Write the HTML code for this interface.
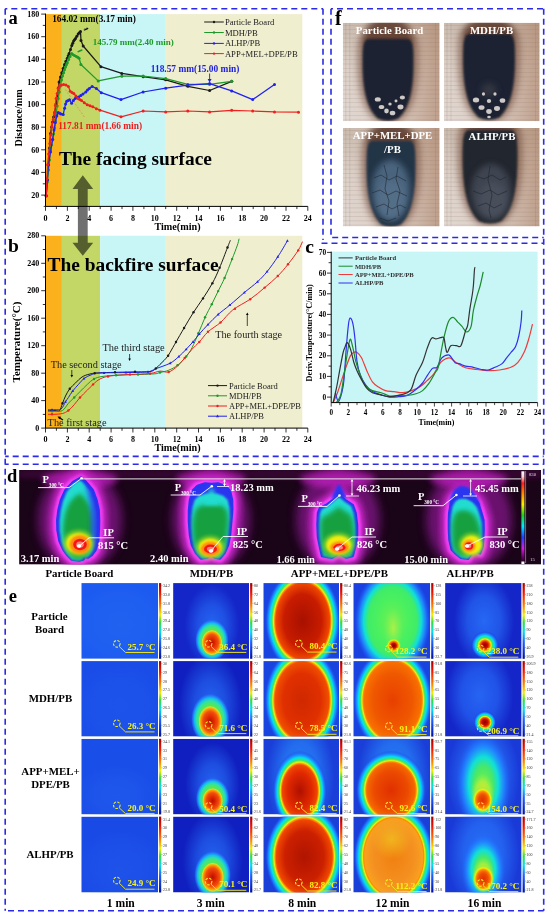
<!DOCTYPE html>
<html><head><meta charset="utf-8"><title>Figure</title>
<style>html,body{margin:0;padding:0;background:#fff;} svg{display:block;} text{font-family:'Liberation Serif', 'Times New Roman', serif;}</style>
</head><body>
<svg width="550" height="920" viewBox="0 0 550 920">
<rect width="550" height="920" fill="#fff"/>
<defs><filter id="bl1" x="-50%" y="-50%" width="200%" height="200%"><feGaussianBlur stdDeviation="1"/></filter><filter id="bl2" x="-50%" y="-50%" width="200%" height="200%"><feGaussianBlur stdDeviation="2"/></filter><filter id="bl3" x="-50%" y="-50%" width="200%" height="200%"><feGaussianBlur stdDeviation="3"/></filter><filter id="bl5" x="-50%" y="-50%" width="200%" height="200%"><feGaussianBlur stdDeviation="5"/></filter><filter id="bl8" x="-50%" y="-50%" width="200%" height="200%"><feGaussianBlur stdDeviation="8"/></filter><filter id="bl05" x="-50%" y="-50%" width="200%" height="200%"><feGaussianBlur stdDeviation="0.6"/></filter><clipPath id="cp1"><rect x="342.8" y="22.8" width="96.8" height="98.4"/></clipPath><linearGradient id="lg2" x1="0" y1="0" x2="0" y2="1"><stop offset="0" stop-color="#cbbcb0" stop-opacity="1"/><stop offset="0.5" stop-color="#ddd2ca" stop-opacity="1"/><stop offset="1" stop-color="#e2d9d3" stop-opacity="1"/></linearGradient><linearGradient id="lg3" x1="0" y1="0" x2="1" y2="0"><stop offset="0" stop-color="#b89078" stop-opacity="0"/><stop offset="0.5" stop-color="#b89078" stop-opacity="0.18"/><stop offset="1" stop-color="#a87c60" stop-opacity="0.62"/></linearGradient><clipPath id="cp4"><rect x="444.0" y="22.8" width="95.6" height="98.4"/></clipPath><linearGradient id="lg5" x1="0" y1="0" x2="0" y2="1"><stop offset="0" stop-color="#cbbcb0" stop-opacity="1"/><stop offset="0.5" stop-color="#ddd2ca" stop-opacity="1"/><stop offset="1" stop-color="#e2d9d3" stop-opacity="1"/></linearGradient><linearGradient id="lg6" x1="0" y1="0" x2="1" y2="0"><stop offset="0" stop-color="#b89078" stop-opacity="0"/><stop offset="0.5" stop-color="#b89078" stop-opacity="0.18"/><stop offset="1" stop-color="#a87c60" stop-opacity="0.62"/></linearGradient><clipPath id="cp7"><rect x="342.8" y="128.0" width="96.8" height="98.4"/></clipPath><linearGradient id="lg8" x1="0" y1="0" x2="0" y2="1"><stop offset="0" stop-color="#cbbcb0" stop-opacity="1"/><stop offset="0.5" stop-color="#ddd2ca" stop-opacity="1"/><stop offset="1" stop-color="#e2d9d3" stop-opacity="1"/></linearGradient><linearGradient id="lg9" x1="0" y1="0" x2="1" y2="0"><stop offset="0" stop-color="#b89078" stop-opacity="0"/><stop offset="0.5" stop-color="#b89078" stop-opacity="0.18"/><stop offset="1" stop-color="#a87c60" stop-opacity="0.62"/></linearGradient><clipPath id="cp10"><rect x="444.0" y="128.0" width="95.6" height="98.4"/></clipPath><linearGradient id="lg11" x1="0" y1="0" x2="0" y2="1"><stop offset="0" stop-color="#cbbcb0" stop-opacity="1"/><stop offset="0.5" stop-color="#ddd2ca" stop-opacity="1"/><stop offset="1" stop-color="#e2d9d3" stop-opacity="1"/></linearGradient><linearGradient id="lg12" x1="0" y1="0" x2="1" y2="0"><stop offset="0" stop-color="#b89078" stop-opacity="0"/><stop offset="0.5" stop-color="#b89078" stop-opacity="0.18"/><stop offset="1" stop-color="#a87c60" stop-opacity="0.62"/></linearGradient><clipPath id="cp13"><rect x="19.1" y="470.0" width="521.9" height="94.6"/></clipPath><linearGradient id="lg14" x1="0" y1="0" x2="0" y2="1"><stop offset="0" stop-color="#ffffff" stop-opacity="1"/><stop offset="0.06" stop-color="#ffd0d0" stop-opacity="1"/><stop offset="0.13" stop-color="#ff2020" stop-opacity="1"/><stop offset="0.25" stop-color="#ff9000" stop-opacity="1"/><stop offset="0.36" stop-color="#f8f000" stop-opacity="1"/><stop offset="0.48" stop-color="#20d020" stop-opacity="1"/><stop offset="0.6" stop-color="#00e8ff" stop-opacity="1"/><stop offset="0.72" stop-color="#2040ff" stop-opacity="1"/><stop offset="0.84" stop-color="#d020e0" stop-opacity="1"/><stop offset="0.94" stop-color="#600060" stop-opacity="1"/><stop offset="1" stop-color="#200020" stop-opacity="1"/></linearGradient><linearGradient id="lg15" x1="0" y1="0" x2="0" y2="1"><stop offset="0" stop-color="#a00000" stop-opacity="1"/><stop offset="0.12" stop-color="#f01000" stop-opacity="1"/><stop offset="0.3" stop-color="#ff8000" stop-opacity="1"/><stop offset="0.42" stop-color="#f0f000" stop-opacity="1"/><stop offset="0.52" stop-color="#30e040" stop-opacity="1"/><stop offset="0.64" stop-color="#00e0f0" stop-opacity="1"/><stop offset="0.78" stop-color="#2060ff" stop-opacity="1"/><stop offset="1" stop-color="#0010a0" stop-opacity="1"/></linearGradient><clipPath id="cp16"><rect x="81.3" y="583.1" width="76.7" height="75.7"/></clipPath><radialGradient id="rg17" cx="0.5" cy="0.5" r="0.5"><stop offset="0" stop-color="#2a70f0" stop-opacity="0.35"/><stop offset="0.55" stop-color="#2a70f0" stop-opacity="0.24499999999999997"/><stop offset="1" stop-color="#2a70f0" stop-opacity="0"/></radialGradient><clipPath id="cp18"><rect x="173.1" y="583.1" width="76.0" height="75.7"/></clipPath><radialGradient id="rg19" cx="0.5" cy="0.5" r="0.5"><stop offset="0" stop-color="#2a7aff" stop-opacity="0.75"/><stop offset="0.5" stop-color="#2a7aff" stop-opacity="0.5"/><stop offset="1" stop-color="#2a7aff" stop-opacity="0"/></radialGradient><radialGradient id="rg20" cx="0.5" cy="0.5" r="0.5"><stop offset="0" stop-color="#60e850" stop-opacity="1"/><stop offset="0.58" stop-color="#50e860" stop-opacity="1"/><stop offset="0.72" stop-color="#30e0a8" stop-opacity="1"/><stop offset="0.83" stop-color="#10c8f0" stop-opacity="0.9"/><stop offset="0.92" stop-color="#2a8cff" stop-opacity="0.6"/><stop offset="1" stop-color="#2a6cff" stop-opacity="0"/></radialGradient><radialGradient id="rg21" cx="0.5" cy="0.5" r="0.5"><stop offset="0" stop-color="#b81000" stop-opacity="1"/><stop offset="0.3" stop-color="#e02800" stop-opacity="1"/><stop offset="0.62" stop-color="#f05010" stop-opacity="1"/><stop offset="0.8" stop-color="#ff9a00" stop-opacity="1"/><stop offset="0.92" stop-color="#f0e020" stop-opacity="0.8"/><stop offset="1" stop-color="#90e040" stop-opacity="0"/></radialGradient><clipPath id="cp22"><rect x="263.3" y="583.1" width="75.8" height="75.7"/></clipPath><radialGradient id="rg23" cx="0.5" cy="0.5" r="0.5"><stop offset="0" stop-color="#a81000" stop-opacity="1"/><stop offset="0.5" stop-color="#c81c00" stop-opacity="1"/><stop offset="0.714" stop-color="#f04800" stop-opacity="1"/><stop offset="0.743" stop-color="#ff8c00" stop-opacity="1"/><stop offset="0.771" stop-color="#e8f010" stop-opacity="1"/><stop offset="0.811" stop-color="#40e860" stop-opacity="1"/><stop offset="0.863" stop-color="#00e0f0" stop-opacity="1"/><stop offset="0.926" stop-color="#2080ff" stop-opacity="0.9"/><stop offset="1" stop-color="#1a44e0" stop-opacity="0"/></radialGradient><clipPath id="cp24"><rect x="353.3" y="583.1" width="76.9" height="75.7"/></clipPath><radialGradient id="rg25" cx="0.5" cy="0.5" r="0.5"><stop offset="0" stop-color="#70f050" stop-opacity="1"/><stop offset="0.45" stop-color="#48f060" stop-opacity="1"/><stop offset="0.64" stop-color="#40ec68" stop-opacity="1"/><stop offset="0.76" stop-color="#10e0d8" stop-opacity="1"/><stop offset="0.87" stop-color="#2090ff" stop-opacity="0.85"/><stop offset="1" stop-color="#2060ff" stop-opacity="0"/></radialGradient><radialGradient id="rg26" cx="0.5" cy="0.5" r="0.5"><stop offset="0" stop-color="#c0f040" stop-opacity="0.8"/><stop offset="1" stop-color="#80f060" stop-opacity="0"/></radialGradient><radialGradient id="rg27" cx="0.5" cy="0.5" r="0.5"><stop offset="0" stop-color="#800000" stop-opacity="1"/><stop offset="0.327" stop-color="#c01000" stop-opacity="1"/><stop offset="0.467" stop-color="#f05000" stop-opacity="1"/><stop offset="0.6" stop-color="#ff9000" stop-opacity="1"/><stop offset="0.733" stop-color="#f0f000" stop-opacity="0.9"/><stop offset="0.867" stop-color="#a0f040" stop-opacity="0.5"/><stop offset="1" stop-color="#60e860" stop-opacity="0"/></radialGradient><clipPath id="cp28"><rect x="445.1" y="583.1" width="76.5" height="75.7"/></clipPath><radialGradient id="rg29" cx="0.5" cy="0.5" r="0.5"><stop offset="0" stop-color="#2a78ff" stop-opacity="0.8"/><stop offset="0.55" stop-color="#2a78ff" stop-opacity="0.5599999999999999"/><stop offset="1" stop-color="#2a78ff" stop-opacity="0"/></radialGradient><radialGradient id="rg30" cx="0.5" cy="0.5" r="0.5"><stop offset="0" stop-color="#900000" stop-opacity="1"/><stop offset="0.207" stop-color="#c81000" stop-opacity="1"/><stop offset="0.296" stop-color="#f04800" stop-opacity="1"/><stop offset="0.366" stop-color="#ff8c00" stop-opacity="1"/><stop offset="0.437" stop-color="#e8f010" stop-opacity="1"/><stop offset="0.535" stop-color="#40e860" stop-opacity="1"/><stop offset="0.662" stop-color="#00e0f0" stop-opacity="1"/><stop offset="0.817" stop-color="#2080ff" stop-opacity="0.9"/><stop offset="1" stop-color="#1426c8" stop-opacity="0"/></radialGradient><clipPath id="cp31"><rect x="81.3" y="661.1" width="76.7" height="75.5"/></clipPath><radialGradient id="rg32" cx="0.5" cy="0.5" r="0.5"><stop offset="0" stop-color="#2464f0" stop-opacity="0.3"/><stop offset="0.55" stop-color="#2464f0" stop-opacity="0.21"/><stop offset="1" stop-color="#2464f0" stop-opacity="0"/></radialGradient><clipPath id="cp33"><rect x="173.1" y="661.1" width="76.0" height="75.5"/></clipPath><radialGradient id="rg34" cx="0.5" cy="0.5" r="0.5"><stop offset="0" stop-color="#2a7aff" stop-opacity="0.75"/><stop offset="0.5" stop-color="#2a7aff" stop-opacity="0.5"/><stop offset="1" stop-color="#2a7aff" stop-opacity="0"/></radialGradient><radialGradient id="rg35" cx="0.5" cy="0.5" r="0.5"><stop offset="0" stop-color="#60e850" stop-opacity="1"/><stop offset="0.58" stop-color="#50e860" stop-opacity="1"/><stop offset="0.72" stop-color="#30e0a8" stop-opacity="1"/><stop offset="0.83" stop-color="#10c8f0" stop-opacity="0.9"/><stop offset="0.92" stop-color="#2a8cff" stop-opacity="0.6"/><stop offset="1" stop-color="#2a6cff" stop-opacity="0"/></radialGradient><radialGradient id="rg36" cx="0.5" cy="0.5" r="0.5"><stop offset="0" stop-color="#b81000" stop-opacity="1"/><stop offset="0.3" stop-color="#e02800" stop-opacity="1"/><stop offset="0.62" stop-color="#f05010" stop-opacity="1"/><stop offset="0.8" stop-color="#ff9a00" stop-opacity="1"/><stop offset="0.92" stop-color="#f0e020" stop-opacity="0.8"/><stop offset="1" stop-color="#90e040" stop-opacity="0"/></radialGradient><clipPath id="cp37"><rect x="263.3" y="661.1" width="75.8" height="75.5"/></clipPath><radialGradient id="rg38" cx="0.5" cy="0.5" r="0.5"><stop offset="0" stop-color="#d02800" stop-opacity="1"/><stop offset="0.501" stop-color="#e03000" stop-opacity="1"/><stop offset="0.716" stop-color="#f05000" stop-opacity="1"/><stop offset="0.744" stop-color="#ff8c00" stop-opacity="1"/><stop offset="0.773" stop-color="#e8f010" stop-opacity="1"/><stop offset="0.812" stop-color="#40e860" stop-opacity="1"/><stop offset="0.864" stop-color="#00e0f0" stop-opacity="1"/><stop offset="0.926" stop-color="#2080ff" stop-opacity="0.9"/><stop offset="1" stop-color="#1a44e0" stop-opacity="0"/></radialGradient><clipPath id="cp39"><rect x="353.3" y="661.1" width="76.9" height="75.5"/></clipPath><radialGradient id="rg40" cx="0.5" cy="0.5" r="0.5"><stop offset="0" stop-color="#e84000" stop-opacity="1"/><stop offset="0.504" stop-color="#f05800" stop-opacity="1"/><stop offset="0.72" stop-color="#f87000" stop-opacity="1"/><stop offset="0.748" stop-color="#ff8c00" stop-opacity="1"/><stop offset="0.776" stop-color="#e8f010" stop-opacity="1"/><stop offset="0.815" stop-color="#40e860" stop-opacity="1"/><stop offset="0.866" stop-color="#00e0f0" stop-opacity="1"/><stop offset="0.927" stop-color="#2080ff" stop-opacity="0.9"/><stop offset="1" stop-color="#1a44e0" stop-opacity="0"/></radialGradient><clipPath id="cp41"><rect x="445.1" y="661.1" width="76.5" height="75.5"/></clipPath><radialGradient id="rg42" cx="0.5" cy="0.5" r="0.5"><stop offset="0" stop-color="#2a74ff" stop-opacity="0.8"/><stop offset="0.55" stop-color="#2a74ff" stop-opacity="0.5599999999999999"/><stop offset="1" stop-color="#2a74ff" stop-opacity="0"/></radialGradient><radialGradient id="rg43" cx="0.5" cy="0.5" r="0.5"><stop offset="0" stop-color="#900000" stop-opacity="1"/><stop offset="0.274" stop-color="#c81000" stop-opacity="1"/><stop offset="0.391" stop-color="#f04800" stop-opacity="1"/><stop offset="0.452" stop-color="#ff8c00" stop-opacity="1"/><stop offset="0.513" stop-color="#e8f010" stop-opacity="1"/><stop offset="0.598" stop-color="#40e860" stop-opacity="1"/><stop offset="0.708" stop-color="#00e0f0" stop-opacity="1"/><stop offset="0.842" stop-color="#2080ff" stop-opacity="0.9"/><stop offset="1" stop-color="#1426c8" stop-opacity="0"/></radialGradient><clipPath id="cp44"><rect x="81.3" y="738.8" width="76.7" height="75.6"/></clipPath><radialGradient id="rg45" cx="0.5" cy="0.5" r="0.5"><stop offset="0" stop-color="#2460ee" stop-opacity="0.45"/><stop offset="0.55" stop-color="#2460ee" stop-opacity="0.315"/><stop offset="1" stop-color="#2460ee" stop-opacity="0"/></radialGradient><clipPath id="cp46"><rect x="173.1" y="738.8" width="76.0" height="75.6"/></clipPath><radialGradient id="rg47" cx="0.5" cy="0.5" r="0.5"><stop offset="0" stop-color="#2a7aff" stop-opacity="0.75"/><stop offset="0.5" stop-color="#2a7aff" stop-opacity="0.5"/><stop offset="1" stop-color="#2a7aff" stop-opacity="0"/></radialGradient><radialGradient id="rg48" cx="0.5" cy="0.5" r="0.5"><stop offset="0" stop-color="#60e850" stop-opacity="1"/><stop offset="0.58" stop-color="#50e860" stop-opacity="1"/><stop offset="0.72" stop-color="#30e0a8" stop-opacity="1"/><stop offset="0.83" stop-color="#10c8f0" stop-opacity="0.9"/><stop offset="0.92" stop-color="#2a8cff" stop-opacity="0.6"/><stop offset="1" stop-color="#2a6cff" stop-opacity="0"/></radialGradient><radialGradient id="rg49" cx="0.5" cy="0.5" r="0.5"><stop offset="0" stop-color="#b81000" stop-opacity="1"/><stop offset="0.3" stop-color="#e02800" stop-opacity="1"/><stop offset="0.62" stop-color="#f05010" stop-opacity="1"/><stop offset="0.8" stop-color="#ff9a00" stop-opacity="1"/><stop offset="0.92" stop-color="#f0e020" stop-opacity="0.8"/><stop offset="1" stop-color="#90e040" stop-opacity="0"/></radialGradient><clipPath id="cp50"><rect x="263.3" y="738.8" width="75.8" height="75.6"/></clipPath><radialGradient id="rg51" cx="0.5" cy="0.5" r="0.5"><stop offset="0" stop-color="#2a90ff" stop-opacity="0.8"/><stop offset="0.55" stop-color="#2a90ff" stop-opacity="0.5599999999999999"/><stop offset="1" stop-color="#2a90ff" stop-opacity="0"/></radialGradient><radialGradient id="rg52" cx="0.5" cy="0.5" r="0.5"><stop offset="0" stop-color="#b01000" stop-opacity="1"/><stop offset="0.451" stop-color="#e02800" stop-opacity="1"/><stop offset="0.644" stop-color="#f04800" stop-opacity="1"/><stop offset="0.68" stop-color="#ff8c00" stop-opacity="1"/><stop offset="0.716" stop-color="#e8f010" stop-opacity="1"/><stop offset="0.765" stop-color="#40e860" stop-opacity="1"/><stop offset="0.829" stop-color="#00e0f0" stop-opacity="1"/><stop offset="0.908" stop-color="#2080ff" stop-opacity="0.9"/><stop offset="1" stop-color="#1a3ed8" stop-opacity="0"/></radialGradient><clipPath id="cp53"><rect x="353.3" y="738.8" width="76.9" height="75.6"/></clipPath><radialGradient id="rg54" cx="0.5" cy="0.5" r="0.5"><stop offset="0" stop-color="#2a90ff" stop-opacity="0.8"/><stop offset="0.55" stop-color="#2a90ff" stop-opacity="0.5599999999999999"/><stop offset="1" stop-color="#2a90ff" stop-opacity="0"/></radialGradient><radialGradient id="rg55" cx="0.5" cy="0.5" r="0.5"><stop offset="0" stop-color="#e03000" stop-opacity="1"/><stop offset="0.476" stop-color="#ec4a00" stop-opacity="1"/><stop offset="0.68" stop-color="#f46800" stop-opacity="1"/><stop offset="0.712" stop-color="#ff8c00" stop-opacity="1"/><stop offset="0.744" stop-color="#e8f010" stop-opacity="1"/><stop offset="0.789" stop-color="#40e860" stop-opacity="1"/><stop offset="0.846" stop-color="#00e0f0" stop-opacity="1"/><stop offset="0.917" stop-color="#2080ff" stop-opacity="0.9"/><stop offset="1" stop-color="#1a3ed8" stop-opacity="0"/></radialGradient><clipPath id="cp56"><rect x="445.1" y="738.8" width="76.5" height="75.6"/></clipPath><radialGradient id="rg57" cx="0.5" cy="0.5" r="0.5"><stop offset="0" stop-color="#2a80ff" stop-opacity="0.8"/><stop offset="0.55" stop-color="#2a80ff" stop-opacity="0.5599999999999999"/><stop offset="1" stop-color="#2a80ff" stop-opacity="0"/></radialGradient><radialGradient id="rg58" cx="0.5" cy="0.5" r="0.5"><stop offset="0" stop-color="#70f050" stop-opacity="1"/><stop offset="0.35" stop-color="#48e868" stop-opacity="1"/><stop offset="0.55" stop-color="#10e0d8" stop-opacity="1"/><stop offset="0.75" stop-color="#2090ff" stop-opacity="0.85"/><stop offset="1" stop-color="#2060ff" stop-opacity="0"/></radialGradient><radialGradient id="rg59" cx="0.5" cy="0.5" r="0.5"><stop offset="0" stop-color="#f0e020" stop-opacity="0.9"/><stop offset="0.6" stop-color="#d0f030" stop-opacity="0.6"/><stop offset="1" stop-color="#a0f040" stop-opacity="0"/></radialGradient><radialGradient id="rg60" cx="0.5" cy="0.5" r="0.5"><stop offset="0" stop-color="#e03000" stop-opacity="1"/><stop offset="0.357" stop-color="#ec4a00" stop-opacity="1"/><stop offset="0.51" stop-color="#f46800" stop-opacity="1"/><stop offset="0.633" stop-color="#ff9000" stop-opacity="1"/><stop offset="0.755" stop-color="#f0f000" stop-opacity="0.9"/><stop offset="0.878" stop-color="#a0f040" stop-opacity="0.5"/><stop offset="1" stop-color="#60e860" stop-opacity="0"/></radialGradient><clipPath id="cp61"><rect x="81.3" y="816.6" width="76.7" height="75.9"/></clipPath><radialGradient id="rg62" cx="0.5" cy="0.5" r="0.5"><stop offset="0" stop-color="#2460ee" stop-opacity="0.35"/><stop offset="0.55" stop-color="#2460ee" stop-opacity="0.24499999999999997"/><stop offset="1" stop-color="#2460ee" stop-opacity="0"/></radialGradient><clipPath id="cp63"><rect x="173.1" y="816.6" width="76.0" height="75.9"/></clipPath><radialGradient id="rg64" cx="0.5" cy="0.5" r="0.5"><stop offset="0" stop-color="#2a7aff" stop-opacity="0.75"/><stop offset="0.5" stop-color="#2a7aff" stop-opacity="0.5"/><stop offset="1" stop-color="#2a7aff" stop-opacity="0"/></radialGradient><radialGradient id="rg65" cx="0.5" cy="0.5" r="0.5"><stop offset="0" stop-color="#60e850" stop-opacity="1"/><stop offset="0.58" stop-color="#50e860" stop-opacity="1"/><stop offset="0.72" stop-color="#30e0a8" stop-opacity="1"/><stop offset="0.83" stop-color="#10c8f0" stop-opacity="0.9"/><stop offset="0.92" stop-color="#2a8cff" stop-opacity="0.6"/><stop offset="1" stop-color="#2a6cff" stop-opacity="0"/></radialGradient><radialGradient id="rg66" cx="0.5" cy="0.5" r="0.5"><stop offset="0" stop-color="#b81000" stop-opacity="1"/><stop offset="0.3" stop-color="#e02800" stop-opacity="1"/><stop offset="0.62" stop-color="#f05010" stop-opacity="1"/><stop offset="0.8" stop-color="#ff9a00" stop-opacity="1"/><stop offset="0.92" stop-color="#f0e020" stop-opacity="0.8"/><stop offset="1" stop-color="#90e040" stop-opacity="0"/></radialGradient><clipPath id="cp67"><rect x="263.3" y="816.6" width="75.8" height="75.9"/></clipPath><radialGradient id="rg68" cx="0.5" cy="0.5" r="0.5"><stop offset="0" stop-color="#b01400" stop-opacity="1"/><stop offset="0.5" stop-color="#cc2000" stop-opacity="1"/><stop offset="0.714" stop-color="#f04800" stop-opacity="1"/><stop offset="0.743" stop-color="#ff8c00" stop-opacity="1"/><stop offset="0.771" stop-color="#e8f010" stop-opacity="1"/><stop offset="0.811" stop-color="#40e860" stop-opacity="1"/><stop offset="0.863" stop-color="#00e0f0" stop-opacity="1"/><stop offset="0.926" stop-color="#2080ff" stop-opacity="0.9"/><stop offset="1" stop-color="#1a3ed8" stop-opacity="0"/></radialGradient><clipPath id="cp69"><rect x="353.3" y="816.6" width="76.9" height="75.9"/></clipPath><radialGradient id="rg70" cx="0.5" cy="0.5" r="0.5"><stop offset="0" stop-color="#f08010" stop-opacity="1"/><stop offset="0.504" stop-color="#f49020" stop-opacity="1"/><stop offset="0.72" stop-color="#f8a020" stop-opacity="1"/><stop offset="0.748" stop-color="#ff8c00" stop-opacity="1"/><stop offset="0.776" stop-color="#e8f010" stop-opacity="1"/><stop offset="0.815" stop-color="#40e860" stop-opacity="1"/><stop offset="0.866" stop-color="#00e0f0" stop-opacity="1"/><stop offset="0.927" stop-color="#2080ff" stop-opacity="0.9"/><stop offset="1" stop-color="#1a3ed8" stop-opacity="0"/></radialGradient><radialGradient id="rg71" cx="0.5" cy="0.5" r="0.5"><stop offset="0" stop-color="#f0d020" stop-opacity="0.6"/><stop offset="1" stop-color="#f0d020" stop-opacity="0"/></radialGradient><clipPath id="cp72"><rect x="445.1" y="816.6" width="76.5" height="75.9"/></clipPath><radialGradient id="rg73" cx="0.5" cy="0.5" r="0.5"><stop offset="0" stop-color="#2a80ff" stop-opacity="0.8"/><stop offset="0.55" stop-color="#2a80ff" stop-opacity="0.5599999999999999"/><stop offset="1" stop-color="#2a80ff" stop-opacity="0"/></radialGradient><radialGradient id="rg74" cx="0.5" cy="0.5" r="0.5"><stop offset="0" stop-color="#70f050" stop-opacity="1"/><stop offset="0.35" stop-color="#48e868" stop-opacity="1"/><stop offset="0.55" stop-color="#10e0d8" stop-opacity="1"/><stop offset="0.75" stop-color="#2090ff" stop-opacity="0.85"/><stop offset="1" stop-color="#2060ff" stop-opacity="0"/></radialGradient><radialGradient id="rg75" cx="0.5" cy="0.5" r="0.5"><stop offset="0" stop-color="#f0e020" stop-opacity="0.9"/><stop offset="0.6" stop-color="#d0f030" stop-opacity="0.6"/><stop offset="1" stop-color="#a0f040" stop-opacity="0"/></radialGradient><radialGradient id="rg76" cx="0.5" cy="0.5" r="0.5"><stop offset="0" stop-color="#e03000" stop-opacity="1"/><stop offset="0.371" stop-color="#ec4a00" stop-opacity="1"/><stop offset="0.529" stop-color="#f46800" stop-opacity="1"/><stop offset="0.647" stop-color="#ff9000" stop-opacity="1"/><stop offset="0.765" stop-color="#f0f000" stop-opacity="0.9"/><stop offset="0.882" stop-color="#a0f040" stop-opacity="0.5"/><stop offset="1" stop-color="#60e860" stop-opacity="0"/></radialGradient></defs>
<rect x="45.5" y="14.1" width="16.4" height="192.3" fill="#fbb11c" />
<rect x="61.9" y="14.1" width="38.3" height="192.3" fill="#c2d766" />
<rect x="100.2" y="14.1" width="65.6" height="192.3" fill="#c8f5f6" />
<rect x="165.7" y="14.1" width="136.6" height="192.3" fill="#efeecf" />
<line x1="84.5" y1="29.6" x2="87.4" y2="28.4" stroke="#111" stroke-width="1.8" stroke-linecap="round"/>
<line x1="78.3" y1="51.5" x2="81.6" y2="50.2" stroke="#1f9a2a" stroke-width="1.8" stroke-linecap="round"/>
<line x1="80.5" y1="31.4" x2="96.0" y2="22.5" stroke="#c8d890" stroke-width="0.6" />
<line x1="72.0" y1="53.0" x2="92.0" y2="44.0" stroke="#c8d890" stroke-width="0.6" />
<line x1="65.3" y1="89.5" x2="84.4" y2="117.0" stroke="#f08060" stroke-width="0.8" stroke-dasharray="2 1.5"/>
<polyline points="46.2,195.8 47.3,180.0 48.4,164.7 49.5,148.0 50.5,133.6 51.6,127.0 52.6,122.0 53.6,117.0 54.7,112.5 56.0,104.0 57.5,95.5 58.3,88.0 59.1,82.0 60.5,77.0 61.8,72.7 63.1,68.5 64.5,64.5 65.9,61.3 67.3,58.2 68.2,55.8 69.1,53.5 70.5,49.5 71.8,45.5 72.7,43.2 73.6,41.0 74.5,39.7 75.5,38.5 76.8,36.3 78.2,34.1 79.3,32.7 80.5,31.4 81.0,40.5 83.2,46.0 100.9,66.7 121.8,73.4 143.1,76.7 165.7,79.8 187.8,86.3 209.6,90.5 231.7,81.3" fill="none" stroke="#1a1a1a" stroke-width="1.25" stroke-linejoin="round" />
<circle cx="46.2" cy="195.8" r="1.5" fill="#1a1a1a"/>
<circle cx="47.3" cy="180.0" r="1.5" fill="#1a1a1a"/>
<circle cx="48.4" cy="164.7" r="1.5" fill="#1a1a1a"/>
<circle cx="49.5" cy="148.0" r="1.5" fill="#1a1a1a"/>
<circle cx="50.5" cy="133.6" r="1.5" fill="#1a1a1a"/>
<circle cx="51.6" cy="127.0" r="1.5" fill="#1a1a1a"/>
<circle cx="52.6" cy="122.0" r="1.5" fill="#1a1a1a"/>
<circle cx="53.6" cy="117.0" r="1.5" fill="#1a1a1a"/>
<circle cx="54.7" cy="112.5" r="1.5" fill="#1a1a1a"/>
<circle cx="56.0" cy="104.0" r="1.5" fill="#1a1a1a"/>
<circle cx="57.5" cy="95.5" r="1.5" fill="#1a1a1a"/>
<circle cx="58.3" cy="88.0" r="1.5" fill="#1a1a1a"/>
<circle cx="59.1" cy="82.0" r="1.5" fill="#1a1a1a"/>
<circle cx="60.5" cy="77.0" r="1.5" fill="#1a1a1a"/>
<circle cx="61.8" cy="72.7" r="1.5" fill="#1a1a1a"/>
<circle cx="63.1" cy="68.5" r="1.5" fill="#1a1a1a"/>
<circle cx="64.5" cy="64.5" r="1.5" fill="#1a1a1a"/>
<circle cx="65.9" cy="61.3" r="1.5" fill="#1a1a1a"/>
<circle cx="67.3" cy="58.2" r="1.5" fill="#1a1a1a"/>
<circle cx="68.2" cy="55.8" r="1.5" fill="#1a1a1a"/>
<circle cx="69.1" cy="53.5" r="1.5" fill="#1a1a1a"/>
<circle cx="70.5" cy="49.5" r="1.5" fill="#1a1a1a"/>
<circle cx="71.8" cy="45.5" r="1.5" fill="#1a1a1a"/>
<circle cx="72.7" cy="43.2" r="1.5" fill="#1a1a1a"/>
<circle cx="73.6" cy="41.0" r="1.5" fill="#1a1a1a"/>
<circle cx="74.5" cy="39.7" r="1.5" fill="#1a1a1a"/>
<circle cx="75.5" cy="38.5" r="1.5" fill="#1a1a1a"/>
<circle cx="76.8" cy="36.3" r="1.5" fill="#1a1a1a"/>
<circle cx="78.2" cy="34.1" r="1.5" fill="#1a1a1a"/>
<circle cx="79.3" cy="32.7" r="1.5" fill="#1a1a1a"/>
<circle cx="80.5" cy="31.4" r="1.5" fill="#1a1a1a"/>
<circle cx="81.0" cy="40.5" r="1.5" fill="#1a1a1a"/>
<circle cx="83.2" cy="46.0" r="1.5" fill="#1a1a1a"/>
<circle cx="100.9" cy="66.7" r="1.5" fill="#1a1a1a"/>
<circle cx="121.8" cy="73.4" r="1.5" fill="#1a1a1a"/>
<circle cx="143.1" cy="76.7" r="1.5" fill="#1a1a1a"/>
<circle cx="165.7" cy="79.8" r="1.5" fill="#1a1a1a"/>
<circle cx="187.8" cy="86.3" r="1.5" fill="#1a1a1a"/>
<circle cx="209.6" cy="90.5" r="1.5" fill="#1a1a1a"/>
<circle cx="231.7" cy="81.3" r="1.5" fill="#1a1a1a"/>
<polyline points="46.2,195.8 47.3,182.0 48.5,170.0 49.5,160.0 50.5,150.0 51.5,145.0 52.6,140.0 53.6,134.0 54.7,128.0 55.4,121.0 56.1,114.0 57.2,106.0 58.2,98.4 59.3,92.0 60.4,86.0 61.5,80.0 62.5,76.0 63.6,72.7 64.5,69.8 65.5,67.0 66.4,64.8 67.3,62.7 68.6,59.5 70.0,56.4 71.7,53.5 72.7,54.5 74.5,55.5 76.4,56.4 77.8,57.3 79.1,58.2 80.9,64.5 98.2,80.9 121.8,76.2 143.1,76.0 165.7,78.6 187.8,84.4 209.6,84.4 231.7,81.3" fill="none" stroke="#1e9a2a" stroke-width="1.25" stroke-linejoin="round" />
<circle cx="46.2" cy="195.8" r="1.5" fill="#1e9a2a"/>
<circle cx="47.3" cy="182.0" r="1.5" fill="#1e9a2a"/>
<circle cx="48.5" cy="170.0" r="1.5" fill="#1e9a2a"/>
<circle cx="49.5" cy="160.0" r="1.5" fill="#1e9a2a"/>
<circle cx="50.5" cy="150.0" r="1.5" fill="#1e9a2a"/>
<circle cx="51.5" cy="145.0" r="1.5" fill="#1e9a2a"/>
<circle cx="52.6" cy="140.0" r="1.5" fill="#1e9a2a"/>
<circle cx="53.6" cy="134.0" r="1.5" fill="#1e9a2a"/>
<circle cx="54.7" cy="128.0" r="1.5" fill="#1e9a2a"/>
<circle cx="55.4" cy="121.0" r="1.5" fill="#1e9a2a"/>
<circle cx="56.1" cy="114.0" r="1.5" fill="#1e9a2a"/>
<circle cx="57.2" cy="106.0" r="1.5" fill="#1e9a2a"/>
<circle cx="58.2" cy="98.4" r="1.5" fill="#1e9a2a"/>
<circle cx="59.3" cy="92.0" r="1.5" fill="#1e9a2a"/>
<circle cx="60.4" cy="86.0" r="1.5" fill="#1e9a2a"/>
<circle cx="61.5" cy="80.0" r="1.5" fill="#1e9a2a"/>
<circle cx="62.5" cy="76.0" r="1.5" fill="#1e9a2a"/>
<circle cx="63.6" cy="72.7" r="1.5" fill="#1e9a2a"/>
<circle cx="64.5" cy="69.8" r="1.5" fill="#1e9a2a"/>
<circle cx="65.5" cy="67.0" r="1.5" fill="#1e9a2a"/>
<circle cx="66.4" cy="64.8" r="1.5" fill="#1e9a2a"/>
<circle cx="67.3" cy="62.7" r="1.5" fill="#1e9a2a"/>
<circle cx="68.6" cy="59.5" r="1.5" fill="#1e9a2a"/>
<circle cx="70.0" cy="56.4" r="1.5" fill="#1e9a2a"/>
<circle cx="71.7" cy="53.5" r="1.5" fill="#1e9a2a"/>
<circle cx="72.7" cy="54.5" r="1.5" fill="#1e9a2a"/>
<circle cx="74.5" cy="55.5" r="1.5" fill="#1e9a2a"/>
<circle cx="76.4" cy="56.4" r="1.5" fill="#1e9a2a"/>
<circle cx="77.8" cy="57.3" r="1.5" fill="#1e9a2a"/>
<circle cx="79.1" cy="58.2" r="1.5" fill="#1e9a2a"/>
<circle cx="80.9" cy="64.5" r="1.5" fill="#1e9a2a"/>
<circle cx="98.2" cy="80.9" r="1.5" fill="#1e9a2a"/>
<circle cx="121.8" cy="76.2" r="1.5" fill="#1e9a2a"/>
<circle cx="143.1" cy="76.0" r="1.5" fill="#1e9a2a"/>
<circle cx="165.7" cy="78.6" r="1.5" fill="#1e9a2a"/>
<circle cx="187.8" cy="84.4" r="1.5" fill="#1e9a2a"/>
<circle cx="209.6" cy="84.4" r="1.5" fill="#1e9a2a"/>
<circle cx="231.7" cy="81.3" r="1.5" fill="#1e9a2a"/>
<polyline points="46.2,195.8 47.3,180.0 48.4,165.0 50.5,152.0 52.6,139.3 54.0,130.0 55.4,122.4 56.8,116.0 58.2,112.5 59.6,113.2 61.0,113.9 63.2,114.6 64.6,108.2 65.6,104.0 66.7,101.2 68.1,100.5 69.5,99.8 71.6,103.3 73.4,100.5 75.2,98.4 77.0,97.6 78.7,96.9 80.8,95.5 83.0,94.1 85.8,92.0 87.5,90.0 89.3,88.5 92.1,86.4 96.4,88.5 101.3,92.7 121.0,99.6 143.1,92.0 165.7,88.2 187.8,85.1 209.6,83.6 231.7,90.9 252.7,99.6 274.5,84.4" fill="none" stroke="#2020f0" stroke-width="1.25" stroke-linejoin="round" />
<circle cx="46.2" cy="195.8" r="1.5" fill="#2020f0"/>
<circle cx="47.3" cy="180.0" r="1.5" fill="#2020f0"/>
<circle cx="48.4" cy="165.0" r="1.5" fill="#2020f0"/>
<circle cx="50.5" cy="152.0" r="1.5" fill="#2020f0"/>
<circle cx="52.6" cy="139.3" r="1.5" fill="#2020f0"/>
<circle cx="54.0" cy="130.0" r="1.5" fill="#2020f0"/>
<circle cx="55.4" cy="122.4" r="1.5" fill="#2020f0"/>
<circle cx="56.8" cy="116.0" r="1.5" fill="#2020f0"/>
<circle cx="58.2" cy="112.5" r="1.5" fill="#2020f0"/>
<circle cx="59.6" cy="113.2" r="1.5" fill="#2020f0"/>
<circle cx="61.0" cy="113.9" r="1.5" fill="#2020f0"/>
<circle cx="63.2" cy="114.6" r="1.5" fill="#2020f0"/>
<circle cx="64.6" cy="108.2" r="1.5" fill="#2020f0"/>
<circle cx="65.6" cy="104.0" r="1.5" fill="#2020f0"/>
<circle cx="66.7" cy="101.2" r="1.5" fill="#2020f0"/>
<circle cx="68.1" cy="100.5" r="1.5" fill="#2020f0"/>
<circle cx="69.5" cy="99.8" r="1.5" fill="#2020f0"/>
<circle cx="71.6" cy="103.3" r="1.5" fill="#2020f0"/>
<circle cx="73.4" cy="100.5" r="1.5" fill="#2020f0"/>
<circle cx="75.2" cy="98.4" r="1.5" fill="#2020f0"/>
<circle cx="77.0" cy="97.6" r="1.5" fill="#2020f0"/>
<circle cx="78.7" cy="96.9" r="1.5" fill="#2020f0"/>
<circle cx="80.8" cy="95.5" r="1.5" fill="#2020f0"/>
<circle cx="83.0" cy="94.1" r="1.5" fill="#2020f0"/>
<circle cx="85.8" cy="92.0" r="1.5" fill="#2020f0"/>
<circle cx="87.5" cy="90.0" r="1.5" fill="#2020f0"/>
<circle cx="89.3" cy="88.5" r="1.5" fill="#2020f0"/>
<circle cx="92.1" cy="86.4" r="1.5" fill="#2020f0"/>
<circle cx="96.4" cy="88.5" r="1.5" fill="#2020f0"/>
<circle cx="101.3" cy="92.7" r="1.5" fill="#2020f0"/>
<circle cx="121.0" cy="99.6" r="1.5" fill="#2020f0"/>
<circle cx="143.1" cy="92.0" r="1.5" fill="#2020f0"/>
<circle cx="165.7" cy="88.2" r="1.5" fill="#2020f0"/>
<circle cx="187.8" cy="85.1" r="1.5" fill="#2020f0"/>
<circle cx="209.6" cy="83.6" r="1.5" fill="#2020f0"/>
<circle cx="231.7" cy="90.9" r="1.5" fill="#2020f0"/>
<circle cx="252.7" cy="99.6" r="1.5" fill="#2020f0"/>
<circle cx="274.5" cy="84.4" r="1.5" fill="#2020f0"/>
<polyline points="46.2,195.8 46.9,178.8 47.6,164.7 48.7,154.0 49.8,143.5 50.8,135.0 51.9,126.6 53.3,119.5 54.7,112.5 55.4,105.5 56.1,98.4 57.2,93.4 58.2,88.5 59.6,85.6 61.5,85.0 63.6,84.5 66.0,85.0 68.4,86.5 70.2,91.3 72.0,92.5 73.8,93.4 75.9,96.0 78.0,98.4 79.7,99.5 81.5,100.5 84.3,102.7 87.2,104.7 90.0,105.8 92.8,106.8 96.4,108.7 100.0,110.2 121.0,116.8 143.1,111.0 165.7,111.9 187.8,111.0 209.6,111.9 231.7,110.3 252.7,111.0 274.5,111.9 298.5,112.2" fill="none" stroke="#f02020" stroke-width="1.25" stroke-linejoin="round" />
<circle cx="46.2" cy="195.8" r="1.5" fill="#f02020"/>
<circle cx="46.9" cy="178.8" r="1.5" fill="#f02020"/>
<circle cx="47.6" cy="164.7" r="1.5" fill="#f02020"/>
<circle cx="48.7" cy="154.0" r="1.5" fill="#f02020"/>
<circle cx="49.8" cy="143.5" r="1.5" fill="#f02020"/>
<circle cx="50.8" cy="135.0" r="1.5" fill="#f02020"/>
<circle cx="51.9" cy="126.6" r="1.5" fill="#f02020"/>
<circle cx="53.3" cy="119.5" r="1.5" fill="#f02020"/>
<circle cx="54.7" cy="112.5" r="1.5" fill="#f02020"/>
<circle cx="55.4" cy="105.5" r="1.5" fill="#f02020"/>
<circle cx="56.1" cy="98.4" r="1.5" fill="#f02020"/>
<circle cx="57.2" cy="93.4" r="1.5" fill="#f02020"/>
<circle cx="58.2" cy="88.5" r="1.5" fill="#f02020"/>
<circle cx="59.6" cy="85.6" r="1.5" fill="#f02020"/>
<circle cx="61.5" cy="85.0" r="1.5" fill="#f02020"/>
<circle cx="63.6" cy="84.5" r="1.5" fill="#f02020"/>
<circle cx="66.0" cy="85.0" r="1.5" fill="#f02020"/>
<circle cx="68.4" cy="86.5" r="1.5" fill="#f02020"/>
<circle cx="70.2" cy="91.3" r="1.5" fill="#f02020"/>
<circle cx="72.0" cy="92.5" r="1.5" fill="#f02020"/>
<circle cx="73.8" cy="93.4" r="1.5" fill="#f02020"/>
<circle cx="75.9" cy="96.0" r="1.5" fill="#f02020"/>
<circle cx="78.0" cy="98.4" r="1.5" fill="#f02020"/>
<circle cx="79.7" cy="99.5" r="1.5" fill="#f02020"/>
<circle cx="81.5" cy="100.5" r="1.5" fill="#f02020"/>
<circle cx="84.3" cy="102.7" r="1.5" fill="#f02020"/>
<circle cx="87.2" cy="104.7" r="1.5" fill="#f02020"/>
<circle cx="90.0" cy="105.8" r="1.5" fill="#f02020"/>
<circle cx="92.8" cy="106.8" r="1.5" fill="#f02020"/>
<circle cx="96.4" cy="108.7" r="1.5" fill="#f02020"/>
<circle cx="100.0" cy="110.2" r="1.5" fill="#f02020"/>
<circle cx="121.0" cy="116.8" r="1.5" fill="#f02020"/>
<circle cx="143.1" cy="111.0" r="1.5" fill="#f02020"/>
<circle cx="165.7" cy="111.9" r="1.5" fill="#f02020"/>
<circle cx="187.8" cy="111.0" r="1.5" fill="#f02020"/>
<circle cx="209.6" cy="111.9" r="1.5" fill="#f02020"/>
<circle cx="231.7" cy="110.3" r="1.5" fill="#f02020"/>
<circle cx="252.7" cy="111.0" r="1.5" fill="#f02020"/>
<circle cx="274.5" cy="111.9" r="1.5" fill="#f02020"/>
<circle cx="298.5" cy="112.2" r="1.5" fill="#f02020"/>
<line x1="45.5" y1="13.6" x2="45.5" y2="206.4" stroke="#000" stroke-width="1.0" />
<line x1="41.2" y1="195.1" x2="45.5" y2="195.1" stroke="#000" stroke-width="0.8" />
<text x="39.2" y="197.7" font-size="8.0" font-weight="bold" fill="#000" text-anchor="end" >20</text>
<line x1="42.8" y1="183.8" x2="45.5" y2="183.8" stroke="#000" stroke-width="0.8" />
<line x1="41.2" y1="172.4" x2="45.5" y2="172.4" stroke="#000" stroke-width="0.8" />
<text x="39.2" y="175.1" font-size="8.0" font-weight="bold" fill="#000" text-anchor="end" >40</text>
<line x1="42.8" y1="161.1" x2="45.5" y2="161.1" stroke="#000" stroke-width="0.8" />
<line x1="41.2" y1="149.8" x2="45.5" y2="149.8" stroke="#000" stroke-width="0.8" />
<text x="39.2" y="152.5" font-size="8.0" font-weight="bold" fill="#000" text-anchor="end" >60</text>
<line x1="42.8" y1="138.5" x2="45.5" y2="138.5" stroke="#000" stroke-width="0.8" />
<line x1="41.2" y1="127.2" x2="45.5" y2="127.2" stroke="#000" stroke-width="0.8" />
<text x="39.2" y="129.8" font-size="8.0" font-weight="bold" fill="#000" text-anchor="end" >80</text>
<line x1="42.8" y1="115.9" x2="45.5" y2="115.9" stroke="#000" stroke-width="0.8" />
<line x1="41.2" y1="104.6" x2="45.5" y2="104.6" stroke="#000" stroke-width="0.8" />
<text x="39.2" y="107.2" font-size="8.0" font-weight="bold" fill="#000" text-anchor="end" >100</text>
<line x1="42.8" y1="93.3" x2="45.5" y2="93.3" stroke="#000" stroke-width="0.8" />
<line x1="41.2" y1="82.0" x2="45.5" y2="82.0" stroke="#000" stroke-width="0.8" />
<text x="39.2" y="84.6" font-size="8.0" font-weight="bold" fill="#000" text-anchor="end" >120</text>
<line x1="42.8" y1="70.6" x2="45.5" y2="70.6" stroke="#000" stroke-width="0.8" />
<line x1="41.2" y1="59.3" x2="45.5" y2="59.3" stroke="#000" stroke-width="0.8" />
<text x="39.2" y="62.0" font-size="8.0" font-weight="bold" fill="#000" text-anchor="end" >140</text>
<line x1="42.8" y1="48.0" x2="45.5" y2="48.0" stroke="#000" stroke-width="0.8" />
<line x1="41.2" y1="36.7" x2="45.5" y2="36.7" stroke="#000" stroke-width="0.8" />
<text x="39.2" y="39.4" font-size="8.0" font-weight="bold" fill="#000" text-anchor="end" >160</text>
<line x1="42.8" y1="25.4" x2="45.5" y2="25.4" stroke="#000" stroke-width="0.8" />
<line x1="41.2" y1="14.1" x2="45.5" y2="14.1" stroke="#000" stroke-width="0.8" />
<text x="39.2" y="16.7" font-size="8.0" font-weight="bold" fill="#000" text-anchor="end" >180</text>
<line x1="43.7" y1="206.4" x2="45.5" y2="206.4" stroke="#000" stroke-width="0.8" />
<line x1="45.5" y1="206.4" x2="307.8" y2="206.4" stroke="#000" stroke-width="1.0" />
<line x1="45.5" y1="206.4" x2="45.5" y2="210.8" stroke="#000" stroke-width="0.8" />
<text x="45.5" y="220.6" font-size="8.0" font-weight="bold" fill="#000" text-anchor="middle" >0</text>
<line x1="56.4" y1="206.4" x2="56.4" y2="209.1" stroke="#000" stroke-width="0.8" />
<line x1="67.4" y1="206.4" x2="67.4" y2="210.8" stroke="#000" stroke-width="0.8" />
<text x="67.4" y="220.6" font-size="8.0" font-weight="bold" fill="#000" text-anchor="middle" >2</text>
<line x1="78.3" y1="206.4" x2="78.3" y2="209.1" stroke="#000" stroke-width="0.8" />
<line x1="89.2" y1="206.4" x2="89.2" y2="210.8" stroke="#000" stroke-width="0.8" />
<text x="89.2" y="220.6" font-size="8.0" font-weight="bold" fill="#000" text-anchor="middle" >4</text>
<line x1="100.2" y1="206.4" x2="100.2" y2="209.1" stroke="#000" stroke-width="0.8" />
<line x1="111.1" y1="206.4" x2="111.1" y2="210.8" stroke="#000" stroke-width="0.8" />
<text x="111.1" y="220.6" font-size="8.0" font-weight="bold" fill="#000" text-anchor="middle" >6</text>
<line x1="122.0" y1="206.4" x2="122.0" y2="209.1" stroke="#000" stroke-width="0.8" />
<line x1="132.9" y1="206.4" x2="132.9" y2="210.8" stroke="#000" stroke-width="0.8" />
<text x="132.9" y="220.6" font-size="8.0" font-weight="bold" fill="#000" text-anchor="middle" >8</text>
<line x1="143.9" y1="206.4" x2="143.9" y2="209.1" stroke="#000" stroke-width="0.8" />
<line x1="154.8" y1="206.4" x2="154.8" y2="210.8" stroke="#000" stroke-width="0.8" />
<text x="154.8" y="220.6" font-size="8.0" font-weight="bold" fill="#000" text-anchor="middle" >10</text>
<line x1="165.7" y1="206.4" x2="165.7" y2="209.1" stroke="#000" stroke-width="0.8" />
<line x1="176.7" y1="206.4" x2="176.7" y2="210.8" stroke="#000" stroke-width="0.8" />
<text x="176.7" y="220.6" font-size="8.0" font-weight="bold" fill="#000" text-anchor="middle" >12</text>
<line x1="187.6" y1="206.4" x2="187.6" y2="209.1" stroke="#000" stroke-width="0.8" />
<line x1="198.5" y1="206.4" x2="198.5" y2="210.8" stroke="#000" stroke-width="0.8" />
<text x="198.5" y="220.6" font-size="8.0" font-weight="bold" fill="#000" text-anchor="middle" >14</text>
<line x1="209.4" y1="206.4" x2="209.4" y2="209.1" stroke="#000" stroke-width="0.8" />
<line x1="220.4" y1="206.4" x2="220.4" y2="210.8" stroke="#000" stroke-width="0.8" />
<text x="220.4" y="220.6" font-size="8.0" font-weight="bold" fill="#000" text-anchor="middle" >16</text>
<line x1="231.3" y1="206.4" x2="231.3" y2="209.1" stroke="#000" stroke-width="0.8" />
<line x1="242.2" y1="206.4" x2="242.2" y2="210.8" stroke="#000" stroke-width="0.8" />
<text x="242.2" y="220.6" font-size="8.0" font-weight="bold" fill="#000" text-anchor="middle" >18</text>
<line x1="253.2" y1="206.4" x2="253.2" y2="209.1" stroke="#000" stroke-width="0.8" />
<line x1="264.1" y1="206.4" x2="264.1" y2="210.8" stroke="#000" stroke-width="0.8" />
<text x="264.1" y="220.6" font-size="8.0" font-weight="bold" fill="#000" text-anchor="middle" >20</text>
<line x1="275.0" y1="206.4" x2="275.0" y2="209.1" stroke="#000" stroke-width="0.8" />
<line x1="286.0" y1="206.4" x2="286.0" y2="210.8" stroke="#000" stroke-width="0.8" />
<text x="286.0" y="220.6" font-size="8.0" font-weight="bold" fill="#000" text-anchor="middle" >22</text>
<line x1="296.9" y1="206.4" x2="296.9" y2="209.1" stroke="#000" stroke-width="0.8" />
<line x1="307.8" y1="206.4" x2="307.8" y2="210.8" stroke="#000" stroke-width="0.8" />
<text x="307.8" y="220.6" font-size="8.0" font-weight="bold" fill="#000" text-anchor="middle" >24</text>
<text x="52.2" y="22.0" font-size="9.3" font-weight="bold" fill="#000" text-anchor="start" >164.02 mm(3.17 min)</text>
<text x="92.7" y="45.0" font-size="9.0" font-weight="bold" fill="#1f9a2a" text-anchor="start" >145.79 mm(2.40 min)</text>
<text x="150.8" y="71.5" font-size="9.4" font-weight="bold" fill="#2020e0" text-anchor="start" >118.57 mm(15.00 min)</text>
<text x="58.2" y="129.2" font-size="9.4" font-weight="bold" fill="#ee1c1c" text-anchor="start" >117.81 mm(1.66 min)</text>
<line x1="209.6" y1="73.5" x2="209.6" y2="80.5" stroke="#2020e0" stroke-width="0.9" />
<path d="M207.6,79 L211.6,79 L209.6,82.5Z" fill="#2020e0"/>
<text x="8.4" y="23.6" font-size="18.5" font-weight="bold" fill="#000" text-anchor="start" >a</text>
<text x="154.4" y="229.5" font-size="10.2" font-weight="bold" fill="#000" text-anchor="start" >Time(min)</text>
<text x="21.6" y="117.9" font-size="10.2" font-weight="bold" text-anchor="middle" transform="rotate(-90 21.6 117.9)">Distance/mm</text>
<text x="58.9" y="164.7" font-size="19.4" font-weight="bold" fill="#000" text-anchor="start" >The facing surface</text>
<line x1="204.2" y1="22.0" x2="223.8" y2="22.0" stroke="#1a1a1a" stroke-width="1.0" />
<circle cx="214" cy="22" r="1.2" fill="#1a1a1a"/>
<text x="224.9" y="25.0" font-size="8.6" font-weight="normal" fill="#222" text-anchor="start" >Particle Board</text>
<line x1="204.2" y1="32.5" x2="223.8" y2="32.5" stroke="#1e9a2a" stroke-width="1.0" />
<circle cx="214" cy="32.5" r="1.2" fill="#1e9a2a"/>
<text x="224.9" y="35.5" font-size="8.6" font-weight="normal" fill="#222" text-anchor="start" >MDH/PB</text>
<line x1="204.2" y1="43.4" x2="223.8" y2="43.4" stroke="#2020f0" stroke-width="1.0" />
<circle cx="214" cy="43.4" r="1.2" fill="#2020f0"/>
<text x="224.9" y="46.4" font-size="8.6" font-weight="normal" fill="#222" text-anchor="start" >ALHP/PB</text>
<line x1="204.2" y1="53.6" x2="223.8" y2="53.6" stroke="#f02020" stroke-width="1.0" />
<circle cx="214" cy="53.6" r="1.2" fill="#f02020"/>
<text x="224.9" y="56.6" font-size="8.6" font-weight="normal" fill="#222" text-anchor="start" >APP+MEL+DPE/PB</text>
<rect x="45.5" y="235.8" width="16.4" height="192.3" fill="#fbb11c" />
<rect x="61.9" y="235.8" width="38.3" height="192.3" fill="#c2d766" />
<rect x="100.2" y="235.8" width="65.6" height="192.3" fill="#c8f5f6" />
<rect x="165.7" y="235.8" width="136.6" height="192.3" fill="#efeecf" />
<path d="M48.0,410.8 C49.2,410.8 53.1,410.6 55.0,410.5 C56.9,410.4 58.4,411.7 59.6,410.5 C60.9,409.3 61.5,405.7 62.5,403.3 C63.5,400.9 64.3,398.4 65.5,396.0 C66.7,393.6 68.1,390.9 69.8,388.7 C71.5,386.5 73.6,384.8 75.6,382.9 C77.6,380.9 79.6,378.5 82.0,377.0 C84.4,375.5 87.0,374.7 90.0,374.0 C93.0,373.3 93.3,373.1 100.0,372.8 C106.7,372.5 121.7,372.2 130.0,372.0 C138.3,371.8 145.7,372.1 150.0,371.5 C154.3,370.9 154.1,369.7 155.8,368.5 C157.5,367.3 158.6,365.7 160.0,364.4 C161.4,363.1 162.7,361.9 164.0,360.5 C165.3,359.1 166.8,357.6 168.1,355.7 C169.4,353.8 170.7,351.3 172.0,349.0 C173.3,346.7 174.0,345.5 176.0,342.0 C178.0,338.5 181.2,332.9 184.1,328.0 C187.0,323.1 190.3,317.2 193.5,312.3 C196.7,307.4 199.8,303.2 203.0,298.4 C206.2,293.5 209.6,288.3 212.4,283.2 C215.2,278.1 217.1,273.8 219.6,267.8 C222.1,261.9 225.7,252.1 227.5,247.5 C229.3,242.9 229.9,241.4 230.4,240.2" fill="none" stroke="#1a1a1a" stroke-width="1.0" stroke-linejoin="round" />
<path d="M48.0,411.3 C49.2,411.3 52.6,411.4 55.0,411.3 C57.4,411.2 60.3,411.8 62.5,410.5 C64.7,409.2 66.5,405.5 68.4,403.3 C70.4,401.1 72.3,399.4 74.2,397.5 C76.1,395.6 77.8,393.8 80.0,391.6 C82.2,389.4 85.0,386.5 87.3,384.4 C89.6,382.3 91.5,380.3 94.0,379.0 C96.5,377.7 97.7,377.2 102.0,376.5 C106.3,375.8 113.7,375.3 120.0,375.0 C126.3,374.7 134.2,374.7 140.0,374.5 C145.8,374.3 151.7,374.1 155.0,373.8 C158.3,373.5 157.7,373.1 160.0,372.5 C162.3,371.9 165.8,371.4 168.7,370.2 C171.6,369.0 174.6,367.6 177.5,365.3 C180.4,363.0 183.8,359.4 186.2,356.5 C188.6,353.6 190.0,351.7 192.0,347.8 C194.0,343.9 196.2,338.4 198.4,333.3 C200.6,328.2 202.9,322.2 205.1,317.3 C207.3,312.4 209.6,308.6 211.8,304.2 C214.0,299.8 216.1,295.5 218.2,291.1 C220.3,286.7 222.3,283.3 224.6,278.0 C226.9,272.7 230.0,264.4 232.1,259.1 C234.2,253.8 235.9,249.4 237.1,246.0 C238.3,242.6 238.8,239.9 239.1,238.7" fill="none" stroke="#1e9a2a" stroke-width="1.0" stroke-linejoin="round" />
<path d="M48.0,414.3 C49.2,414.3 52.6,414.4 55.0,414.3 C57.4,414.2 60.3,414.1 62.5,413.5 C64.7,412.9 66.5,412.0 68.4,410.5 C70.4,409.0 72.3,406.9 74.2,404.7 C76.1,402.5 77.8,399.9 80.0,397.5 C82.2,395.1 85.1,392.4 87.3,390.2 C89.5,388.0 91.0,386.3 93.1,384.4 C95.2,382.5 97.2,380.4 100.0,379.0 C102.8,377.6 105.0,376.8 110.0,376.0 C115.0,375.2 123.3,374.9 130.0,374.5 C136.7,374.1 145.0,374.1 150.0,373.5 C155.0,372.9 156.9,371.4 160.0,371.1 C163.1,370.9 165.8,372.8 168.7,372.0 C171.6,371.2 174.8,368.4 177.5,366.1 C180.2,363.8 182.3,360.8 184.7,358.0 C187.1,355.2 189.6,352.0 192.0,349.3 C194.4,346.6 196.6,344.9 199.3,342.0 C202.0,339.1 204.5,335.1 208.0,331.8 C211.5,328.6 216.4,326.1 220.5,322.5 C224.6,318.9 227.8,313.9 232.7,310.0 C237.6,306.1 244.9,302.9 250.2,299.2 C255.5,295.5 260.1,291.5 264.7,287.6 C269.3,283.7 273.9,279.9 277.8,276.0 C281.7,272.1 284.6,268.6 288.0,264.3 C291.4,260.0 295.8,254.2 298.2,250.4 C300.6,246.6 301.8,243.1 302.5,241.6" fill="none" stroke="#f02020" stroke-width="1.0" stroke-linejoin="round" />
<path d="M48.0,409.8 C49.2,409.8 52.8,409.9 55.0,409.8 C57.2,409.7 59.4,410.3 61.1,409.0 C62.9,407.7 64.3,403.7 65.5,401.8 C66.7,399.9 67.2,399.3 68.4,397.5 C69.6,395.7 71.0,393.2 72.7,391.0 C74.4,388.8 76.6,386.5 78.5,384.4 C80.4,382.3 81.8,380.1 84.0,378.5 C86.2,376.9 89.3,375.4 92.0,374.5 C94.7,373.6 93.7,373.3 100.0,373.0 C106.3,372.7 122.0,372.7 130.0,372.5 C138.0,372.3 143.7,372.4 148.0,371.8 C152.3,371.2 152.1,370.1 155.8,368.7 C159.5,367.3 166.3,365.2 170.2,363.2 C174.0,361.2 176.2,358.8 178.9,356.5 C181.6,354.2 183.9,351.7 186.2,349.3 C188.5,346.9 190.7,344.5 192.9,342.0 C195.1,339.5 196.8,337.0 199.3,334.1 C201.8,331.2 204.8,327.8 208.0,324.5 C211.2,321.2 214.6,317.6 218.2,314.4 C221.8,311.2 225.4,308.8 229.8,305.1 C234.2,301.5 239.8,296.4 244.4,292.5 C249.0,288.6 253.7,285.3 257.5,281.8 C261.3,278.3 263.7,275.8 267.1,271.6 C270.5,267.4 274.4,261.9 277.8,256.8 C281.2,251.7 285.8,243.5 287.4,240.8" fill="none" stroke="#2020f0" stroke-width="1.0" stroke-linejoin="round" />
<circle cx="52.0" cy="410.6" r="1.2" fill="#1a1a1a"/>
<circle cx="62.5" cy="403.3" r="1.2" fill="#1a1a1a"/>
<circle cx="69.8" cy="388.7" r="1.2" fill="#1a1a1a"/>
<circle cx="94.7" cy="373.2" r="1.2" fill="#1a1a1a"/>
<circle cx="115.0" cy="372.2" r="1.2" fill="#1a1a1a"/>
<circle cx="135.0" cy="371.8" r="1.2" fill="#1a1a1a"/>
<circle cx="155.8" cy="368.5" r="1.2" fill="#1a1a1a"/>
<circle cx="168.1" cy="355.7" r="1.2" fill="#1a1a1a"/>
<circle cx="176.0" cy="342.0" r="1.2" fill="#1a1a1a"/>
<circle cx="184.1" cy="328.0" r="1.2" fill="#1a1a1a"/>
<circle cx="193.5" cy="312.3" r="1.2" fill="#1a1a1a"/>
<circle cx="203.0" cy="298.4" r="1.2" fill="#1a1a1a"/>
<circle cx="212.4" cy="283.2" r="1.2" fill="#1a1a1a"/>
<circle cx="219.6" cy="267.8" r="1.2" fill="#1a1a1a"/>
<circle cx="227.5" cy="247.5" r="1.2" fill="#1a1a1a"/>
<circle cx="52.0" cy="411.3" r="1.2" fill="#1e9a2a"/>
<circle cx="74.2" cy="397.5" r="1.2" fill="#1e9a2a"/>
<circle cx="94.0" cy="379.0" r="1.2" fill="#1e9a2a"/>
<circle cx="116.0" cy="375.2" r="1.2" fill="#1e9a2a"/>
<circle cx="138.0" cy="374.5" r="1.2" fill="#1e9a2a"/>
<circle cx="160.0" cy="372.5" r="1.2" fill="#1e9a2a"/>
<circle cx="177.5" cy="365.3" r="1.2" fill="#1e9a2a"/>
<circle cx="186.2" cy="356.5" r="1.2" fill="#1e9a2a"/>
<circle cx="198.4" cy="333.3" r="1.2" fill="#1e9a2a"/>
<circle cx="205.1" cy="317.3" r="1.2" fill="#1e9a2a"/>
<circle cx="211.8" cy="304.2" r="1.2" fill="#1e9a2a"/>
<circle cx="218.2" cy="291.1" r="1.2" fill="#1e9a2a"/>
<circle cx="224.6" cy="278.0" r="1.2" fill="#1e9a2a"/>
<circle cx="232.1" cy="259.1" r="1.2" fill="#1e9a2a"/>
<circle cx="52.0" cy="414.3" r="1.2" fill="#f02020"/>
<circle cx="68.4" cy="410.5" r="1.2" fill="#f02020"/>
<circle cx="80.0" cy="397.5" r="1.2" fill="#f02020"/>
<circle cx="93.1" cy="384.4" r="1.2" fill="#f02020"/>
<circle cx="108.0" cy="376.5" r="1.2" fill="#f02020"/>
<circle cx="130.0" cy="374.5" r="1.2" fill="#f02020"/>
<circle cx="150.0" cy="373.5" r="1.2" fill="#f02020"/>
<circle cx="168.7" cy="372.0" r="1.2" fill="#f02020"/>
<circle cx="184.7" cy="358.0" r="1.2" fill="#f02020"/>
<circle cx="199.3" cy="342.0" r="1.2" fill="#f02020"/>
<circle cx="208.0" cy="331.8" r="1.2" fill="#f02020"/>
<circle cx="220.5" cy="322.5" r="1.2" fill="#f02020"/>
<circle cx="235.0" cy="308.8" r="1.2" fill="#f02020"/>
<circle cx="250.2" cy="299.2" r="1.2" fill="#f02020"/>
<circle cx="264.7" cy="287.6" r="1.2" fill="#f02020"/>
<circle cx="277.8" cy="276.0" r="1.2" fill="#f02020"/>
<circle cx="288.0" cy="264.3" r="1.2" fill="#f02020"/>
<circle cx="298.2" cy="250.4" r="1.2" fill="#f02020"/>
<path d="M52.0,408.2 L53.4,410.8 L50.6,410.8Z" fill="#2020f0"/>
<path d="M65.5,400.2 L66.9,402.8 L64.1,402.8Z" fill="#2020f0"/>
<path d="M72.7,389.4 L74.1,392.0 L71.3,392.0Z" fill="#2020f0"/>
<path d="M84.0,376.9 L85.4,379.5 L82.6,379.5Z" fill="#2020f0"/>
<path d="M104.0,371.4 L105.4,374.0 L102.6,374.0Z" fill="#2020f0"/>
<path d="M126.0,370.9 L127.4,373.5 L124.6,373.5Z" fill="#2020f0"/>
<path d="M148.0,370.2 L149.4,372.8 L146.6,372.8Z" fill="#2020f0"/>
<path d="M170.2,361.6 L171.6,364.2 L168.8,364.2Z" fill="#2020f0"/>
<path d="M178.9,354.9 L180.3,357.5 L177.5,357.5Z" fill="#2020f0"/>
<path d="M186.2,347.7 L187.6,350.3 L184.8,350.3Z" fill="#2020f0"/>
<path d="M192.9,340.4 L194.3,343.0 L191.5,343.0Z" fill="#2020f0"/>
<path d="M199.3,332.5 L200.7,335.1 L197.9,335.1Z" fill="#2020f0"/>
<path d="M208.0,322.9 L209.4,325.5 L206.6,325.5Z" fill="#2020f0"/>
<path d="M218.2,312.8 L219.6,315.4 L216.8,315.4Z" fill="#2020f0"/>
<path d="M229.8,303.5 L231.2,306.1 L228.4,306.1Z" fill="#2020f0"/>
<path d="M244.4,290.9 L245.8,293.5 L243.0,293.5Z" fill="#2020f0"/>
<path d="M257.5,280.2 L258.9,282.8 L256.1,282.8Z" fill="#2020f0"/>
<path d="M267.1,270.0 L268.5,272.6 L265.7,272.6Z" fill="#2020f0"/>
<path d="M277.8,255.2 L279.2,257.8 L276.4,257.8Z" fill="#2020f0"/>
<path d="M287.4,239.2 L288.8,241.8 L286.0,241.8Z" fill="#2020f0"/>
<line x1="45.5" y1="235.8" x2="45.5" y2="428.1" stroke="#000" stroke-width="1.0" />
<line x1="41.2" y1="428.1" x2="45.5" y2="428.1" stroke="#000" stroke-width="0.8" />
<text x="39.2" y="430.7" font-size="8.0" font-weight="bold" fill="#000" text-anchor="end" >0</text>
<line x1="42.8" y1="414.4" x2="45.5" y2="414.4" stroke="#000" stroke-width="0.8" />
<line x1="41.2" y1="400.6" x2="45.5" y2="400.6" stroke="#000" stroke-width="0.8" />
<text x="39.2" y="403.3" font-size="8.0" font-weight="bold" fill="#000" text-anchor="end" >40</text>
<line x1="42.8" y1="386.9" x2="45.5" y2="386.9" stroke="#000" stroke-width="0.8" />
<line x1="41.2" y1="373.2" x2="45.5" y2="373.2" stroke="#000" stroke-width="0.8" />
<text x="39.2" y="375.8" font-size="8.0" font-weight="bold" fill="#000" text-anchor="end" >80</text>
<line x1="42.8" y1="359.4" x2="45.5" y2="359.4" stroke="#000" stroke-width="0.8" />
<line x1="41.2" y1="345.7" x2="45.5" y2="345.7" stroke="#000" stroke-width="0.8" />
<text x="39.2" y="348.3" font-size="8.0" font-weight="bold" fill="#000" text-anchor="end" >120</text>
<line x1="42.8" y1="331.9" x2="45.5" y2="331.9" stroke="#000" stroke-width="0.8" />
<line x1="41.2" y1="318.2" x2="45.5" y2="318.2" stroke="#000" stroke-width="0.8" />
<text x="39.2" y="320.9" font-size="8.0" font-weight="bold" fill="#000" text-anchor="end" >160</text>
<line x1="42.8" y1="304.5" x2="45.5" y2="304.5" stroke="#000" stroke-width="0.8" />
<line x1="41.2" y1="290.7" x2="45.5" y2="290.7" stroke="#000" stroke-width="0.8" />
<text x="39.2" y="293.4" font-size="8.0" font-weight="bold" fill="#000" text-anchor="end" >200</text>
<line x1="42.8" y1="277.0" x2="45.5" y2="277.0" stroke="#000" stroke-width="0.8" />
<line x1="41.2" y1="263.3" x2="45.5" y2="263.3" stroke="#000" stroke-width="0.8" />
<text x="39.2" y="265.9" font-size="8.0" font-weight="bold" fill="#000" text-anchor="end" >240</text>
<line x1="42.8" y1="249.5" x2="45.5" y2="249.5" stroke="#000" stroke-width="0.8" />
<line x1="41.2" y1="235.8" x2="45.5" y2="235.8" stroke="#000" stroke-width="0.8" />
<text x="39.2" y="238.4" font-size="8.0" font-weight="bold" fill="#000" text-anchor="end" >280</text>
<line x1="45.5" y1="428.1" x2="307.8" y2="428.1" stroke="#000" stroke-width="1.0" />
<line x1="45.5" y1="428.1" x2="45.5" y2="432.5" stroke="#000" stroke-width="0.8" />
<text x="45.5" y="442.3" font-size="8.0" font-weight="bold" fill="#000" text-anchor="middle" >0</text>
<line x1="56.4" y1="428.1" x2="56.4" y2="430.8" stroke="#000" stroke-width="0.8" />
<line x1="67.4" y1="428.1" x2="67.4" y2="432.5" stroke="#000" stroke-width="0.8" />
<text x="67.4" y="442.3" font-size="8.0" font-weight="bold" fill="#000" text-anchor="middle" >2</text>
<line x1="78.3" y1="428.1" x2="78.3" y2="430.8" stroke="#000" stroke-width="0.8" />
<line x1="89.2" y1="428.1" x2="89.2" y2="432.5" stroke="#000" stroke-width="0.8" />
<text x="89.2" y="442.3" font-size="8.0" font-weight="bold" fill="#000" text-anchor="middle" >4</text>
<line x1="100.2" y1="428.1" x2="100.2" y2="430.8" stroke="#000" stroke-width="0.8" />
<line x1="111.1" y1="428.1" x2="111.1" y2="432.5" stroke="#000" stroke-width="0.8" />
<text x="111.1" y="442.3" font-size="8.0" font-weight="bold" fill="#000" text-anchor="middle" >6</text>
<line x1="122.0" y1="428.1" x2="122.0" y2="430.8" stroke="#000" stroke-width="0.8" />
<line x1="132.9" y1="428.1" x2="132.9" y2="432.5" stroke="#000" stroke-width="0.8" />
<text x="132.9" y="442.3" font-size="8.0" font-weight="bold" fill="#000" text-anchor="middle" >8</text>
<line x1="143.9" y1="428.1" x2="143.9" y2="430.8" stroke="#000" stroke-width="0.8" />
<line x1="154.8" y1="428.1" x2="154.8" y2="432.5" stroke="#000" stroke-width="0.8" />
<text x="154.8" y="442.3" font-size="8.0" font-weight="bold" fill="#000" text-anchor="middle" >10</text>
<line x1="165.7" y1="428.1" x2="165.7" y2="430.8" stroke="#000" stroke-width="0.8" />
<line x1="176.7" y1="428.1" x2="176.7" y2="432.5" stroke="#000" stroke-width="0.8" />
<text x="176.7" y="442.3" font-size="8.0" font-weight="bold" fill="#000" text-anchor="middle" >12</text>
<line x1="187.6" y1="428.1" x2="187.6" y2="430.8" stroke="#000" stroke-width="0.8" />
<line x1="198.5" y1="428.1" x2="198.5" y2="432.5" stroke="#000" stroke-width="0.8" />
<text x="198.5" y="442.3" font-size="8.0" font-weight="bold" fill="#000" text-anchor="middle" >14</text>
<line x1="209.4" y1="428.1" x2="209.4" y2="430.8" stroke="#000" stroke-width="0.8" />
<line x1="220.4" y1="428.1" x2="220.4" y2="432.5" stroke="#000" stroke-width="0.8" />
<text x="220.4" y="442.3" font-size="8.0" font-weight="bold" fill="#000" text-anchor="middle" >16</text>
<line x1="231.3" y1="428.1" x2="231.3" y2="430.8" stroke="#000" stroke-width="0.8" />
<line x1="242.2" y1="428.1" x2="242.2" y2="432.5" stroke="#000" stroke-width="0.8" />
<text x="242.2" y="442.3" font-size="8.0" font-weight="bold" fill="#000" text-anchor="middle" >18</text>
<line x1="253.2" y1="428.1" x2="253.2" y2="430.8" stroke="#000" stroke-width="0.8" />
<line x1="264.1" y1="428.1" x2="264.1" y2="432.5" stroke="#000" stroke-width="0.8" />
<text x="264.1" y="442.3" font-size="8.0" font-weight="bold" fill="#000" text-anchor="middle" >20</text>
<line x1="275.0" y1="428.1" x2="275.0" y2="430.8" stroke="#000" stroke-width="0.8" />
<line x1="286.0" y1="428.1" x2="286.0" y2="432.5" stroke="#000" stroke-width="0.8" />
<text x="286.0" y="442.3" font-size="8.0" font-weight="bold" fill="#000" text-anchor="middle" >22</text>
<line x1="296.9" y1="428.1" x2="296.9" y2="430.8" stroke="#000" stroke-width="0.8" />
<line x1="307.8" y1="428.1" x2="307.8" y2="432.5" stroke="#000" stroke-width="0.8" />
<text x="307.8" y="442.3" font-size="8.0" font-weight="bold" fill="#000" text-anchor="middle" >24</text>
<text x="8.0" y="251.6" font-size="19.5" font-weight="bold" fill="#000" text-anchor="start" >b</text>
<text x="154.4" y="451.0" font-size="10.2" font-weight="bold" fill="#000" text-anchor="start" >Time(min)</text>
<text x="19.6" y="342" font-size="11" font-weight="bold" text-anchor="middle" transform="rotate(-90 19.6 342)">Temperature(°C)</text>
<text x="47.6" y="271.0" font-size="19.4" font-weight="bold" fill="#000" text-anchor="start" >The backfire surface</text>
<text x="102.4" y="351.0" font-size="10.4" font-weight="normal" fill="#222" text-anchor="start" >The third stage</text>
<text x="50.7" y="368.4" font-size="10.3" font-weight="normal" fill="#222" text-anchor="start" >The second stage</text>
<text x="47.6" y="426.2" font-size="10.3" font-weight="normal" fill="#222" text-anchor="start" >The first stage</text>
<text x="215.3" y="338.2" font-size="10.2" font-weight="normal" fill="#222" text-anchor="start" >The fourth stage</text>
<line x1="129.6" y1="354.0" x2="129.6" y2="359.0" stroke="#000" stroke-width="0.7" />
<path d="M128.3,358.5 L130.9,358.5 L129.6,361.0Z" fill="#000"/>
<line x1="71.8" y1="370.0" x2="71.8" y2="375.5" stroke="#000" stroke-width="0.7" />
<path d="M70.5,375.0 L73.1,375.0 L71.8,377.5Z" fill="#000"/>
<line x1="247.3" y1="326.0" x2="247.3" y2="314.5" stroke="#000" stroke-width="0.7" />
<path d="M246.0,315.0 L248.6,315.0 L247.3,312.5Z" fill="#000"/>
<line x1="59.0" y1="417.5" x2="63.0" y2="420.0" stroke="#000" stroke-width="1.2" />
<path d="M57.5,416.5 L61,416.8 L59.5,419.2Z" fill="#000"/>
<line x1="208.0" y1="385.6" x2="227.0" y2="385.6" stroke="#1a1a1a" stroke-width="1.0" />
<circle cx="217.5" cy="385.6" r="1.2" fill="#1a1a1a"/>
<text x="229.0" y="388.5" font-size="8.5" font-weight="normal" fill="#222" text-anchor="start" >Particle Board</text>
<line x1="208.0" y1="395.8" x2="227.0" y2="395.8" stroke="#1e9a2a" stroke-width="1.0" />
<circle cx="217.5" cy="395.8" r="1.2" fill="#1e9a2a"/>
<text x="229.0" y="398.7" font-size="8.5" font-weight="normal" fill="#222" text-anchor="start" >MDH/PB</text>
<line x1="208.0" y1="406.0" x2="227.0" y2="406.0" stroke="#f02020" stroke-width="1.0" />
<circle cx="217.5" cy="406.0" r="1.2" fill="#f02020"/>
<text x="229.0" y="408.9" font-size="8.5" font-weight="normal" fill="#222" text-anchor="start" >APP+MEL+DPE/PB</text>
<line x1="208.0" y1="416.2" x2="227.0" y2="416.2" stroke="#2020f0" stroke-width="1.0" />
<path d="M217.5,414.59999999999997 L219,417.3 L216,417.3Z" fill="#2020f0"/>
<text x="229.0" y="419.1" font-size="8.5" font-weight="normal" fill="#222" text-anchor="start" >ALHP/PB</text>
<path d="M82.8,175.3 L93.2,188.9 L87.7,188.9 L87.7,242.7 L93.2,242.7 L82.8,255.8 L72.5,242.7 L77.9,242.7 L77.9,188.9 L72.5,188.9 Z" fill="#000" fill-opacity="0.56"/>
<rect x="331.2" y="251.6" width="206.4" height="151.0" fill="#c8f5f6" />
<path d="M333.1,402.6 C333.8,401.0 336.1,396.5 337.5,392.7 C338.9,388.9 340.4,384.0 341.8,379.6 C343.2,375.2 344.8,370.6 346.2,366.6 C347.6,362.6 349.2,358.0 350.5,355.6 C351.8,353.2 352.7,352.9 353.8,352.4 C354.9,351.9 355.8,351.5 357.1,352.4 C358.4,353.3 359.9,354.7 361.5,357.8 C363.1,360.9 365.1,366.9 366.9,370.9 C368.7,374.9 370.4,379.1 372.4,381.8 C374.4,384.5 376.7,385.8 378.9,387.3 C381.1,388.8 382.9,389.9 385.5,390.6 C388.1,391.3 391.3,391.2 394.2,391.6 C397.1,392.0 400.0,392.9 402.9,392.7 C405.8,392.5 408.7,391.6 411.6,390.6 C414.5,389.6 417.9,388.1 420.4,386.5 C422.9,384.9 424.6,383.0 426.8,380.9 C429.0,378.8 431.3,377.1 433.6,374.1 C435.9,371.1 438.4,365.3 440.5,362.7 C442.6,360.1 444.4,359.4 446.1,358.6 C447.8,357.9 449.0,357.5 450.7,358.2 C452.4,358.9 453.9,361.1 456.4,362.7 C458.9,364.3 462.1,366.6 465.5,367.7 C468.9,368.8 473.0,369.0 476.8,369.5 C480.6,370.0 484.4,370.6 488.2,370.7 C492.0,370.8 495.7,370.6 499.5,370.0 C503.3,369.4 507.9,368.5 510.9,367.3 C513.9,366.1 515.4,365.4 517.7,362.7 C520.0,360.0 522.6,355.6 524.5,351.4 C526.4,347.2 527.8,342.2 529.1,337.7 C530.4,333.1 531.9,326.4 532.5,324.1" fill="none" stroke="#f03a3a" stroke-width="1.2" stroke-linejoin="round" />
<path d="M335.3,392.7 C335.8,394.2 337.4,401.5 338.5,401.5 C339.6,401.5 340.9,396.3 341.8,392.7 C342.7,389.1 343.3,386.9 344.0,379.6 C344.7,372.3 345.5,358.2 346.2,349.1 C346.9,340.0 347.8,330.3 348.4,325.1 C349.0,319.9 349.4,318.5 350.1,318.1 C350.8,317.7 351.9,319.5 352.7,322.9 C353.5,326.2 354.2,331.6 354.9,338.2 C355.6,344.8 356.2,356.0 357.1,362.2 C358.0,368.4 358.9,371.5 360.4,375.3 C361.8,379.1 363.8,382.4 365.8,385.1 C367.8,387.8 369.8,390.0 372.4,391.6 C374.9,393.2 378.2,394.0 381.1,394.9 C384.0,395.8 386.9,396.8 389.8,397.1 C392.7,397.4 395.6,397.0 398.5,396.7 C401.4,396.4 404.4,396.6 407.3,395.4 C410.2,394.2 413.4,391.6 416.0,389.5 C418.6,387.4 420.8,385.2 422.6,383.0 C424.4,380.8 425.2,378.8 426.8,376.4 C428.4,374.0 430.8,369.9 432.5,368.4 C434.2,366.9 435.5,369.0 437.0,367.3 C438.5,365.6 439.7,360.3 441.6,358.2 C443.5,356.1 446.7,354.8 448.4,354.8 C450.1,354.8 450.7,356.9 451.8,358.2 C452.9,359.5 453.9,361.8 455.2,362.7 C456.5,363.6 458.1,363.3 459.8,363.9 C461.5,364.5 463.2,365.5 465.5,366.1 C467.8,366.7 470.8,366.7 473.4,367.3 C476.0,367.9 478.9,369.1 481.4,369.5 C483.9,369.9 485.9,370.4 488.2,370.0 C490.5,369.6 492.7,368.3 495.0,367.3 C497.3,366.3 499.9,365.4 501.8,363.9 C503.7,362.4 504.9,360.1 506.4,358.2 C507.9,356.3 509.4,354.4 510.9,352.5 C512.4,350.6 514.2,349.6 515.5,346.8 C516.8,344.0 518.0,339.7 518.9,335.5 C519.8,331.3 520.6,326.0 521.1,321.8 C521.6,317.6 521.7,312.4 521.8,310.5" fill="none" stroke="#3030f0" stroke-width="1.2" stroke-linejoin="round" />
<path d="M336.4,402.6 C337.1,401.3 339.4,399.6 340.7,395.0 C342.0,390.4 342.9,382.2 344.0,375.3 C345.1,368.4 346.3,359.5 347.3,353.5 C348.3,347.5 349.2,340.4 350.1,339.3 C351.0,338.2 351.7,343.1 352.7,346.9 C353.7,350.7 354.7,357.5 356.0,362.2 C357.3,366.9 358.8,371.3 360.4,375.3 C362.0,379.3 363.8,383.6 365.8,386.2 C367.8,388.8 369.8,389.5 372.4,390.6 C374.9,391.7 378.2,391.8 381.1,392.7 C384.0,393.6 386.9,395.6 389.8,396.0 C392.7,396.4 395.6,395.5 398.5,395.4 C401.4,395.3 404.4,395.7 407.3,395.4 C410.2,395.1 413.4,394.6 416.0,393.8 C418.6,393.0 420.4,392.4 422.6,390.6 C424.8,388.8 426.9,386.3 429.1,383.2 C431.3,380.1 434.1,374.6 435.6,372.0 C437.1,369.4 437.2,371.1 438.2,367.3 C439.2,363.5 440.7,354.0 441.6,349.1 C442.6,344.2 442.8,342.2 443.9,337.7 C445.0,333.1 446.9,325.2 448.4,321.8 C449.9,318.4 451.5,317.3 453.0,317.3 C454.5,317.3 456.0,320.3 457.5,321.8 C459.0,323.3 460.5,324.7 462.0,326.4 C463.5,328.1 465.1,332.0 466.6,332.0 C468.1,332.0 470.0,330.0 471.1,326.4 C472.2,322.8 472.4,315.4 473.4,310.5 C474.3,305.6 475.7,301.0 476.8,296.8 C477.9,292.6 479.1,289.7 480.2,285.5 C481.3,281.3 482.7,274.1 483.2,271.8" fill="none" stroke="#1a8a2a" stroke-width="1.2" stroke-linejoin="round" />
<path d="M333.1,402.6 C333.7,400.2 335.3,393.7 336.4,388.4 C337.5,383.1 338.5,376.7 339.6,370.9 C340.7,365.1 342.0,357.5 342.9,353.5 C343.8,349.5 344.4,348.7 345.1,346.9 C345.8,345.1 346.4,342.2 347.3,342.6 C348.2,343.0 349.4,345.8 350.5,349.1 C351.6,352.4 352.7,358.6 353.8,362.2 C354.9,365.8 355.8,368.0 357.1,370.9 C358.4,373.8 359.9,376.7 361.5,379.6 C363.1,382.5 365.1,386.2 366.9,388.4 C368.7,390.6 370.0,391.6 372.4,392.7 C374.8,393.8 378.2,394.2 381.1,394.9 C384.0,395.6 386.9,396.6 389.8,396.7 C392.7,396.8 395.6,396.1 398.5,395.4 C401.4,394.7 405.1,393.9 407.3,392.7 C409.5,391.5 410.2,391.3 411.6,388.4 C413.1,385.5 414.2,379.7 416.0,375.3 C417.8,370.9 420.8,366.6 422.6,362.2 C424.4,357.8 425.6,352.7 426.9,349.1 C428.2,345.5 429.3,342.3 430.2,340.4 C431.1,338.5 431.6,337.9 432.5,337.7 C433.4,337.4 434.6,338.9 435.9,338.9 C437.2,338.9 439.2,337.9 440.5,337.7 C441.8,337.5 443.1,336.2 443.9,337.7 C444.7,339.2 444.9,344.3 445.5,346.8 C446.1,349.3 446.4,352.7 447.3,352.5 C448.2,352.3 449.2,346.8 450.7,345.7 C452.2,344.6 454.7,345.7 456.4,345.7 C458.1,345.7 459.4,348.2 460.9,345.7 C462.4,343.2 464.4,334.3 465.5,330.9 C466.6,327.5 466.9,329.0 467.7,325.2 C468.4,321.4 469.2,313.3 470.0,308.2 C470.8,303.1 471.7,298.3 472.3,294.5 C472.9,290.7 473.0,289.7 473.4,285.5 C473.8,281.3 474.2,272.5 474.5,269.5 C474.8,266.5 475.1,267.7 475.2,267.3" fill="none" stroke="#333" stroke-width="1.2" stroke-linejoin="round" />
<line x1="331.2" y1="251.6" x2="331.2" y2="402.6" stroke="#000" stroke-width="1.0" />
<line x1="327.0" y1="397.1" x2="331.2" y2="397.1" stroke="#000" stroke-width="0.8" />
<text x="326.2" y="399.5" font-size="7.4" font-weight="bold" fill="#000" text-anchor="end" >0</text>
<line x1="328.6" y1="386.8" x2="331.2" y2="386.8" stroke="#000" stroke-width="0.8" />
<line x1="327.0" y1="376.4" x2="331.2" y2="376.4" stroke="#000" stroke-width="0.8" />
<text x="326.2" y="378.9" font-size="7.4" font-weight="bold" fill="#000" text-anchor="end" >10</text>
<line x1="328.6" y1="366.1" x2="331.2" y2="366.1" stroke="#000" stroke-width="0.8" />
<line x1="327.0" y1="355.8" x2="331.2" y2="355.8" stroke="#000" stroke-width="0.8" />
<text x="326.2" y="358.2" font-size="7.4" font-weight="bold" fill="#000" text-anchor="end" >20</text>
<line x1="328.6" y1="345.4" x2="331.2" y2="345.4" stroke="#000" stroke-width="0.8" />
<line x1="327.0" y1="335.1" x2="331.2" y2="335.1" stroke="#000" stroke-width="0.8" />
<text x="326.2" y="337.5" font-size="7.4" font-weight="bold" fill="#000" text-anchor="end" >30</text>
<line x1="328.6" y1="324.8" x2="331.2" y2="324.8" stroke="#000" stroke-width="0.8" />
<line x1="327.0" y1="314.4" x2="331.2" y2="314.4" stroke="#000" stroke-width="0.8" />
<text x="326.2" y="316.9" font-size="7.4" font-weight="bold" fill="#000" text-anchor="end" >40</text>
<line x1="328.6" y1="304.1" x2="331.2" y2="304.1" stroke="#000" stroke-width="0.8" />
<line x1="327.0" y1="293.8" x2="331.2" y2="293.8" stroke="#000" stroke-width="0.8" />
<text x="326.2" y="296.2" font-size="7.4" font-weight="bold" fill="#000" text-anchor="end" >50</text>
<line x1="328.6" y1="283.4" x2="331.2" y2="283.4" stroke="#000" stroke-width="0.8" />
<line x1="327.0" y1="273.1" x2="331.2" y2="273.1" stroke="#000" stroke-width="0.8" />
<text x="326.2" y="275.5" font-size="7.4" font-weight="bold" fill="#000" text-anchor="end" >60</text>
<line x1="328.6" y1="262.7" x2="331.2" y2="262.7" stroke="#000" stroke-width="0.8" />
<line x1="327.0" y1="252.4" x2="331.2" y2="252.4" stroke="#000" stroke-width="0.8" />
<text x="326.2" y="254.9" font-size="7.4" font-weight="bold" fill="#000" text-anchor="end" >70</text>
<line x1="331.2" y1="402.6" x2="537.6" y2="402.6" stroke="#000" stroke-width="1.0" />
<line x1="331.2" y1="402.6" x2="331.2" y2="406.6" stroke="#000" stroke-width="0.7" />
<text x="331.2" y="414.5" font-size="7.2" font-weight="bold" fill="#000" text-anchor="middle" >0</text>
<line x1="339.8" y1="402.6" x2="339.8" y2="405.1" stroke="#000" stroke-width="0.7" />
<line x1="348.4" y1="402.6" x2="348.4" y2="406.6" stroke="#000" stroke-width="0.7" />
<text x="348.4" y="414.5" font-size="7.2" font-weight="bold" fill="#000" text-anchor="middle" >2</text>
<line x1="357.0" y1="402.6" x2="357.0" y2="405.1" stroke="#000" stroke-width="0.7" />
<line x1="365.6" y1="402.6" x2="365.6" y2="406.6" stroke="#000" stroke-width="0.7" />
<text x="365.6" y="414.5" font-size="7.2" font-weight="bold" fill="#000" text-anchor="middle" >4</text>
<line x1="374.2" y1="402.6" x2="374.2" y2="405.1" stroke="#000" stroke-width="0.7" />
<line x1="382.8" y1="402.6" x2="382.8" y2="406.6" stroke="#000" stroke-width="0.7" />
<text x="382.8" y="414.5" font-size="7.2" font-weight="bold" fill="#000" text-anchor="middle" >6</text>
<line x1="391.4" y1="402.6" x2="391.4" y2="405.1" stroke="#000" stroke-width="0.7" />
<line x1="400.0" y1="402.6" x2="400.0" y2="406.6" stroke="#000" stroke-width="0.7" />
<text x="400.0" y="414.5" font-size="7.2" font-weight="bold" fill="#000" text-anchor="middle" >8</text>
<line x1="408.6" y1="402.6" x2="408.6" y2="405.1" stroke="#000" stroke-width="0.7" />
<line x1="417.2" y1="402.6" x2="417.2" y2="406.6" stroke="#000" stroke-width="0.7" />
<text x="417.2" y="414.5" font-size="7.2" font-weight="bold" fill="#000" text-anchor="middle" >10</text>
<line x1="425.8" y1="402.6" x2="425.8" y2="405.1" stroke="#000" stroke-width="0.7" />
<line x1="434.4" y1="402.6" x2="434.4" y2="406.6" stroke="#000" stroke-width="0.7" />
<text x="434.4" y="414.5" font-size="7.2" font-weight="bold" fill="#000" text-anchor="middle" >12</text>
<line x1="443.0" y1="402.6" x2="443.0" y2="405.1" stroke="#000" stroke-width="0.7" />
<line x1="451.6" y1="402.6" x2="451.6" y2="406.6" stroke="#000" stroke-width="0.7" />
<text x="451.6" y="414.5" font-size="7.2" font-weight="bold" fill="#000" text-anchor="middle" >14</text>
<line x1="460.2" y1="402.6" x2="460.2" y2="405.1" stroke="#000" stroke-width="0.7" />
<line x1="468.8" y1="402.6" x2="468.8" y2="406.6" stroke="#000" stroke-width="0.7" />
<text x="468.8" y="414.5" font-size="7.2" font-weight="bold" fill="#000" text-anchor="middle" >16</text>
<line x1="477.4" y1="402.6" x2="477.4" y2="405.1" stroke="#000" stroke-width="0.7" />
<line x1="486.0" y1="402.6" x2="486.0" y2="406.6" stroke="#000" stroke-width="0.7" />
<text x="486.0" y="414.5" font-size="7.2" font-weight="bold" fill="#000" text-anchor="middle" >18</text>
<line x1="494.6" y1="402.6" x2="494.6" y2="405.1" stroke="#000" stroke-width="0.7" />
<line x1="503.2" y1="402.6" x2="503.2" y2="406.6" stroke="#000" stroke-width="0.7" />
<text x="503.2" y="414.5" font-size="7.2" font-weight="bold" fill="#000" text-anchor="middle" >20</text>
<line x1="511.8" y1="402.6" x2="511.8" y2="405.1" stroke="#000" stroke-width="0.7" />
<line x1="520.4" y1="402.6" x2="520.4" y2="406.6" stroke="#000" stroke-width="0.7" />
<text x="520.4" y="414.5" font-size="7.2" font-weight="bold" fill="#000" text-anchor="middle" >22</text>
<line x1="529.0" y1="402.6" x2="529.0" y2="405.1" stroke="#000" stroke-width="0.7" />
<line x1="537.6" y1="402.6" x2="537.6" y2="406.6" stroke="#000" stroke-width="0.7" />
<text x="537.6" y="414.5" font-size="7.2" font-weight="bold" fill="#000" text-anchor="middle" >24</text>
<text x="436.5" y="424.5" font-size="7.9" font-weight="bold" fill="#000" text-anchor="middle" >Time(min)</text>
<text x="312.0" y="332.8" font-size="8.2" font-weight="bold" text-anchor="middle" transform="rotate(-90 312.0 332.8)">Deriv.Temperature(°C/min)</text>
<text x="305.3" y="253.2" font-size="19.5" font-weight="bold" fill="#000" text-anchor="start" >c</text>
<line x1="338.5" y1="257.9" x2="352.7" y2="257.9" stroke="#333" stroke-width="1.0" />
<text x="354.9" y="260.3" font-size="6.6" font-weight="bold" fill="#333" text-anchor="start" >Particle Board</text>
<line x1="338.5" y1="266.2" x2="352.7" y2="266.2" stroke="#1a8a2a" stroke-width="1.0" />
<text x="354.9" y="268.6" font-size="6.6" font-weight="bold" fill="#333" text-anchor="start" >MDH/PB</text>
<line x1="338.5" y1="274.5" x2="352.7" y2="274.5" stroke="#f03a3a" stroke-width="1.0" />
<text x="354.9" y="276.9" font-size="6.6" font-weight="bold" fill="#333" text-anchor="start" >APP+MEL+DPE/PB</text>
<line x1="338.5" y1="283.0" x2="352.7" y2="283.0" stroke="#3030f0" stroke-width="1.0" />
<text x="354.9" y="285.4" font-size="6.6" font-weight="bold" fill="#333" text-anchor="start" >ALHP/PB</text>
<text x="335.0" y="25.0" font-size="20" font-weight="bold" fill="#000" text-anchor="start" >f</text>
<g clip-path="url(#cp1)">
<rect x="342.8" y="22.8" width="96.8" height="98.4" fill="url(#lg2)" />
<rect x="342.8" y="22.8" width="96.8" height="98.4" fill="url(#lg3)" />
<line x1="342.8" y1="25.3" x2="439.6" y2="25.3" stroke="#8c7468" stroke-width="0.5" opacity="0.35"/>
<line x1="342.8" y1="29.6" x2="439.6" y2="29.6" stroke="#8c7468" stroke-width="0.5" opacity="0.35"/>
<line x1="342.8" y1="33.9" x2="439.6" y2="33.9" stroke="#8c7468" stroke-width="0.5" opacity="0.35"/>
<line x1="342.8" y1="38.2" x2="439.6" y2="38.2" stroke="#8c7468" stroke-width="0.5" opacity="0.35"/>
<line x1="342.8" y1="42.5" x2="439.6" y2="42.5" stroke="#8c7468" stroke-width="0.5" opacity="0.35"/>
<line x1="342.8" y1="46.8" x2="439.6" y2="46.8" stroke="#8c7468" stroke-width="0.5" opacity="0.35"/>
<line x1="342.8" y1="51.1" x2="439.6" y2="51.1" stroke="#8c7468" stroke-width="0.5" opacity="0.35"/>
<line x1="342.8" y1="55.4" x2="439.6" y2="55.4" stroke="#8c7468" stroke-width="0.5" opacity="0.35"/>
<line x1="342.8" y1="59.7" x2="439.6" y2="59.7" stroke="#8c7468" stroke-width="0.5" opacity="0.35"/>
<line x1="342.8" y1="64.0" x2="439.6" y2="64.0" stroke="#8c7468" stroke-width="0.5" opacity="0.35"/>
<line x1="342.8" y1="68.3" x2="439.6" y2="68.3" stroke="#8c7468" stroke-width="0.5" opacity="0.35"/>
<line x1="342.8" y1="72.6" x2="439.6" y2="72.6" stroke="#8c7468" stroke-width="0.5" opacity="0.35"/>
<line x1="342.8" y1="76.9" x2="439.6" y2="76.9" stroke="#8c7468" stroke-width="0.5" opacity="0.35"/>
<line x1="342.8" y1="81.2" x2="439.6" y2="81.2" stroke="#8c7468" stroke-width="0.5" opacity="0.35"/>
<line x1="342.8" y1="85.5" x2="439.6" y2="85.5" stroke="#8c7468" stroke-width="0.5" opacity="0.35"/>
<line x1="342.8" y1="89.8" x2="439.6" y2="89.8" stroke="#8c7468" stroke-width="0.5" opacity="0.35"/>
<line x1="342.8" y1="94.1" x2="439.6" y2="94.1" stroke="#8c7468" stroke-width="0.5" opacity="0.35"/>
<line x1="342.8" y1="98.4" x2="439.6" y2="98.4" stroke="#8c7468" stroke-width="0.5" opacity="0.35"/>
<line x1="342.8" y1="102.7" x2="439.6" y2="102.7" stroke="#8c7468" stroke-width="0.5" opacity="0.35"/>
<line x1="342.8" y1="107.0" x2="439.6" y2="107.0" stroke="#8c7468" stroke-width="0.5" opacity="0.35"/>
<line x1="342.8" y1="111.3" x2="439.6" y2="111.3" stroke="#8c7468" stroke-width="0.5" opacity="0.35"/>
<line x1="342.8" y1="115.6" x2="439.6" y2="115.6" stroke="#8c7468" stroke-width="0.5" opacity="0.35"/>
<line x1="342.8" y1="119.9" x2="439.6" y2="119.9" stroke="#8c7468" stroke-width="0.5" opacity="0.35"/>
<line x1="345.8" y1="22.8" x2="345.8" y2="121.2" stroke="#7a6458" stroke-width="0.5" opacity="0.3"/>
<line x1="349.8" y1="22.8" x2="349.8" y2="121.2" stroke="#7a6458" stroke-width="0.5" opacity="0.3"/>
<line x1="435.6" y1="22.8" x2="435.6" y2="121.2" stroke="#7a6458" stroke-width="0.5" opacity="0.3"/>
<path d="M365.1,34.0 C357.5,34.0 357.5,44.7 357.5,60.7 C357.5,87.4 362.1,109.7 375.8,120.3 Q388.0,125.0 400.2,120.3 C413.9,109.7 418.5,87.4 418.5,60.7 C418.5,44.7 418.5,34.0 410.9,34.0 Z" fill="#6a4536" opacity="0.59" filter="url(#bl3)"/>
<ellipse cx="388" cy="37" rx="24.2" ry="20.2" fill="#5a382c" opacity="0.85" filter="url(#bl3)"/>
<path d="M368.9,39.0 C362.5,39.0 362.5,48.8 362.5,63.6 C362.5,88.2 366.3,108.7 377.8,118.5 Q388.0,123.0 398.2,118.5 C409.7,108.7 413.5,88.2 413.5,63.6 C413.5,48.8 413.5,39.0 407.1,39.0 Z" fill="#1f2330" filter="url(#bl1)"/>
<ellipse cx="377.8" cy="99.4" rx="3.0" ry="2.2" fill="#ddd8d4" opacity="0.92" filter="url(#bl05)"/>
<ellipse cx="381.5" cy="107" rx="2.8" ry="2.0" fill="#ddd8d4" opacity="0.92" filter="url(#bl05)"/>
<ellipse cx="386.5" cy="111" rx="2.3" ry="2.4" fill="#ddd8d4" opacity="0.92" filter="url(#bl05)"/>
<ellipse cx="392.5" cy="113" rx="2.8" ry="2.3" fill="#ddd8d4" opacity="0.92" filter="url(#bl05)"/>
<ellipse cx="400.5" cy="107" rx="3.0" ry="2.4" fill="#ddd8d4" opacity="0.92" filter="url(#bl05)"/>
<ellipse cx="402.4" cy="97.5" rx="2.6" ry="2.1" fill="#ddd8d4" opacity="0.92" filter="url(#bl05)"/>
<ellipse cx="390" cy="104" rx="1.7" ry="1.5" fill="#ddd8d4" opacity="0.92" filter="url(#bl05)"/>
<ellipse cx="396" cy="101" rx="1.5" ry="1.4" fill="#ddd8d4" opacity="0.92" filter="url(#bl05)"/>
</g>
<text x="389.6" y="34.0" font-size="10.8" font-weight="bold" fill="#fff" text-anchor="middle" >Particle Board</text>
<g clip-path="url(#cp4)">
<rect x="444.0" y="22.8" width="95.6" height="98.4" fill="url(#lg5)" />
<rect x="444.0" y="22.8" width="95.6" height="98.4" fill="url(#lg6)" />
<line x1="444.0" y1="25.3" x2="539.6" y2="25.3" stroke="#8c7468" stroke-width="0.5" opacity="0.35"/>
<line x1="444.0" y1="29.6" x2="539.6" y2="29.6" stroke="#8c7468" stroke-width="0.5" opacity="0.35"/>
<line x1="444.0" y1="33.9" x2="539.6" y2="33.9" stroke="#8c7468" stroke-width="0.5" opacity="0.35"/>
<line x1="444.0" y1="38.2" x2="539.6" y2="38.2" stroke="#8c7468" stroke-width="0.5" opacity="0.35"/>
<line x1="444.0" y1="42.5" x2="539.6" y2="42.5" stroke="#8c7468" stroke-width="0.5" opacity="0.35"/>
<line x1="444.0" y1="46.8" x2="539.6" y2="46.8" stroke="#8c7468" stroke-width="0.5" opacity="0.35"/>
<line x1="444.0" y1="51.1" x2="539.6" y2="51.1" stroke="#8c7468" stroke-width="0.5" opacity="0.35"/>
<line x1="444.0" y1="55.4" x2="539.6" y2="55.4" stroke="#8c7468" stroke-width="0.5" opacity="0.35"/>
<line x1="444.0" y1="59.7" x2="539.6" y2="59.7" stroke="#8c7468" stroke-width="0.5" opacity="0.35"/>
<line x1="444.0" y1="64.0" x2="539.6" y2="64.0" stroke="#8c7468" stroke-width="0.5" opacity="0.35"/>
<line x1="444.0" y1="68.3" x2="539.6" y2="68.3" stroke="#8c7468" stroke-width="0.5" opacity="0.35"/>
<line x1="444.0" y1="72.6" x2="539.6" y2="72.6" stroke="#8c7468" stroke-width="0.5" opacity="0.35"/>
<line x1="444.0" y1="76.9" x2="539.6" y2="76.9" stroke="#8c7468" stroke-width="0.5" opacity="0.35"/>
<line x1="444.0" y1="81.2" x2="539.6" y2="81.2" stroke="#8c7468" stroke-width="0.5" opacity="0.35"/>
<line x1="444.0" y1="85.5" x2="539.6" y2="85.5" stroke="#8c7468" stroke-width="0.5" opacity="0.35"/>
<line x1="444.0" y1="89.8" x2="539.6" y2="89.8" stroke="#8c7468" stroke-width="0.5" opacity="0.35"/>
<line x1="444.0" y1="94.1" x2="539.6" y2="94.1" stroke="#8c7468" stroke-width="0.5" opacity="0.35"/>
<line x1="444.0" y1="98.4" x2="539.6" y2="98.4" stroke="#8c7468" stroke-width="0.5" opacity="0.35"/>
<line x1="444.0" y1="102.7" x2="539.6" y2="102.7" stroke="#8c7468" stroke-width="0.5" opacity="0.35"/>
<line x1="444.0" y1="107.0" x2="539.6" y2="107.0" stroke="#8c7468" stroke-width="0.5" opacity="0.35"/>
<line x1="444.0" y1="111.3" x2="539.6" y2="111.3" stroke="#8c7468" stroke-width="0.5" opacity="0.35"/>
<line x1="444.0" y1="115.6" x2="539.6" y2="115.6" stroke="#8c7468" stroke-width="0.5" opacity="0.35"/>
<line x1="444.0" y1="119.9" x2="539.6" y2="119.9" stroke="#8c7468" stroke-width="0.5" opacity="0.35"/>
<line x1="447.0" y1="22.8" x2="447.0" y2="121.2" stroke="#7a6458" stroke-width="0.5" opacity="0.3"/>
<line x1="451.0" y1="22.8" x2="451.0" y2="121.2" stroke="#7a6458" stroke-width="0.5" opacity="0.3"/>
<line x1="535.6" y1="22.8" x2="535.6" y2="121.2" stroke="#7a6458" stroke-width="0.5" opacity="0.3"/>
<path d="M465.8,29.0 C458.0,29.0 458.0,40.2 458.0,56.9 C458.0,84.8 462.6,108.0 476.6,119.2 Q489.0,124.0 501.4,119.2 C515.4,108.0 520.0,84.8 520.0,56.9 C520.0,40.2 520.0,29.0 512.2,29.0 Z" fill="#6a4536" opacity="0.59" filter="url(#bl3)"/>
<ellipse cx="489" cy="32" rx="24.7" ry="15.2" fill="#5a382c" opacity="0.85" filter="url(#bl3)"/>
<path d="M469.5,34.0 C463.0,34.0 463.0,44.3 463.0,59.8 C463.0,85.6 466.9,107.1 478.6,117.4 Q489.0,122.0 499.4,117.4 C511.1,107.1 515.0,85.6 515.0,59.8 C515.0,44.3 515.0,34.0 508.5,34.0 Z" fill="#1f2430" filter="url(#bl1)"/>
<ellipse cx="489" cy="90" rx="8" ry="7" fill="#4a4a50" opacity="0.5" filter="url(#bl3)"/>
<ellipse cx="476" cy="100" rx="3.2" ry="2.5" fill="#ddd8d4" opacity="0.92" filter="url(#bl05)"/>
<ellipse cx="481.5" cy="107.5" rx="3.0" ry="2.3" fill="#ddd8d4" opacity="0.92" filter="url(#bl05)"/>
<ellipse cx="489" cy="111.5" rx="2.8" ry="2.4" fill="#ddd8d4" opacity="0.92" filter="url(#bl05)"/>
<ellipse cx="497" cy="108.5" rx="3.0" ry="2.4" fill="#ddd8d4" opacity="0.92" filter="url(#bl05)"/>
<ellipse cx="502.5" cy="100.5" rx="2.8" ry="2.3" fill="#ddd8d4" opacity="0.92" filter="url(#bl05)"/>
<ellipse cx="489" cy="101" rx="2.2" ry="2.0" fill="#ddd8d4" opacity="0.92" filter="url(#bl05)"/>
<ellipse cx="483.5" cy="94" rx="1.6" ry="1.8" fill="#ddd8d4" opacity="0.92" filter="url(#bl05)"/>
<ellipse cx="495" cy="94" rx="1.6" ry="1.8" fill="#ddd8d4" opacity="0.92" filter="url(#bl05)"/>
<ellipse cx="489" cy="117" rx="1.8" ry="1.3" fill="#ddd8d4" opacity="0.92" filter="url(#bl05)"/>
</g>
<text x="491.5" y="33.5" font-size="10.8" font-weight="bold" fill="#fff" text-anchor="middle" >MDH/PB</text>
<g clip-path="url(#cp7)">
<rect x="342.8" y="128.0" width="96.8" height="98.4" fill="url(#lg8)" />
<rect x="342.8" y="128.0" width="96.8" height="98.4" fill="url(#lg9)" />
<line x1="342.8" y1="130.5" x2="439.6" y2="130.5" stroke="#8c7468" stroke-width="0.5" opacity="0.35"/>
<line x1="342.8" y1="134.8" x2="439.6" y2="134.8" stroke="#8c7468" stroke-width="0.5" opacity="0.35"/>
<line x1="342.8" y1="139.1" x2="439.6" y2="139.1" stroke="#8c7468" stroke-width="0.5" opacity="0.35"/>
<line x1="342.8" y1="143.4" x2="439.6" y2="143.4" stroke="#8c7468" stroke-width="0.5" opacity="0.35"/>
<line x1="342.8" y1="147.7" x2="439.6" y2="147.7" stroke="#8c7468" stroke-width="0.5" opacity="0.35"/>
<line x1="342.8" y1="152.0" x2="439.6" y2="152.0" stroke="#8c7468" stroke-width="0.5" opacity="0.35"/>
<line x1="342.8" y1="156.3" x2="439.6" y2="156.3" stroke="#8c7468" stroke-width="0.5" opacity="0.35"/>
<line x1="342.8" y1="160.6" x2="439.6" y2="160.6" stroke="#8c7468" stroke-width="0.5" opacity="0.35"/>
<line x1="342.8" y1="164.9" x2="439.6" y2="164.9" stroke="#8c7468" stroke-width="0.5" opacity="0.35"/>
<line x1="342.8" y1="169.2" x2="439.6" y2="169.2" stroke="#8c7468" stroke-width="0.5" opacity="0.35"/>
<line x1="342.8" y1="173.5" x2="439.6" y2="173.5" stroke="#8c7468" stroke-width="0.5" opacity="0.35"/>
<line x1="342.8" y1="177.8" x2="439.6" y2="177.8" stroke="#8c7468" stroke-width="0.5" opacity="0.35"/>
<line x1="342.8" y1="182.1" x2="439.6" y2="182.1" stroke="#8c7468" stroke-width="0.5" opacity="0.35"/>
<line x1="342.8" y1="186.4" x2="439.6" y2="186.4" stroke="#8c7468" stroke-width="0.5" opacity="0.35"/>
<line x1="342.8" y1="190.7" x2="439.6" y2="190.7" stroke="#8c7468" stroke-width="0.5" opacity="0.35"/>
<line x1="342.8" y1="195.0" x2="439.6" y2="195.0" stroke="#8c7468" stroke-width="0.5" opacity="0.35"/>
<line x1="342.8" y1="199.3" x2="439.6" y2="199.3" stroke="#8c7468" stroke-width="0.5" opacity="0.35"/>
<line x1="342.8" y1="203.6" x2="439.6" y2="203.6" stroke="#8c7468" stroke-width="0.5" opacity="0.35"/>
<line x1="342.8" y1="207.9" x2="439.6" y2="207.9" stroke="#8c7468" stroke-width="0.5" opacity="0.35"/>
<line x1="342.8" y1="212.2" x2="439.6" y2="212.2" stroke="#8c7468" stroke-width="0.5" opacity="0.35"/>
<line x1="342.8" y1="216.5" x2="439.6" y2="216.5" stroke="#8c7468" stroke-width="0.5" opacity="0.35"/>
<line x1="342.8" y1="220.8" x2="439.6" y2="220.8" stroke="#8c7468" stroke-width="0.5" opacity="0.35"/>
<line x1="342.8" y1="225.1" x2="439.6" y2="225.1" stroke="#8c7468" stroke-width="0.5" opacity="0.35"/>
<line x1="345.8" y1="128.0" x2="345.8" y2="226.4" stroke="#7a6458" stroke-width="0.5" opacity="0.3"/>
<line x1="349.8" y1="128.0" x2="349.8" y2="226.4" stroke="#7a6458" stroke-width="0.5" opacity="0.3"/>
<line x1="435.6" y1="128.0" x2="435.6" y2="226.4" stroke="#7a6458" stroke-width="0.5" opacity="0.3"/>
<path d="M368.9,136.0 C361.5,136.0 361.5,147.2 361.5,163.9 C361.5,191.8 365.9,215.1 379.2,226.2 Q391.0,231.0 402.8,226.2 C416.1,215.1 420.5,191.8 420.5,163.9 C420.5,147.2 420.5,136.0 413.1,136.0 Z" fill="#6a4536" opacity="0.59" filter="url(#bl3)"/>
<ellipse cx="391" cy="139" rx="23.3" ry="17.0" fill="#5a382c" opacity="0.85" filter="url(#bl3)"/>
<path d="M372.6,141.0 C366.5,141.0 366.5,151.3 366.5,166.8 C366.5,192.6 370.2,214.1 381.2,224.4 Q391.0,229.0 400.8,224.4 C411.8,214.1 415.5,192.6 415.5,166.8 C415.5,151.3 415.5,141.0 409.4,141.0 Z" fill="#243446" filter="url(#bl1)"/>
<ellipse cx="391" cy="190" rx="19" ry="30" fill="#4e6882" opacity="0.95" filter="url(#bl3)"/>
<ellipse cx="391" cy="200" rx="14" ry="20" fill="#5a748e" opacity="0.6" filter="url(#bl3)"/>
<path d="M374,178 L381,175 L389,180 L397,176 L406,181" fill="none" stroke="#1a2028" stroke-width="0.7" opacity="0.75"/>
<path d="M372,193 L380,190 L388,195 L396,191 L407,196" fill="none" stroke="#1a2028" stroke-width="0.7" opacity="0.75"/>
<path d="M376,207 L384,204 L392,209 L400,205 L406,208" fill="none" stroke="#1a2028" stroke-width="0.7" opacity="0.75"/>
<path d="M384,165 L387,176 L385,189 L389,201 L387,215" fill="none" stroke="#1a2028" stroke-width="0.7" opacity="0.75"/>
<path d="M398,167 L396,179 L400,191 L397,204 L399,216" fill="none" stroke="#1a2028" stroke-width="0.7" opacity="0.75"/>
<path d="M380,218 L388,221 L396,218" fill="none" stroke="#1a2028" stroke-width="0.7" opacity="0.75"/>
</g>
<text x="392.5" y="139.0" font-size="10.8" font-weight="bold" fill="#fff" text-anchor="middle" >APP+MEL+DPE</text>
<text x="392.5" y="153.0" font-size="10.8" font-weight="bold" fill="#fff" text-anchor="middle" >/PB</text>
<g clip-path="url(#cp10)">
<rect x="444.0" y="128.0" width="95.6" height="98.4" fill="url(#lg11)" />
<rect x="444.0" y="128.0" width="95.6" height="98.4" fill="url(#lg12)" />
<line x1="444.0" y1="130.5" x2="539.6" y2="130.5" stroke="#8c7468" stroke-width="0.5" opacity="0.35"/>
<line x1="444.0" y1="134.8" x2="539.6" y2="134.8" stroke="#8c7468" stroke-width="0.5" opacity="0.35"/>
<line x1="444.0" y1="139.1" x2="539.6" y2="139.1" stroke="#8c7468" stroke-width="0.5" opacity="0.35"/>
<line x1="444.0" y1="143.4" x2="539.6" y2="143.4" stroke="#8c7468" stroke-width="0.5" opacity="0.35"/>
<line x1="444.0" y1="147.7" x2="539.6" y2="147.7" stroke="#8c7468" stroke-width="0.5" opacity="0.35"/>
<line x1="444.0" y1="152.0" x2="539.6" y2="152.0" stroke="#8c7468" stroke-width="0.5" opacity="0.35"/>
<line x1="444.0" y1="156.3" x2="539.6" y2="156.3" stroke="#8c7468" stroke-width="0.5" opacity="0.35"/>
<line x1="444.0" y1="160.6" x2="539.6" y2="160.6" stroke="#8c7468" stroke-width="0.5" opacity="0.35"/>
<line x1="444.0" y1="164.9" x2="539.6" y2="164.9" stroke="#8c7468" stroke-width="0.5" opacity="0.35"/>
<line x1="444.0" y1="169.2" x2="539.6" y2="169.2" stroke="#8c7468" stroke-width="0.5" opacity="0.35"/>
<line x1="444.0" y1="173.5" x2="539.6" y2="173.5" stroke="#8c7468" stroke-width="0.5" opacity="0.35"/>
<line x1="444.0" y1="177.8" x2="539.6" y2="177.8" stroke="#8c7468" stroke-width="0.5" opacity="0.35"/>
<line x1="444.0" y1="182.1" x2="539.6" y2="182.1" stroke="#8c7468" stroke-width="0.5" opacity="0.35"/>
<line x1="444.0" y1="186.4" x2="539.6" y2="186.4" stroke="#8c7468" stroke-width="0.5" opacity="0.35"/>
<line x1="444.0" y1="190.7" x2="539.6" y2="190.7" stroke="#8c7468" stroke-width="0.5" opacity="0.35"/>
<line x1="444.0" y1="195.0" x2="539.6" y2="195.0" stroke="#8c7468" stroke-width="0.5" opacity="0.35"/>
<line x1="444.0" y1="199.3" x2="539.6" y2="199.3" stroke="#8c7468" stroke-width="0.5" opacity="0.35"/>
<line x1="444.0" y1="203.6" x2="539.6" y2="203.6" stroke="#8c7468" stroke-width="0.5" opacity="0.35"/>
<line x1="444.0" y1="207.9" x2="539.6" y2="207.9" stroke="#8c7468" stroke-width="0.5" opacity="0.35"/>
<line x1="444.0" y1="212.2" x2="539.6" y2="212.2" stroke="#8c7468" stroke-width="0.5" opacity="0.35"/>
<line x1="444.0" y1="216.5" x2="539.6" y2="216.5" stroke="#8c7468" stroke-width="0.5" opacity="0.35"/>
<line x1="444.0" y1="220.8" x2="539.6" y2="220.8" stroke="#8c7468" stroke-width="0.5" opacity="0.35"/>
<line x1="444.0" y1="225.1" x2="539.6" y2="225.1" stroke="#8c7468" stroke-width="0.5" opacity="0.35"/>
<line x1="447.0" y1="128.0" x2="447.0" y2="226.4" stroke="#7a6458" stroke-width="0.5" opacity="0.3"/>
<line x1="451.0" y1="128.0" x2="451.0" y2="226.4" stroke="#7a6458" stroke-width="0.5" opacity="0.3"/>
<line x1="535.6" y1="128.0" x2="535.6" y2="226.4" stroke="#7a6458" stroke-width="0.5" opacity="0.3"/>
<path d="M465.6,125.0 C457.5,125.0 457.5,137.1 457.5,155.3 C457.5,185.6 462.4,210.8 477.0,223.0 Q490.0,228.0 503.0,223.0 C517.6,210.8 522.5,185.6 522.5,155.3 C522.5,137.1 522.5,125.0 514.4,125.0 Z" fill="#6a4536" opacity="0.59" filter="url(#bl3)"/>
<ellipse cx="490" cy="128" rx="26.1" ry="6.0" fill="#5a382c" opacity="0.85" filter="url(#bl3)"/>
<path d="M469.4,130.0 C462.5,130.0 462.5,141.3 462.5,158.2 C462.5,186.4 466.6,209.9 479.0,221.2 Q490.0,226.0 501.0,221.2 C513.4,209.9 517.5,186.4 517.5,158.2 C517.5,141.3 517.5,130.0 510.6,130.0 Z" fill="#22262e" filter="url(#bl1)"/>
<ellipse cx="491" cy="192" rx="20" ry="28" fill="#454c58" opacity="0.85" filter="url(#bl3)"/>
<ellipse cx="493" cy="200" rx="14" ry="18" fill="#525a66" opacity="0.5" filter="url(#bl3)"/>
<path d="M476,176 L484,179 L492,175 L500,180 L506,177" fill="none" stroke="#1a2028" stroke-width="0.7" opacity="0.75"/>
<path d="M473,191 L481,194 L490,190 L498,195 L507,191" fill="none" stroke="#1a2028" stroke-width="0.7" opacity="0.75"/>
<path d="M478,206 L486,203 L494,208 L502,204" fill="none" stroke="#1a2028" stroke-width="0.7" opacity="0.75"/>
<path d="M490,166 L488,180 L492,195 L489,210 L491,218" fill="none" stroke="#1a2028" stroke-width="0.7" opacity="0.75"/>
</g>
<text x="492.0" y="140.0" font-size="10.8" font-weight="bold" fill="#fff" text-anchor="middle" >ALHP/PB</text>
<g clip-path="url(#cp13)">
<rect x="19.1" y="470.0" width="521.9" height="94.6" fill="#1a0418" />
<ellipse cx="80.0" cy="520.0" rx="42.0" ry="50.0" fill="#a01ca8" opacity="0.6" filter="url(#bl5)"/>
<ellipse cx="80.0" cy="479" rx="38.0" ry="9" fill="#c820c8" opacity="0.7" filter="url(#bl3)"/>
<path d="M81.0,477.5 L86.0,482.0 L92.7,490.0 L96.4,500.0 L98.6,510.0 L99.0,520.0 L98.8,530.0 L98.2,540.0 L95.5,550.0 L91.8,555.0 L88.0,557.5 L85.0,556.5 L83.0,559.5 L79.0,560.5 L72.0,559.5 L67.3,555.0 L63.6,550.0 L59.5,541.0 L57.5,530.0 L57.3,520.0 L58.5,510.0 L61.0,500.0 L65.5,490.0 L73.0,482.0 Z" fill="#d82ad8" stroke="#d82ad8" stroke-width="16" stroke-linejoin="round" opacity="0.9" filter="url(#bl3)"/>
<path d="M81.0,477.5 L86.0,482.0 L92.7,490.0 L96.4,500.0 L98.6,510.0 L99.0,520.0 L98.8,530.0 L98.2,540.0 L95.5,550.0 L91.8,555.0 L88.0,557.5 L85.0,556.5 L83.0,559.5 L79.0,560.5 L72.0,559.5 L67.3,555.0 L63.6,550.0 L59.5,541.0 L57.5,530.0 L57.3,520.0 L58.5,510.0 L61.0,500.0 L65.5,490.0 L73.0,482.0 Z" fill="#f43cf4" stroke="#f440f4" stroke-width="8" stroke-linejoin="round" filter="url(#bl1)"/>
<path d="M81.0,477.5 L86.0,482.0 L92.7,490.0 L96.4,500.0 L98.6,510.0 L99.0,520.0 L98.8,530.0 L98.2,540.0 L95.5,550.0 L91.8,555.0 L88.0,557.5 L85.0,556.5 L83.0,559.5 L79.0,560.5 L72.0,559.5 L67.3,555.0 L63.6,550.0 L59.5,541.0 L57.5,530.0 L57.3,520.0 L58.5,510.0 L61.0,500.0 L65.5,490.0 L73.0,482.0 Z" fill="#2a34f0" stroke="#2a34f0" stroke-width="2.5" stroke-linejoin="round" filter="url(#bl05)"/>
<path d="M81.0,477.5 L86.0,482.0 L92.7,490.0 L96.4,500.0 L98.6,510.0 L99.0,520.0 L98.8,530.0 L98.2,540.0 L95.5,550.0 L91.8,555.0 L88.0,557.5 L85.0,556.5 L83.0,559.5 L79.0,560.5 L72.0,559.5 L67.3,555.0 L63.6,550.0 L59.5,541.0 L57.5,530.0 L57.3,520.0 L58.5,510.0 L61.0,500.0 L65.5,490.0 L73.0,482.0 Z" fill="#22dcd0" filter="url(#bl1)" transform="translate(74.0,560.0) scale(0.86 0.97) translate(-74.0,-560.0)"/>
<path d="M81.0,477.5 L86.0,482.0 L92.7,490.0 L96.4,500.0 L98.6,510.0 L99.0,520.0 L98.8,530.0 L98.2,540.0 L95.5,550.0 L91.8,555.0 L88.0,557.5 L85.0,556.5 L83.0,559.5 L79.0,560.5 L72.0,559.5 L67.3,555.0 L63.6,550.0 L59.5,541.0 L57.5,530.0 L57.3,520.0 L58.5,510.0 L61.0,500.0 L65.5,490.0 L73.0,482.0 Z" fill="#14a040" filter="url(#bl3)" transform="translate(78.0,557.0) scale(0.72 0.8) translate(-78.0,-557.0)"/>
<path d="M85,484 L93,494 L97.5,507 L98.5,525 L97,542 L93,551 L91,540 L91,520 L90,504 Z" fill="#2a34f0" opacity="0.75" filter="url(#bl2)"/>
<ellipse cx="78.6" cy="543.3" rx="14.9" ry="12.6" fill="#a8e020" opacity="0.9" filter="url(#bl2)"/>
<ellipse cx="78.6" cy="543.3" rx="12.0" ry="9.9" fill="#f4ec10" filter="url(#bl1)"/>
<ellipse cx="80" cy="544.5" rx="10.5" ry="9.4" fill="#ff8a10" filter="url(#bl1)"/>
<ellipse cx="80" cy="544.5" rx="6.8" ry="5.8" fill="#f41818" filter="url(#bl05)"/>
<ellipse cx="80" cy="544.5" rx="3.8" ry="3.1" fill="#ff8070" filter="url(#bl05)"/>
<ellipse cx="79" cy="546" rx="2.4" ry="1.8" fill="#fff4f4" filter="url(#bl05)"/>
<ellipse cx="211.0" cy="520.0" rx="39.0" ry="50.0" fill="#a01ca8" opacity="0.6" filter="url(#bl5)"/>
<ellipse cx="211.0" cy="479" rx="35.0" ry="9" fill="#c820c8" opacity="0.7" filter="url(#bl3)"/>
<path d="M211.8,484.0 L218.0,483.5 L225.0,486.0 L230.0,491.0 L232.0,500.0 L232.2,510.0 L231.2,522.0 L230.0,535.0 L228.0,545.0 L224.5,553.0 L220.0,558.5 L215.0,557.5 L211.0,554.5 L207.0,557.5 L201.0,558.5 L196.0,553.0 L192.0,545.0 L190.0,535.0 L189.0,522.0 L189.0,510.0 L190.0,500.0 L192.5,491.0 L197.5,486.0 L205.0,483.5 Z" fill="#d82ad8" stroke="#d82ad8" stroke-width="16" stroke-linejoin="round" opacity="0.9" filter="url(#bl3)"/>
<path d="M211.8,484.0 L218.0,483.5 L225.0,486.0 L230.0,491.0 L232.0,500.0 L232.2,510.0 L231.2,522.0 L230.0,535.0 L228.0,545.0 L224.5,553.0 L220.0,558.5 L215.0,557.5 L211.0,554.5 L207.0,557.5 L201.0,558.5 L196.0,553.0 L192.0,545.0 L190.0,535.0 L189.0,522.0 L189.0,510.0 L190.0,500.0 L192.5,491.0 L197.5,486.0 L205.0,483.5 Z" fill="#f43cf4" stroke="#f440f4" stroke-width="8" stroke-linejoin="round" filter="url(#bl1)"/>
<path d="M211.8,484.0 L218.0,483.5 L225.0,486.0 L230.0,491.0 L232.0,500.0 L232.2,510.0 L231.2,522.0 L230.0,535.0 L228.0,545.0 L224.5,553.0 L220.0,558.5 L215.0,557.5 L211.0,554.5 L207.0,557.5 L201.0,558.5 L196.0,553.0 L192.0,545.0 L190.0,535.0 L189.0,522.0 L189.0,510.0 L190.0,500.0 L192.5,491.0 L197.5,486.0 L205.0,483.5 Z" fill="#2a34f0" stroke="#2a34f0" stroke-width="2.5" stroke-linejoin="round" filter="url(#bl05)"/>
<path d="M211.8,484.0 L218.0,483.5 L225.0,486.0 L230.0,491.0 L232.0,500.0 L232.2,510.0 L231.2,522.0 L230.0,535.0 L228.0,545.0 L224.5,553.0 L220.0,558.5 L215.0,557.5 L211.0,554.5 L207.0,557.5 L201.0,558.5 L196.0,553.0 L192.0,545.0 L190.0,535.0 L189.0,522.0 L189.0,510.0 L190.0,500.0 L192.5,491.0 L197.5,486.0 L205.0,483.5 Z" fill="#22dcd0" filter="url(#bl1)" transform="translate(210.5,556.0) scale(0.88 0.86) translate(-210.5,-556.0)"/>
<path d="M211.8,484.0 L218.0,483.5 L225.0,486.0 L230.0,491.0 L232.0,500.0 L232.2,510.0 L231.2,522.0 L230.0,535.0 L228.0,545.0 L224.5,553.0 L220.0,558.5 L215.0,557.5 L211.0,554.5 L207.0,557.5 L201.0,558.5 L196.0,553.0 L192.0,545.0 L190.0,535.0 L189.0,522.0 L189.0,510.0 L190.0,500.0 L192.5,491.0 L197.5,486.0 L205.0,483.5 Z" fill="#14a040" filter="url(#bl3)" transform="translate(210.5,553.0) scale(0.82 0.7) translate(-210.5,-553.0)"/>
<path d="M203,505 L211.5,487 L220,505 Z" fill="#22dcd0" filter="url(#bl2)"/>
<ellipse cx="210.3" cy="547.4" rx="13.8" ry="11.0" fill="#a8e020" opacity="0.9" filter="url(#bl2)"/>
<ellipse cx="210.3" cy="547.4" rx="11.0" ry="8.6" fill="#f4ec10" filter="url(#bl1)"/>
<ellipse cx="210.5" cy="549" rx="9.9" ry="7.2" fill="#ff8a10" filter="url(#bl1)"/>
<ellipse cx="210.5" cy="549" rx="6.5" ry="4.4" fill="#f41818" filter="url(#bl05)"/>
<ellipse cx="210.5" cy="549" rx="3.6" ry="2.3" fill="#ff8070" filter="url(#bl05)"/>
<ellipse cx="211" cy="551" rx="2.4" ry="1.8" fill="#fff4f4" filter="url(#bl05)"/>
<ellipse cx="338.0" cy="520.0" rx="42.0" ry="50.0" fill="#a01ca8" opacity="0.6" filter="url(#bl5)"/>
<ellipse cx="338.0" cy="479" rx="38.0" ry="9" fill="#c820c8" opacity="0.7" filter="url(#bl3)"/>
<path d="M339.0,495.0 L345.0,500.0 L352.7,505.0 L355.5,513.0 L357.0,525.0 L357.0,537.0 L355.0,547.0 L352.7,556.0 L346.0,557.5 L339.0,553.3 L332.0,557.8 L322.0,556.0 L320.0,547.0 L318.0,537.0 L317.5,525.0 L318.0,513.0 L320.0,508.0 L326.4,505.0 L333.0,500.0 Z" fill="#d82ad8" stroke="#d82ad8" stroke-width="16" stroke-linejoin="round" opacity="0.9" filter="url(#bl3)"/>
<path d="M339.0,495.0 L345.0,500.0 L352.7,505.0 L355.5,513.0 L357.0,525.0 L357.0,537.0 L355.0,547.0 L352.7,556.0 L346.0,557.5 L339.0,553.3 L332.0,557.8 L322.0,556.0 L320.0,547.0 L318.0,537.0 L317.5,525.0 L318.0,513.0 L320.0,508.0 L326.4,505.0 L333.0,500.0 Z" fill="#f43cf4" stroke="#f440f4" stroke-width="8" stroke-linejoin="round" filter="url(#bl1)"/>
<path d="M339.0,495.0 L345.0,500.0 L352.7,505.0 L355.5,513.0 L357.0,525.0 L357.0,537.0 L355.0,547.0 L352.7,556.0 L346.0,557.5 L339.0,553.3 L332.0,557.8 L322.0,556.0 L320.0,547.0 L318.0,537.0 L317.5,525.0 L318.0,513.0 L320.0,508.0 L326.4,505.0 L333.0,500.0 Z" fill="#2a34f0" stroke="#2a34f0" stroke-width="2.5" stroke-linejoin="round" filter="url(#bl05)"/>
<path d="M339.0,495.0 L345.0,500.0 L352.7,505.0 L355.5,513.0 L357.0,525.0 L357.0,537.0 L355.0,547.0 L352.7,556.0 L346.0,557.5 L339.0,553.3 L332.0,557.8 L322.0,556.0 L320.0,547.0 L318.0,537.0 L317.5,525.0 L318.0,513.0 L320.0,508.0 L326.4,505.0 L333.0,500.0 Z" fill="#22dcd0" filter="url(#bl1)" transform="translate(337.5,556.0) scale(0.9 0.975) translate(-337.5,-556.0)"/>
<path d="M339.0,495.0 L345.0,500.0 L352.7,505.0 L355.5,513.0 L357.0,525.0 L357.0,537.0 L355.0,547.0 L352.7,556.0 L346.0,557.5 L339.0,553.3 L332.0,557.8 L322.0,556.0 L320.0,547.0 L318.0,537.0 L317.5,525.0 L318.0,513.0 L320.0,508.0 L326.4,505.0 L333.0,500.0 Z" fill="#14a040" filter="url(#bl3)" transform="translate(337.5,553.0) scale(0.86 0.8) translate(-337.5,-553.0)"/>
<path d="M331,499 C334,492 337,486 339,484 C341,486 344,492 347,499 C344,498 341,497 339,496 C337,497 334,498 331,499 Z" fill="#2a34f0" filter="url(#bl1)"/>
<ellipse cx="338.7" cy="545" rx="14.9" ry="11.5" fill="#a8e020" opacity="0.9" filter="url(#bl2)"/>
<ellipse cx="338.7" cy="545" rx="12.0" ry="9.0" fill="#f4ec10" filter="url(#bl1)"/>
<ellipse cx="339.5" cy="547.5" rx="9.4" ry="6.1" fill="#ff8a10" filter="url(#bl1)"/>
<ellipse cx="339.5" cy="547.5" rx="6.1" ry="3.7" fill="#f41818" filter="url(#bl05)"/>
<ellipse cx="339.5" cy="547.5" rx="3.4" ry="2.0" fill="#ff8070" filter="url(#bl05)"/>
<ellipse cx="337" cy="549" rx="2.4" ry="1.8" fill="#fff4f4" filter="url(#bl05)"/>
<ellipse cx="469.0" cy="520.0" rx="43.0" ry="50.0" fill="#a01ca8" opacity="0.6" filter="url(#bl5)"/>
<ellipse cx="469.0" cy="479" rx="39.0" ry="9" fill="#c820c8" opacity="0.7" filter="url(#bl3)"/>
<path d="M458.0,494.0 L466.0,493.5 L473.0,497.0 L478.0,503.0 L481.0,511.5 L483.4,520.0 L483.6,529.6 L483.2,538.0 L482.7,546.0 L480.0,553.3 L476.0,551.0 L473.0,551.0 L468.0,558.7 L461.0,557.8 L455.0,553.0 L451.8,549.6 L449.5,540.0 L449.0,529.6 L449.0,520.0 L449.2,513.3 L451.0,502.4 L454.0,497.0 Z" fill="#d82ad8" stroke="#d82ad8" stroke-width="16" stroke-linejoin="round" opacity="0.9" filter="url(#bl3)"/>
<path d="M458.0,494.0 L466.0,493.5 L473.0,497.0 L478.0,503.0 L481.0,511.5 L483.4,520.0 L483.6,529.6 L483.2,538.0 L482.7,546.0 L480.0,553.3 L476.0,551.0 L473.0,551.0 L468.0,558.7 L461.0,557.8 L455.0,553.0 L451.8,549.6 L449.5,540.0 L449.0,529.6 L449.0,520.0 L449.2,513.3 L451.0,502.4 L454.0,497.0 Z" fill="#f43cf4" stroke="#f440f4" stroke-width="8" stroke-linejoin="round" filter="url(#bl1)"/>
<path d="M458.0,494.0 L466.0,493.5 L473.0,497.0 L478.0,503.0 L481.0,511.5 L483.4,520.0 L483.6,529.6 L483.2,538.0 L482.7,546.0 L480.0,553.3 L476.0,551.0 L473.0,551.0 L468.0,558.7 L461.0,557.8 L455.0,553.0 L451.8,549.6 L449.5,540.0 L449.0,529.6 L449.0,520.0 L449.2,513.3 L451.0,502.4 L454.0,497.0 Z" fill="#2a34f0" stroke="#2a34f0" stroke-width="2.5" stroke-linejoin="round" filter="url(#bl05)"/>
<path d="M458.0,494.0 L466.0,493.5 L473.0,497.0 L478.0,503.0 L481.0,511.5 L483.4,520.0 L483.6,529.6 L483.2,538.0 L482.7,546.0 L480.0,553.3 L476.0,551.0 L473.0,551.0 L468.0,558.7 L461.0,557.8 L455.0,553.0 L451.8,549.6 L449.5,540.0 L449.0,529.6 L449.0,520.0 L449.2,513.3 L451.0,502.4 L454.0,497.0 Z" fill="#22dcd0" filter="url(#bl1)" transform="translate(466.0,556.0) scale(0.9 0.92) translate(-466.0,-556.0)"/>
<path d="M458.0,494.0 L466.0,493.5 L473.0,497.0 L478.0,503.0 L481.0,511.5 L483.4,520.0 L483.6,529.6 L483.2,538.0 L482.7,546.0 L480.0,553.3 L476.0,551.0 L473.0,551.0 L468.0,558.7 L461.0,557.8 L455.0,553.0 L451.8,549.6 L449.5,540.0 L449.0,529.6 L449.0,520.0 L449.2,513.3 L451.0,502.4 L454.0,497.0 Z" fill="#14a040" filter="url(#bl3)" transform="translate(466.0,553.0) scale(0.82 0.72) translate(-466.0,-553.0)"/>
<path d="M449,506 C450,492 456,486 462,486 C470,486 477,493 481,507 C474,501 468,498 462,497 C456,498 452,501 449,506 Z" fill="#2a34f0" filter="url(#bl1)"/>
<ellipse cx="471.5" cy="545" rx="12.1" ry="11.5" fill="#a8e020" opacity="0.9" filter="url(#bl2)"/>
<ellipse cx="471.5" cy="545" rx="9.7" ry="9.0" fill="#f4ec10" filter="url(#bl1)"/>
<ellipse cx="469" cy="546" rx="6.4" ry="6.1" fill="#ff8a10" filter="url(#bl1)"/>
<ellipse cx="469" cy="546" rx="4.2" ry="3.7" fill="#f41818" filter="url(#bl05)"/>
<ellipse cx="469" cy="546" rx="2.3" ry="2.0" fill="#ff8070" filter="url(#bl05)"/>
<ellipse cx="467" cy="546" rx="2.4" ry="1.8" fill="#fff4f4" filter="url(#bl05)"/>
<rect x="19" y="470" width="522" height="8" fill="#9a1090" opacity="0.25" filter="url(#bl3)"/>
</g>
<rect x="521.4" y="471.3" width="3.0" height="91.7" fill="url(#lg14)" />
<line x1="525.6" y1="471.0" x2="525.6" y2="563.0" stroke="#8a8a8a" stroke-width="0.8" />
<rect x="521.4" y="561.5" width="3.0" height="2.5" fill="#fff" />
<text x="532.5" y="475.5" font-size="4.8" font-weight="normal" fill="#ddd" text-anchor="middle" >830</text>
<text x="532.5" y="560.5" font-size="4.8" font-weight="normal" fill="#ddd" text-anchor="middle" >15</text>
<line x1="81.6" y1="478.9" x2="521.0" y2="478.9" stroke="#e8e8e8" stroke-width="1.0" />
<path d="M38.0,487.6 L69.0,487.6 L81.6,478.3" fill="none" stroke="#fff" stroke-width="0.9"/>
<text x="42.6" y="483.3" font-size="10.5" font-weight="bold" fill="#fff" text-anchor="start" >P</text>
<text x="48.8" y="487.1" font-size="5.2" font-weight="bold" fill="#fff" text-anchor="start" >300 °C</text>
<circle cx="81.6" cy="478.3" r="1.3" fill="#fff"/>
<path d="M170.7,495.0 L200.0,495.0 L211.8,486.2" fill="none" stroke="#fff" stroke-width="0.9"/>
<text x="174.8" y="491.1" font-size="10.5" font-weight="bold" fill="#fff" text-anchor="start" >P</text>
<text x="181.0" y="494.9" font-size="5.2" font-weight="bold" fill="#fff" text-anchor="start" >300 °C</text>
<circle cx="211.8" cy="486.2" r="1.3" fill="#fff"/>
<path d="M298.0,506.4 L327.0,506.4 L339.5,495.5" fill="none" stroke="#fff" stroke-width="0.9"/>
<text x="301.5" y="501.8" font-size="10.5" font-weight="bold" fill="#fff" text-anchor="start" >P</text>
<text x="307.7" y="505.6" font-size="5.2" font-weight="bold" fill="#fff" text-anchor="start" >300 °C</text>
<circle cx="339.5" cy="495.5" r="1.3" fill="#fff"/>
<path d="M413.6,505.7 L443.0,505.7 L456.4,495.0" fill="none" stroke="#fff" stroke-width="0.9"/>
<text x="418.0" y="500.1" font-size="10.5" font-weight="bold" fill="#fff" text-anchor="start" >P</text>
<text x="424.2" y="503.9" font-size="5.2" font-weight="bold" fill="#fff" text-anchor="start" >300 °C</text>
<circle cx="456.4" cy="495.0" r="1.3" fill="#fff"/>
<path d="M79.5,546.0 L89.0,537.8 L114.0,537.8" fill="none" stroke="#fff" stroke-width="0.9"/>
<text x="108.6" y="536.0" font-size="10.5" font-weight="bold" fill="#fff" text-anchor="middle" >IP</text>
<text x="113.0" y="549.1" font-size="10.5" font-weight="bold" fill="#fff" text-anchor="middle" >815 °C</text>
<circle cx="79.5" cy="546" r="1.4" fill="#fff"/>
<path d="M211.0,551.0 L223.0,536.5 L248.0,536.5" fill="none" stroke="#fff" stroke-width="0.9"/>
<text x="242.0" y="534.7" font-size="10.5" font-weight="bold" fill="#fff" text-anchor="middle" >IP</text>
<text x="247.8" y="547.8" font-size="10.5" font-weight="bold" fill="#fff" text-anchor="middle" >825 °C</text>
<circle cx="211" cy="551" r="1.4" fill="#fff"/>
<path d="M337.0,549.0 L352.0,537.0 L376.0,537.0" fill="none" stroke="#fff" stroke-width="0.9"/>
<text x="369.7" y="535.2" font-size="10.5" font-weight="bold" fill="#fff" text-anchor="middle" >IP</text>
<text x="372.0" y="548.3" font-size="10.5" font-weight="bold" fill="#fff" text-anchor="middle" >826 °C</text>
<circle cx="337" cy="549" r="1.4" fill="#fff"/>
<path d="M467.0,546.0 L485.0,537.0 L508.0,537.0" fill="none" stroke="#fff" stroke-width="0.9"/>
<text x="502.5" y="535.2" font-size="10.5" font-weight="bold" fill="#fff" text-anchor="middle" >IP</text>
<text x="504.5" y="548.3" font-size="10.5" font-weight="bold" fill="#fff" text-anchor="middle" >830 °C</text>
<circle cx="467" cy="546" r="1.4" fill="#fff"/>
<text x="40.1" y="561.8" font-size="10.5" font-weight="bold" fill="#fff" text-anchor="middle" >3.17 min</text>
<text x="169.3" y="562.3" font-size="10.5" font-weight="bold" fill="#fff" text-anchor="middle" >2.40 min</text>
<text x="295.7" y="563.0" font-size="10.5" font-weight="bold" fill="#fff" text-anchor="middle" >1.66 min</text>
<text x="426.2" y="562.8" font-size="10.5" font-weight="bold" fill="#fff" text-anchor="middle" >15.00 min</text>
<line x1="224.5" y1="481.0" x2="224.5" y2="484.5" stroke="#fff" stroke-width="0.8" />
<path d="M223.1,481.6 L225.9,481.6 L224.5,479.0Z M223.1,483.9 L225.9,483.9 L224.5,486.5Z" fill="#fff"/>
<line x1="217.0" y1="486.5" x2="229.0" y2="486.5" stroke="#fff" stroke-width="0.8" />
<text x="230.0" y="490.5" font-size="10.5" font-weight="bold" fill="#fff" text-anchor="start" >18.23 mm</text>
<line x1="352.0" y1="481.0" x2="352.0" y2="494.0" stroke="#fff" stroke-width="0.8" />
<path d="M350.6,481.6 L353.4,481.6 L352.0,479.0Z M350.6,493.4 L353.4,493.4 L352.0,496.0Z" fill="#fff"/>
<line x1="346.0" y1="496.0" x2="359.0" y2="496.0" stroke="#fff" stroke-width="0.8" />
<text x="356.5" y="492.2" font-size="10.5" font-weight="bold" fill="#fff" text-anchor="start" >46.23 mm</text>
<line x1="470.6" y1="481.0" x2="470.6" y2="494.0" stroke="#fff" stroke-width="0.8" />
<path d="M469.2,481.6 L472.0,481.6 L470.6,479.0Z M469.2,493.4 L472.0,493.4 L470.6,496.0Z" fill="#fff"/>
<line x1="463.0" y1="496.0" x2="477.0" y2="496.0" stroke="#fff" stroke-width="0.8" />
<text x="475.0" y="492.2" font-size="10.5" font-weight="bold" fill="#fff" text-anchor="start" >45.45 mm</text>
<text x="7.0" y="482.0" font-size="18.5" font-weight="bold" fill="#000" text-anchor="start" >d</text>
<text x="79.4" y="576.8" font-size="10.9" font-weight="bold" fill="#000" text-anchor="middle" >Particle Board</text>
<text x="211.5" y="576.8" font-size="10.9" font-weight="bold" fill="#000" text-anchor="middle" >MDH/PB</text>
<text x="339.4" y="576.8" font-size="10.9" font-weight="bold" fill="#000" text-anchor="middle" >APP+MEL+DPE/PB</text>
<text x="470.2" y="576.8" font-size="10.9" font-weight="bold" fill="#000" text-anchor="middle" >ALHP/PB</text>
<text x="8.8" y="601.8" font-size="18.5" font-weight="bold" fill="#000" text-anchor="start" >e</text>
<g clip-path="url(#cp16)">
<rect x="81.3" y="583.1" width="76.7" height="75.7" fill="#1c5af0" />
<ellipse cx="119.7" cy="624.7" rx="50.0" ry="45.0" fill="url(#rg17)"/>
<circle cx="116.8" cy="643.8" r="3.3" fill="none" stroke="#f0f020" stroke-width="1.1" stroke-dasharray="2.6 1.3"/>
<path d="M119.2,646.4 L125.5,652.5 L154.5,652.5" fill="none" stroke="#e8e020" stroke-width="1.0"/>
<text x="155.5" y="649.6" font-size="9.0" font-weight="bold" fill="#f8f418" text-anchor="end" >25.7 °C</text>
</g>
<rect x="159.0" y="583.1" width="2.2" height="75.7" fill="url(#lg15)" />
<line x1="161.2" y1="585.6" x2="162.6" y2="585.6" stroke="#666" stroke-width="0.4" />
<text x="163.0" y="587.0" font-size="4.0" font-weight="normal" fill="#333" text-anchor="start" >34.2</text>
<line x1="161.2" y1="594.4" x2="162.6" y2="594.4" stroke="#666" stroke-width="0.4" />
<text x="163.0" y="595.8" font-size="4.0" font-weight="normal" fill="#333" text-anchor="start" >33.0</text>
<line x1="161.2" y1="603.3" x2="162.6" y2="603.3" stroke="#666" stroke-width="0.4" />
<text x="163.0" y="604.7" font-size="4.0" font-weight="normal" fill="#333" text-anchor="start" >31.8</text>
<line x1="161.2" y1="612.1" x2="162.6" y2="612.1" stroke="#666" stroke-width="0.4" />
<text x="163.0" y="613.5" font-size="4.0" font-weight="normal" fill="#333" text-anchor="start" >30.6</text>
<line x1="161.2" y1="621.0" x2="162.6" y2="621.0" stroke="#666" stroke-width="0.4" />
<text x="163.0" y="622.4" font-size="4.0" font-weight="normal" fill="#333" text-anchor="start" >29.4</text>
<line x1="161.2" y1="629.8" x2="162.6" y2="629.8" stroke="#666" stroke-width="0.4" />
<text x="163.0" y="631.2" font-size="4.0" font-weight="normal" fill="#333" text-anchor="start" >27.0</text>
<line x1="161.2" y1="638.6" x2="162.6" y2="638.6" stroke="#666" stroke-width="0.4" />
<text x="163.0" y="640.0" font-size="4.0" font-weight="normal" fill="#333" text-anchor="start" >25.8</text>
<line x1="161.2" y1="647.5" x2="162.6" y2="647.5" stroke="#666" stroke-width="0.4" />
<text x="163.0" y="648.9" font-size="4.0" font-weight="normal" fill="#333" text-anchor="start" >24.6</text>
<line x1="161.2" y1="656.3" x2="162.6" y2="656.3" stroke="#666" stroke-width="0.4" />
<text x="163.0" y="657.7" font-size="4.0" font-weight="normal" fill="#333" text-anchor="start" >23.8</text>
<g clip-path="url(#cp18)">
<rect x="173.1" y="583.1" width="76.0" height="75.7" fill="#1426c8" />
<ellipse cx="211.9" cy="625.9" rx="27.3" ry="41.6" fill="url(#rg19)"/>
<ellipse cx="211.9" cy="640.3" rx="16.8" ry="20.8" fill="url(#rg20)"/>
<ellipse cx="211.9" cy="642.6" rx="10.5" ry="13.0" fill="url(#rg21)"/>
<circle cx="208.6" cy="643.7" r="3.3" fill="none" stroke="#f0f020" stroke-width="1.1" stroke-dasharray="2.6 1.3"/>
<path d="M211.0,646.3 L217.3,652.4 L246.3,652.4" fill="none" stroke="#e8e020" stroke-width="1.0"/>
<text x="247.3" y="649.5" font-size="9.0" font-weight="bold" fill="#f8f418" text-anchor="end" >36.4 °C</text>
</g>
<rect x="250.1" y="583.1" width="2.2" height="75.7" fill="url(#lg15)" />
<line x1="252.3" y1="585.6" x2="253.7" y2="585.6" stroke="#666" stroke-width="0.4" />
<text x="254.1" y="587.0" font-size="4.0" font-weight="normal" fill="#333" text-anchor="start" >80</text>
<line x1="252.3" y1="594.4" x2="253.7" y2="594.4" stroke="#666" stroke-width="0.4" />
<text x="254.1" y="595.8" font-size="4.0" font-weight="normal" fill="#333" text-anchor="start" >72</text>
<line x1="252.3" y1="603.3" x2="253.7" y2="603.3" stroke="#666" stroke-width="0.4" />
<text x="254.1" y="604.7" font-size="4.0" font-weight="normal" fill="#333" text-anchor="start" >64</text>
<line x1="252.3" y1="612.1" x2="253.7" y2="612.1" stroke="#666" stroke-width="0.4" />
<text x="254.1" y="613.5" font-size="4.0" font-weight="normal" fill="#333" text-anchor="start" >56</text>
<line x1="252.3" y1="621.0" x2="253.7" y2="621.0" stroke="#666" stroke-width="0.4" />
<text x="254.1" y="622.4" font-size="4.0" font-weight="normal" fill="#333" text-anchor="start" >48</text>
<line x1="252.3" y1="629.8" x2="253.7" y2="629.8" stroke="#666" stroke-width="0.4" />
<text x="254.1" y="631.2" font-size="4.0" font-weight="normal" fill="#333" text-anchor="start" >40</text>
<line x1="252.3" y1="638.6" x2="253.7" y2="638.6" stroke="#666" stroke-width="0.4" />
<text x="254.1" y="640.0" font-size="4.0" font-weight="normal" fill="#333" text-anchor="start" >32</text>
<line x1="252.3" y1="647.5" x2="253.7" y2="647.5" stroke="#666" stroke-width="0.4" />
<text x="254.1" y="648.9" font-size="4.0" font-weight="normal" fill="#333" text-anchor="start" >24</text>
<line x1="252.3" y1="656.3" x2="253.7" y2="656.3" stroke="#666" stroke-width="0.4" />
<text x="254.1" y="657.7" font-size="4.0" font-weight="normal" fill="#333" text-anchor="start" >21.8</text>
<g clip-path="url(#cp22)">
<rect x="263.3" y="583.1" width="75.8" height="75.7" fill="#1a44e0" />
<ellipse cx="302.7" cy="621.0" rx="37.8" ry="53.2" fill="url(#rg23)"/>
<circle cx="298.8" cy="643.4" r="3.3" fill="none" stroke="#f0f020" stroke-width="1.1" stroke-dasharray="2.6 1.3"/>
<path d="M301.2,646.0 L307.5,652.1 L336.5,652.1" fill="none" stroke="#e8e020" stroke-width="1.0"/>
<text x="337.5" y="649.2" font-size="9.0" font-weight="bold" fill="#f8f418" text-anchor="end" >80.4 °C</text>
</g>
<rect x="340.1" y="583.1" width="2.2" height="75.7" fill="url(#lg15)" />
<line x1="342.3" y1="585.6" x2="343.7" y2="585.6" stroke="#666" stroke-width="0.4" />
<text x="344.1" y="587.0" font-size="4.0" font-weight="normal" fill="#333" text-anchor="start" >80.4</text>
<line x1="342.3" y1="594.4" x2="343.7" y2="594.4" stroke="#666" stroke-width="0.4" />
<text x="344.1" y="595.8" font-size="4.0" font-weight="normal" fill="#333" text-anchor="start" >75</text>
<line x1="342.3" y1="603.3" x2="343.7" y2="603.3" stroke="#666" stroke-width="0.4" />
<text x="344.1" y="604.7" font-size="4.0" font-weight="normal" fill="#333" text-anchor="start" >70</text>
<line x1="342.3" y1="612.1" x2="343.7" y2="612.1" stroke="#666" stroke-width="0.4" />
<text x="344.1" y="613.5" font-size="4.0" font-weight="normal" fill="#333" text-anchor="start" >62</text>
<line x1="342.3" y1="621.0" x2="343.7" y2="621.0" stroke="#666" stroke-width="0.4" />
<text x="344.1" y="622.4" font-size="4.0" font-weight="normal" fill="#333" text-anchor="start" >55</text>
<line x1="342.3" y1="629.8" x2="343.7" y2="629.8" stroke="#666" stroke-width="0.4" />
<text x="344.1" y="631.2" font-size="4.0" font-weight="normal" fill="#333" text-anchor="start" >48</text>
<line x1="342.3" y1="638.6" x2="343.7" y2="638.6" stroke="#666" stroke-width="0.4" />
<text x="344.1" y="640.0" font-size="4.0" font-weight="normal" fill="#333" text-anchor="start" >40</text>
<line x1="342.3" y1="647.5" x2="343.7" y2="647.5" stroke="#666" stroke-width="0.4" />
<text x="344.1" y="648.9" font-size="4.0" font-weight="normal" fill="#333" text-anchor="start" >30</text>
<line x1="342.3" y1="656.3" x2="343.7" y2="656.3" stroke="#666" stroke-width="0.4" />
<text x="344.1" y="657.7" font-size="4.0" font-weight="normal" fill="#333" text-anchor="start" >21.8</text>
<g clip-path="url(#cp24)">
<rect x="353.3" y="583.1" width="76.9" height="75.7" fill="#1a40e0" />
<ellipse cx="392.5" cy="621.0" rx="38.0" ry="53.0" fill="url(#rg25)"/>
<ellipse cx="393.3" cy="628.5" rx="10.0" ry="22.0" fill="url(#rg26)"/>
<ellipse cx="393.7" cy="645.6" rx="7.5" ry="7.5" fill="url(#rg27)"/>
<circle cx="388.8" cy="648.4" r="3.3" fill="none" stroke="#f0f020" stroke-width="1.1" stroke-dasharray="2.6 1.3"/>
<path d="M391.2,651.0 L397.5,657.1 L426.5,657.1" fill="none" stroke="#e8e020" stroke-width="1.0"/>
<text x="427.5" y="654.2" font-size="9.0" font-weight="bold" fill="#f8f418" text-anchor="end" >128.2 °C</text>
</g>
<rect x="431.2" y="583.1" width="2.2" height="75.7" fill="url(#lg15)" />
<line x1="433.4" y1="585.6" x2="434.8" y2="585.6" stroke="#666" stroke-width="0.4" />
<text x="435.2" y="587.0" font-size="4.0" font-weight="normal" fill="#333" text-anchor="start" >128</text>
<line x1="433.4" y1="594.4" x2="434.8" y2="594.4" stroke="#666" stroke-width="0.4" />
<text x="435.2" y="595.8" font-size="4.0" font-weight="normal" fill="#333" text-anchor="start" >115</text>
<line x1="433.4" y1="603.3" x2="434.8" y2="603.3" stroke="#666" stroke-width="0.4" />
<text x="435.2" y="604.7" font-size="4.0" font-weight="normal" fill="#333" text-anchor="start" >100</text>
<line x1="433.4" y1="612.1" x2="434.8" y2="612.1" stroke="#666" stroke-width="0.4" />
<text x="435.2" y="613.5" font-size="4.0" font-weight="normal" fill="#333" text-anchor="start" >85</text>
<line x1="433.4" y1="621.0" x2="434.8" y2="621.0" stroke="#666" stroke-width="0.4" />
<text x="435.2" y="622.4" font-size="4.0" font-weight="normal" fill="#333" text-anchor="start" >70</text>
<line x1="433.4" y1="629.8" x2="434.8" y2="629.8" stroke="#666" stroke-width="0.4" />
<text x="435.2" y="631.2" font-size="4.0" font-weight="normal" fill="#333" text-anchor="start" >55</text>
<line x1="433.4" y1="638.6" x2="434.8" y2="638.6" stroke="#666" stroke-width="0.4" />
<text x="435.2" y="640.0" font-size="4.0" font-weight="normal" fill="#333" text-anchor="start" >40</text>
<line x1="433.4" y1="647.5" x2="434.8" y2="647.5" stroke="#666" stroke-width="0.4" />
<text x="435.2" y="648.9" font-size="4.0" font-weight="normal" fill="#333" text-anchor="start" >30</text>
<line x1="433.4" y1="656.3" x2="434.8" y2="656.3" stroke="#666" stroke-width="0.4" />
<text x="435.2" y="657.7" font-size="4.0" font-weight="normal" fill="#333" text-anchor="start" >22.7</text>
<g clip-path="url(#cp28)">
<rect x="445.1" y="583.1" width="76.5" height="75.7" fill="#1426c8" />
<ellipse cx="484.1" cy="621.0" rx="30.0" ry="45.0" fill="url(#rg29)"/>
<ellipse cx="484.9" cy="645.2" rx="14.2" ry="14.2" fill="url(#rg30)"/>
<circle cx="480.6" cy="648.5" r="3.3" fill="none" stroke="#f0f020" stroke-width="1.1" stroke-dasharray="2.6 1.3"/>
<path d="M483.0,651.1 L489.3,657.2 L518.3,657.2" fill="none" stroke="#e8e020" stroke-width="1.0"/>
<text x="519.3" y="654.3" font-size="9.0" font-weight="bold" fill="#f8f418" text-anchor="end" >238.0 °C</text>
</g>
<rect x="522.6" y="583.1" width="2.2" height="75.7" fill="url(#lg15)" />
<line x1="524.8" y1="585.6" x2="526.2" y2="585.6" stroke="#666" stroke-width="0.4" />
<text x="526.6" y="587.0" font-size="4.0" font-weight="normal" fill="#333" text-anchor="start" >238</text>
<line x1="524.8" y1="594.4" x2="526.2" y2="594.4" stroke="#666" stroke-width="0.4" />
<text x="526.6" y="595.8" font-size="4.0" font-weight="normal" fill="#333" text-anchor="start" >210</text>
<line x1="524.8" y1="603.3" x2="526.2" y2="603.3" stroke="#666" stroke-width="0.4" />
<text x="526.6" y="604.7" font-size="4.0" font-weight="normal" fill="#333" text-anchor="start" >180</text>
<line x1="524.8" y1="612.1" x2="526.2" y2="612.1" stroke="#666" stroke-width="0.4" />
<text x="526.6" y="613.5" font-size="4.0" font-weight="normal" fill="#333" text-anchor="start" >150</text>
<line x1="524.8" y1="621.0" x2="526.2" y2="621.0" stroke="#666" stroke-width="0.4" />
<text x="526.6" y="622.4" font-size="4.0" font-weight="normal" fill="#333" text-anchor="start" >120</text>
<line x1="524.8" y1="629.8" x2="526.2" y2="629.8" stroke="#666" stroke-width="0.4" />
<text x="526.6" y="631.2" font-size="4.0" font-weight="normal" fill="#333" text-anchor="start" >90</text>
<line x1="524.8" y1="638.6" x2="526.2" y2="638.6" stroke="#666" stroke-width="0.4" />
<text x="526.6" y="640.0" font-size="4.0" font-weight="normal" fill="#333" text-anchor="start" >60</text>
<line x1="524.8" y1="647.5" x2="526.2" y2="647.5" stroke="#666" stroke-width="0.4" />
<text x="526.6" y="648.9" font-size="4.0" font-weight="normal" fill="#333" text-anchor="start" >40</text>
<line x1="524.8" y1="656.3" x2="526.2" y2="656.3" stroke="#666" stroke-width="0.4" />
<text x="526.6" y="657.7" font-size="4.0" font-weight="normal" fill="#333" text-anchor="start" >26.9</text>
<g clip-path="url(#cp31)">
<rect x="81.3" y="661.1" width="76.7" height="75.5" fill="#1a4ce8" />
<ellipse cx="119.7" cy="706.4" rx="50.0" ry="45.0" fill="url(#rg32)"/>
<circle cx="116.8" cy="723.2" r="3.3" fill="none" stroke="#f0f020" stroke-width="1.1" stroke-dasharray="2.6 1.3"/>
<path d="M119.2,725.8 L125.5,731.9 L154.5,731.9" fill="none" stroke="#e8e020" stroke-width="1.0"/>
<text x="155.5" y="729.0" font-size="9.0" font-weight="bold" fill="#f8f418" text-anchor="end" >26.3 °C</text>
</g>
<rect x="159.0" y="661.1" width="2.2" height="75.5" fill="url(#lg15)" />
<line x1="161.2" y1="663.6" x2="162.6" y2="663.6" stroke="#666" stroke-width="0.4" />
<text x="163.0" y="665.0" font-size="4.0" font-weight="normal" fill="#333" text-anchor="start" >30</text>
<line x1="161.2" y1="672.4" x2="162.6" y2="672.4" stroke="#666" stroke-width="0.4" />
<text x="163.0" y="673.8" font-size="4.0" font-weight="normal" fill="#333" text-anchor="start" >29</text>
<line x1="161.2" y1="681.2" x2="162.6" y2="681.2" stroke="#666" stroke-width="0.4" />
<text x="163.0" y="682.6" font-size="4.0" font-weight="normal" fill="#333" text-anchor="start" >28</text>
<line x1="161.2" y1="690.0" x2="162.6" y2="690.0" stroke="#666" stroke-width="0.4" />
<text x="163.0" y="691.4" font-size="4.0" font-weight="normal" fill="#333" text-anchor="start" >27.5</text>
<line x1="161.2" y1="698.9" x2="162.6" y2="698.9" stroke="#666" stroke-width="0.4" />
<text x="163.0" y="700.2" font-size="4.0" font-weight="normal" fill="#333" text-anchor="start" >27</text>
<line x1="161.2" y1="707.7" x2="162.6" y2="707.7" stroke="#666" stroke-width="0.4" />
<text x="163.0" y="709.1" font-size="4.0" font-weight="normal" fill="#333" text-anchor="start" >26.5</text>
<line x1="161.2" y1="716.5" x2="162.6" y2="716.5" stroke="#666" stroke-width="0.4" />
<text x="163.0" y="717.9" font-size="4.0" font-weight="normal" fill="#333" text-anchor="start" >26</text>
<line x1="161.2" y1="725.3" x2="162.6" y2="725.3" stroke="#666" stroke-width="0.4" />
<text x="163.0" y="726.7" font-size="4.0" font-weight="normal" fill="#333" text-anchor="start" >25.5</text>
<line x1="161.2" y1="734.1" x2="162.6" y2="734.1" stroke="#666" stroke-width="0.4" />
<text x="163.0" y="735.5" font-size="4.0" font-weight="normal" fill="#333" text-anchor="start" >25.7</text>
<g clip-path="url(#cp33)">
<rect x="173.1" y="661.1" width="76.0" height="75.5" fill="#1020c0" />
<ellipse cx="210.3" cy="704.9" rx="31.2" ry="51.2" fill="url(#rg34)"/>
<ellipse cx="210.3" cy="719.2" rx="19.2" ry="25.6" fill="url(#rg35)"/>
<ellipse cx="210.3" cy="721.5" rx="12.0" ry="16.0" fill="url(#rg36)"/>
<circle cx="208.6" cy="724.9" r="3.3" fill="none" stroke="#f0f020" stroke-width="1.1" stroke-dasharray="2.6 1.3"/>
<path d="M211.0,727.5 L217.3,733.6 L246.3,733.6" fill="none" stroke="#e8e020" stroke-width="1.0"/>
<text x="247.3" y="730.7" font-size="9.0" font-weight="bold" fill="#f8f418" text-anchor="end" >71.6 °C</text>
</g>
<rect x="250.1" y="661.1" width="2.2" height="75.5" fill="url(#lg15)" />
<line x1="252.3" y1="663.6" x2="253.7" y2="663.6" stroke="#666" stroke-width="0.4" />
<text x="254.1" y="665.0" font-size="4.0" font-weight="normal" fill="#333" text-anchor="start" >72</text>
<line x1="252.3" y1="672.4" x2="253.7" y2="672.4" stroke="#666" stroke-width="0.4" />
<text x="254.1" y="673.8" font-size="4.0" font-weight="normal" fill="#333" text-anchor="start" >64</text>
<line x1="252.3" y1="681.2" x2="253.7" y2="681.2" stroke="#666" stroke-width="0.4" />
<text x="254.1" y="682.6" font-size="4.0" font-weight="normal" fill="#333" text-anchor="start" >56</text>
<line x1="252.3" y1="690.0" x2="253.7" y2="690.0" stroke="#666" stroke-width="0.4" />
<text x="254.1" y="691.4" font-size="4.0" font-weight="normal" fill="#333" text-anchor="start" >48</text>
<line x1="252.3" y1="698.9" x2="253.7" y2="698.9" stroke="#666" stroke-width="0.4" />
<text x="254.1" y="700.2" font-size="4.0" font-weight="normal" fill="#333" text-anchor="start" >40</text>
<line x1="252.3" y1="707.7" x2="253.7" y2="707.7" stroke="#666" stroke-width="0.4" />
<text x="254.1" y="709.1" font-size="4.0" font-weight="normal" fill="#333" text-anchor="start" >34</text>
<line x1="252.3" y1="716.5" x2="253.7" y2="716.5" stroke="#666" stroke-width="0.4" />
<text x="254.1" y="717.9" font-size="4.0" font-weight="normal" fill="#333" text-anchor="start" >28</text>
<line x1="252.3" y1="725.3" x2="253.7" y2="725.3" stroke="#666" stroke-width="0.4" />
<text x="254.1" y="726.7" font-size="4.0" font-weight="normal" fill="#333" text-anchor="start" >24</text>
<line x1="252.3" y1="734.1" x2="253.7" y2="734.1" stroke="#666" stroke-width="0.4" />
<text x="254.1" y="735.5" font-size="4.0" font-weight="normal" fill="#333" text-anchor="start" >22</text>
<g clip-path="url(#cp37)">
<rect x="263.3" y="661.1" width="75.8" height="75.5" fill="#1a44e0" />
<ellipse cx="302.0" cy="700.4" rx="37.7" ry="53.8" fill="url(#rg38)"/>
<circle cx="298.8" cy="725.6" r="3.3" fill="none" stroke="#f0f020" stroke-width="1.1" stroke-dasharray="2.6 1.3"/>
<path d="M301.2,728.2 L307.5,734.3 L336.5,734.3" fill="none" stroke="#e8e020" stroke-width="1.0"/>
<text x="337.5" y="731.4" font-size="9.0" font-weight="bold" fill="#f8f418" text-anchor="end" >78.5 °C</text>
</g>
<rect x="340.1" y="661.1" width="2.2" height="75.5" fill="url(#lg15)" />
<line x1="342.3" y1="663.6" x2="343.7" y2="663.6" stroke="#666" stroke-width="0.4" />
<text x="344.1" y="665.0" font-size="4.0" font-weight="normal" fill="#333" text-anchor="start" >82.6</text>
<line x1="342.3" y1="672.4" x2="343.7" y2="672.4" stroke="#666" stroke-width="0.4" />
<text x="344.1" y="673.8" font-size="4.0" font-weight="normal" fill="#333" text-anchor="start" >75</text>
<line x1="342.3" y1="681.2" x2="343.7" y2="681.2" stroke="#666" stroke-width="0.4" />
<text x="344.1" y="682.6" font-size="4.0" font-weight="normal" fill="#333" text-anchor="start" >70</text>
<line x1="342.3" y1="690.0" x2="343.7" y2="690.0" stroke="#666" stroke-width="0.4" />
<text x="344.1" y="691.4" font-size="4.0" font-weight="normal" fill="#333" text-anchor="start" >62</text>
<line x1="342.3" y1="698.9" x2="343.7" y2="698.9" stroke="#666" stroke-width="0.4" />
<text x="344.1" y="700.2" font-size="4.0" font-weight="normal" fill="#333" text-anchor="start" >55</text>
<line x1="342.3" y1="707.7" x2="343.7" y2="707.7" stroke="#666" stroke-width="0.4" />
<text x="344.1" y="709.1" font-size="4.0" font-weight="normal" fill="#333" text-anchor="start" >48</text>
<line x1="342.3" y1="716.5" x2="343.7" y2="716.5" stroke="#666" stroke-width="0.4" />
<text x="344.1" y="717.9" font-size="4.0" font-weight="normal" fill="#333" text-anchor="start" >40</text>
<line x1="342.3" y1="725.3" x2="343.7" y2="725.3" stroke="#666" stroke-width="0.4" />
<text x="344.1" y="726.7" font-size="4.0" font-weight="normal" fill="#333" text-anchor="start" >30</text>
<line x1="342.3" y1="734.1" x2="343.7" y2="734.1" stroke="#666" stroke-width="0.4" />
<text x="344.1" y="735.5" font-size="4.0" font-weight="normal" fill="#333" text-anchor="start" >21.8</text>
<g clip-path="url(#cp39)">
<rect x="353.3" y="661.1" width="76.9" height="75.5" fill="#1a44e0" />
<ellipse cx="392.7" cy="700.4" rx="39.6" ry="53.4" fill="url(#rg40)"/>
<circle cx="388.8" cy="725.9" r="3.3" fill="none" stroke="#f0f020" stroke-width="1.1" stroke-dasharray="2.6 1.3"/>
<path d="M391.2,728.5 L397.5,734.6 L426.5,734.6" fill="none" stroke="#e8e020" stroke-width="1.0"/>
<text x="427.5" y="731.7" font-size="9.0" font-weight="bold" fill="#f8f418" text-anchor="end" >91.1 °C</text>
</g>
<rect x="431.2" y="661.1" width="2.2" height="75.5" fill="url(#lg15)" />
<line x1="433.4" y1="663.6" x2="434.8" y2="663.6" stroke="#666" stroke-width="0.4" />
<text x="435.2" y="665.0" font-size="4.0" font-weight="normal" fill="#333" text-anchor="start" >91.8</text>
<line x1="433.4" y1="672.4" x2="434.8" y2="672.4" stroke="#666" stroke-width="0.4" />
<text x="435.2" y="673.8" font-size="4.0" font-weight="normal" fill="#333" text-anchor="start" >85</text>
<line x1="433.4" y1="681.2" x2="434.8" y2="681.2" stroke="#666" stroke-width="0.4" />
<text x="435.2" y="682.6" font-size="4.0" font-weight="normal" fill="#333" text-anchor="start" >75</text>
<line x1="433.4" y1="690.0" x2="434.8" y2="690.0" stroke="#666" stroke-width="0.4" />
<text x="435.2" y="691.4" font-size="4.0" font-weight="normal" fill="#333" text-anchor="start" >65</text>
<line x1="433.4" y1="698.9" x2="434.8" y2="698.9" stroke="#666" stroke-width="0.4" />
<text x="435.2" y="700.2" font-size="4.0" font-weight="normal" fill="#333" text-anchor="start" >55</text>
<line x1="433.4" y1="707.7" x2="434.8" y2="707.7" stroke="#666" stroke-width="0.4" />
<text x="435.2" y="709.1" font-size="4.0" font-weight="normal" fill="#333" text-anchor="start" >45</text>
<line x1="433.4" y1="716.5" x2="434.8" y2="716.5" stroke="#666" stroke-width="0.4" />
<text x="435.2" y="717.9" font-size="4.0" font-weight="normal" fill="#333" text-anchor="start" >35</text>
<line x1="433.4" y1="725.3" x2="434.8" y2="725.3" stroke="#666" stroke-width="0.4" />
<text x="435.2" y="726.7" font-size="4.0" font-weight="normal" fill="#333" text-anchor="start" >28</text>
<line x1="433.4" y1="734.1" x2="434.8" y2="734.1" stroke="#666" stroke-width="0.4" />
<text x="435.2" y="735.5" font-size="4.0" font-weight="normal" fill="#333" text-anchor="start" >21.8</text>
<g clip-path="url(#cp41)">
<rect x="445.1" y="661.1" width="76.5" height="75.5" fill="#1426c8" />
<ellipse cx="479.5" cy="695.1" rx="34.0" ry="48.0" fill="url(#rg42)"/>
<ellipse cx="484.9" cy="722.3" rx="11.5" ry="11.5" fill="url(#rg43)"/>
<circle cx="480.6" cy="728.0" r="3.3" fill="none" stroke="#f0f020" stroke-width="1.1" stroke-dasharray="2.6 1.3"/>
<path d="M483.0,730.6 L489.3,735.8 L518.3,735.8" fill="none" stroke="#e8e020" stroke-width="1.0"/>
<text x="519.3" y="733.8" font-size="9.0" font-weight="bold" fill="#f8f418" text-anchor="end" >206.9 °C</text>
</g>
<rect x="522.6" y="661.1" width="2.2" height="75.5" fill="url(#lg15)" />
<line x1="524.8" y1="663.6" x2="526.2" y2="663.6" stroke="#666" stroke-width="0.4" />
<text x="526.6" y="665.0" font-size="4.0" font-weight="normal" fill="#333" text-anchor="start" >206.9</text>
<line x1="524.8" y1="672.4" x2="526.2" y2="672.4" stroke="#666" stroke-width="0.4" />
<text x="526.6" y="673.8" font-size="4.0" font-weight="normal" fill="#333" text-anchor="start" >180</text>
<line x1="524.8" y1="681.2" x2="526.2" y2="681.2" stroke="#666" stroke-width="0.4" />
<text x="526.6" y="682.6" font-size="4.0" font-weight="normal" fill="#333" text-anchor="start" >150</text>
<line x1="524.8" y1="690.0" x2="526.2" y2="690.0" stroke="#666" stroke-width="0.4" />
<text x="526.6" y="691.4" font-size="4.0" font-weight="normal" fill="#333" text-anchor="start" >120</text>
<line x1="524.8" y1="698.9" x2="526.2" y2="698.9" stroke="#666" stroke-width="0.4" />
<text x="526.6" y="700.2" font-size="4.0" font-weight="normal" fill="#333" text-anchor="start" >100</text>
<line x1="524.8" y1="707.7" x2="526.2" y2="707.7" stroke="#666" stroke-width="0.4" />
<text x="526.6" y="709.1" font-size="4.0" font-weight="normal" fill="#333" text-anchor="start" >70</text>
<line x1="524.8" y1="716.5" x2="526.2" y2="716.5" stroke="#666" stroke-width="0.4" />
<text x="526.6" y="717.9" font-size="4.0" font-weight="normal" fill="#333" text-anchor="start" >50</text>
<line x1="524.8" y1="725.3" x2="526.2" y2="725.3" stroke="#666" stroke-width="0.4" />
<text x="526.6" y="726.7" font-size="4.0" font-weight="normal" fill="#333" text-anchor="start" >40</text>
<line x1="524.8" y1="734.1" x2="526.2" y2="734.1" stroke="#666" stroke-width="0.4" />
<text x="526.6" y="735.5" font-size="4.0" font-weight="normal" fill="#333" text-anchor="start" >21.4</text>
<g clip-path="url(#cp44)">
<rect x="81.3" y="738.8" width="76.7" height="75.6" fill="#1a4ee8" />
<ellipse cx="115.8" cy="795.5" rx="40.0" ry="30.0" fill="url(#rg45)"/>
<circle cx="116.8" cy="805.2" r="3.3" fill="none" stroke="#f0f020" stroke-width="1.1" stroke-dasharray="2.6 1.3"/>
<path d="M119.2,807.8 L125.5,813.6 L154.5,813.6" fill="none" stroke="#e8e020" stroke-width="1.0"/>
<text x="155.5" y="811.0" font-size="9.0" font-weight="bold" fill="#f8f418" text-anchor="end" >20.0 °C</text>
</g>
<rect x="159.0" y="738.8" width="2.2" height="75.6" fill="url(#lg15)" />
<line x1="161.2" y1="741.3" x2="162.6" y2="741.3" stroke="#666" stroke-width="0.4" />
<text x="163.0" y="742.7" font-size="4.0" font-weight="normal" fill="#333" text-anchor="start" >34.1</text>
<line x1="161.2" y1="750.1" x2="162.6" y2="750.1" stroke="#666" stroke-width="0.4" />
<text x="163.0" y="751.5" font-size="4.0" font-weight="normal" fill="#333" text-anchor="start" >33</text>
<line x1="161.2" y1="758.9" x2="162.6" y2="758.9" stroke="#666" stroke-width="0.4" />
<text x="163.0" y="760.3" font-size="4.0" font-weight="normal" fill="#333" text-anchor="start" >31</text>
<line x1="161.2" y1="767.8" x2="162.6" y2="767.8" stroke="#666" stroke-width="0.4" />
<text x="163.0" y="769.2" font-size="4.0" font-weight="normal" fill="#333" text-anchor="start" >29</text>
<line x1="161.2" y1="776.6" x2="162.6" y2="776.6" stroke="#666" stroke-width="0.4" />
<text x="163.0" y="778.0" font-size="4.0" font-weight="normal" fill="#333" text-anchor="start" >27</text>
<line x1="161.2" y1="785.4" x2="162.6" y2="785.4" stroke="#666" stroke-width="0.4" />
<text x="163.0" y="786.8" font-size="4.0" font-weight="normal" fill="#333" text-anchor="start" >25</text>
<line x1="161.2" y1="794.2" x2="162.6" y2="794.2" stroke="#666" stroke-width="0.4" />
<text x="163.0" y="795.6" font-size="4.0" font-weight="normal" fill="#333" text-anchor="start" >23</text>
<line x1="161.2" y1="803.1" x2="162.6" y2="803.1" stroke="#666" stroke-width="0.4" />
<text x="163.0" y="804.5" font-size="4.0" font-weight="normal" fill="#333" text-anchor="start" >21</text>
<line x1="161.2" y1="811.9" x2="162.6" y2="811.9" stroke="#666" stroke-width="0.4" />
<text x="163.0" y="813.3" font-size="4.0" font-weight="normal" fill="#333" text-anchor="start" >19.8</text>
<g clip-path="url(#cp46)">
<rect x="173.1" y="738.8" width="76.0" height="75.6" fill="#1020c0" />
<ellipse cx="212.6" cy="784.2" rx="27.3" ry="41.6" fill="url(#rg47)"/>
<ellipse cx="212.6" cy="798.5" rx="16.8" ry="20.8" fill="url(#rg48)"/>
<ellipse cx="212.6" cy="800.8" rx="10.5" ry="13.0" fill="url(#rg49)"/>
<circle cx="208.6" cy="806.0" r="3.3" fill="none" stroke="#f0f020" stroke-width="1.1" stroke-dasharray="2.6 1.3"/>
<path d="M211.0,808.6 L217.3,813.6 L246.3,813.6" fill="none" stroke="#e8e020" stroke-width="1.0"/>
<text x="247.3" y="811.8" font-size="9.0" font-weight="bold" fill="#f8f418" text-anchor="end" >50.4 °C</text>
</g>
<rect x="250.1" y="738.8" width="2.2" height="75.6" fill="url(#lg15)" />
<line x1="252.3" y1="741.3" x2="253.7" y2="741.3" stroke="#666" stroke-width="0.4" />
<text x="254.1" y="742.7" font-size="4.0" font-weight="normal" fill="#333" text-anchor="start" >50</text>
<line x1="252.3" y1="750.1" x2="253.7" y2="750.1" stroke="#666" stroke-width="0.4" />
<text x="254.1" y="751.5" font-size="4.0" font-weight="normal" fill="#333" text-anchor="start" >45</text>
<line x1="252.3" y1="758.9" x2="253.7" y2="758.9" stroke="#666" stroke-width="0.4" />
<text x="254.1" y="760.3" font-size="4.0" font-weight="normal" fill="#333" text-anchor="start" >40</text>
<line x1="252.3" y1="767.8" x2="253.7" y2="767.8" stroke="#666" stroke-width="0.4" />
<text x="254.1" y="769.2" font-size="4.0" font-weight="normal" fill="#333" text-anchor="start" >35</text>
<line x1="252.3" y1="776.6" x2="253.7" y2="776.6" stroke="#666" stroke-width="0.4" />
<text x="254.1" y="778.0" font-size="4.0" font-weight="normal" fill="#333" text-anchor="start" >30</text>
<line x1="252.3" y1="785.4" x2="253.7" y2="785.4" stroke="#666" stroke-width="0.4" />
<text x="254.1" y="786.8" font-size="4.0" font-weight="normal" fill="#333" text-anchor="start" >27</text>
<line x1="252.3" y1="794.2" x2="253.7" y2="794.2" stroke="#666" stroke-width="0.4" />
<text x="254.1" y="795.6" font-size="4.0" font-weight="normal" fill="#333" text-anchor="start" >25</text>
<line x1="252.3" y1="803.1" x2="253.7" y2="803.1" stroke="#666" stroke-width="0.4" />
<text x="254.1" y="804.5" font-size="4.0" font-weight="normal" fill="#333" text-anchor="start" >23</text>
<line x1="252.3" y1="811.9" x2="253.7" y2="811.9" stroke="#666" stroke-width="0.4" />
<text x="254.1" y="813.3" font-size="4.0" font-weight="normal" fill="#333" text-anchor="start" >21.6</text>
<g clip-path="url(#cp50)">
<rect x="263.3" y="738.8" width="75.8" height="75.6" fill="#1a3ed8" />
<ellipse cx="300.4" cy="776.6" rx="34.0" ry="62.0" fill="url(#rg51)"/>
<ellipse cx="299.8" cy="791.0" rx="27.2" ry="40.3" fill="url(#rg52)"/>
<circle cx="298.8" cy="805.6" r="3.3" fill="none" stroke="#f0f020" stroke-width="1.1" stroke-dasharray="2.6 1.3"/>
<path d="M301.2,808.2 L307.5,813.6 L336.5,813.6" fill="none" stroke="#e8e020" stroke-width="1.0"/>
<text x="337.5" y="811.4" font-size="9.0" font-weight="bold" fill="#f8f418" text-anchor="end" >82.4 °C</text>
</g>
<rect x="340.1" y="738.8" width="2.2" height="75.6" fill="url(#lg15)" />
<line x1="342.3" y1="741.3" x2="343.7" y2="741.3" stroke="#666" stroke-width="0.4" />
<text x="344.1" y="742.7" font-size="4.0" font-weight="normal" fill="#333" text-anchor="start" >81.1</text>
<line x1="342.3" y1="750.1" x2="343.7" y2="750.1" stroke="#666" stroke-width="0.4" />
<text x="344.1" y="751.5" font-size="4.0" font-weight="normal" fill="#333" text-anchor="start" >75</text>
<line x1="342.3" y1="758.9" x2="343.7" y2="758.9" stroke="#666" stroke-width="0.4" />
<text x="344.1" y="760.3" font-size="4.0" font-weight="normal" fill="#333" text-anchor="start" >70</text>
<line x1="342.3" y1="767.8" x2="343.7" y2="767.8" stroke="#666" stroke-width="0.4" />
<text x="344.1" y="769.2" font-size="4.0" font-weight="normal" fill="#333" text-anchor="start" >60</text>
<line x1="342.3" y1="776.6" x2="343.7" y2="776.6" stroke="#666" stroke-width="0.4" />
<text x="344.1" y="778.0" font-size="4.0" font-weight="normal" fill="#333" text-anchor="start" >50</text>
<line x1="342.3" y1="785.4" x2="343.7" y2="785.4" stroke="#666" stroke-width="0.4" />
<text x="344.1" y="786.8" font-size="4.0" font-weight="normal" fill="#333" text-anchor="start" >40</text>
<line x1="342.3" y1="794.2" x2="343.7" y2="794.2" stroke="#666" stroke-width="0.4" />
<text x="344.1" y="795.6" font-size="4.0" font-weight="normal" fill="#333" text-anchor="start" >30</text>
<line x1="342.3" y1="803.1" x2="343.7" y2="803.1" stroke="#666" stroke-width="0.4" />
<text x="344.1" y="804.5" font-size="4.0" font-weight="normal" fill="#333" text-anchor="start" >25</text>
<line x1="342.3" y1="811.9" x2="343.7" y2="811.9" stroke="#666" stroke-width="0.4" />
<text x="344.1" y="813.3" font-size="4.0" font-weight="normal" fill="#333" text-anchor="start" >21.4</text>
<g clip-path="url(#cp53)">
<rect x="353.3" y="738.8" width="76.9" height="75.6" fill="#1a3ed8" />
<ellipse cx="394.1" cy="776.6" rx="36.0" ry="62.0" fill="url(#rg54)"/>
<ellipse cx="391.0" cy="790.2" rx="35.3" ry="39.7" fill="url(#rg55)"/>
<circle cx="388.8" cy="805.6" r="3.3" fill="none" stroke="#f0f020" stroke-width="1.1" stroke-dasharray="2.6 1.3"/>
<path d="M391.2,808.2 L397.5,813.6 L426.5,813.6" fill="none" stroke="#e8e020" stroke-width="1.0"/>
<text x="427.5" y="811.4" font-size="9.0" font-weight="bold" fill="#f8f418" text-anchor="end" >92.6 °C</text>
</g>
<rect x="431.2" y="738.8" width="2.2" height="75.6" fill="url(#lg15)" />
<line x1="433.4" y1="741.3" x2="434.8" y2="741.3" stroke="#666" stroke-width="0.4" />
<text x="435.2" y="742.7" font-size="4.0" font-weight="normal" fill="#333" text-anchor="start" >92.7</text>
<line x1="433.4" y1="750.1" x2="434.8" y2="750.1" stroke="#666" stroke-width="0.4" />
<text x="435.2" y="751.5" font-size="4.0" font-weight="normal" fill="#333" text-anchor="start" >85</text>
<line x1="433.4" y1="758.9" x2="434.8" y2="758.9" stroke="#666" stroke-width="0.4" />
<text x="435.2" y="760.3" font-size="4.0" font-weight="normal" fill="#333" text-anchor="start" >75</text>
<line x1="433.4" y1="767.8" x2="434.8" y2="767.8" stroke="#666" stroke-width="0.4" />
<text x="435.2" y="769.2" font-size="4.0" font-weight="normal" fill="#333" text-anchor="start" >65</text>
<line x1="433.4" y1="776.6" x2="434.8" y2="776.6" stroke="#666" stroke-width="0.4" />
<text x="435.2" y="778.0" font-size="4.0" font-weight="normal" fill="#333" text-anchor="start" >55</text>
<line x1="433.4" y1="785.4" x2="434.8" y2="785.4" stroke="#666" stroke-width="0.4" />
<text x="435.2" y="786.8" font-size="4.0" font-weight="normal" fill="#333" text-anchor="start" >45</text>
<line x1="433.4" y1="794.2" x2="434.8" y2="794.2" stroke="#666" stroke-width="0.4" />
<text x="435.2" y="795.6" font-size="4.0" font-weight="normal" fill="#333" text-anchor="start" >35</text>
<line x1="433.4" y1="803.1" x2="434.8" y2="803.1" stroke="#666" stroke-width="0.4" />
<text x="435.2" y="804.5" font-size="4.0" font-weight="normal" fill="#333" text-anchor="start" >28</text>
<line x1="433.4" y1="811.9" x2="434.8" y2="811.9" stroke="#666" stroke-width="0.4" />
<text x="435.2" y="813.3" font-size="4.0" font-weight="normal" fill="#333" text-anchor="start" >21.4</text>
<g clip-path="url(#cp56)">
<rect x="445.1" y="738.8" width="76.5" height="75.6" fill="#1a3ad8" />
<ellipse cx="483.4" cy="776.6" rx="36.0" ry="58.0" fill="url(#rg57)"/>
<ellipse cx="483.4" cy="784.2" rx="27.0" ry="50.0" fill="url(#rg58)"/>
<ellipse cx="482.6" cy="793.2" rx="12.0" ry="20.0" fill="url(#rg59)"/>
<ellipse cx="482.6" cy="800.0" rx="10.8" ry="13.7" fill="url(#rg60)"/>
<circle cx="480.6" cy="806.0" r="3.3" fill="none" stroke="#f0f020" stroke-width="1.1" stroke-dasharray="2.6 1.3"/>
<path d="M483.0,808.6 L489.3,813.6 L518.3,813.6" fill="none" stroke="#e8e020" stroke-width="1.0"/>
<text x="519.3" y="811.8" font-size="9.0" font-weight="bold" fill="#f8f418" text-anchor="end" >154.0 °C</text>
</g>
<rect x="522.6" y="738.8" width="2.2" height="75.6" fill="url(#lg15)" />
<line x1="524.8" y1="741.3" x2="526.2" y2="741.3" stroke="#666" stroke-width="0.4" />
<text x="526.6" y="742.7" font-size="4.0" font-weight="normal" fill="#333" text-anchor="start" >155</text>
<line x1="524.8" y1="750.1" x2="526.2" y2="750.1" stroke="#666" stroke-width="0.4" />
<text x="526.6" y="751.5" font-size="4.0" font-weight="normal" fill="#333" text-anchor="start" >140</text>
<line x1="524.8" y1="758.9" x2="526.2" y2="758.9" stroke="#666" stroke-width="0.4" />
<text x="526.6" y="760.3" font-size="4.0" font-weight="normal" fill="#333" text-anchor="start" >120</text>
<line x1="524.8" y1="767.8" x2="526.2" y2="767.8" stroke="#666" stroke-width="0.4" />
<text x="526.6" y="769.2" font-size="4.0" font-weight="normal" fill="#333" text-anchor="start" >100</text>
<line x1="524.8" y1="776.6" x2="526.2" y2="776.6" stroke="#666" stroke-width="0.4" />
<text x="526.6" y="778.0" font-size="4.0" font-weight="normal" fill="#333" text-anchor="start" >85</text>
<line x1="524.8" y1="785.4" x2="526.2" y2="785.4" stroke="#666" stroke-width="0.4" />
<text x="526.6" y="786.8" font-size="4.0" font-weight="normal" fill="#333" text-anchor="start" >70</text>
<line x1="524.8" y1="794.2" x2="526.2" y2="794.2" stroke="#666" stroke-width="0.4" />
<text x="526.6" y="795.6" font-size="4.0" font-weight="normal" fill="#333" text-anchor="start" >50</text>
<line x1="524.8" y1="803.1" x2="526.2" y2="803.1" stroke="#666" stroke-width="0.4" />
<text x="526.6" y="804.5" font-size="4.0" font-weight="normal" fill="#333" text-anchor="start" >35</text>
<line x1="524.8" y1="811.9" x2="526.2" y2="811.9" stroke="#666" stroke-width="0.4" />
<text x="526.6" y="813.3" font-size="4.0" font-weight="normal" fill="#333" text-anchor="start" >24.7</text>
<g clip-path="url(#cp61)">
<rect x="81.3" y="816.6" width="76.7" height="75.9" fill="#1a4ae6" />
<ellipse cx="119.7" cy="869.7" rx="45.0" ry="40.0" fill="url(#rg62)"/>
<circle cx="116.8" cy="880.5" r="3.3" fill="none" stroke="#f0f020" stroke-width="1.1" stroke-dasharray="2.6 1.3"/>
<path d="M119.2,883.1 L125.5,889.2 L154.5,889.2" fill="none" stroke="#e8e020" stroke-width="1.0"/>
<text x="155.5" y="886.3" font-size="9.0" font-weight="bold" fill="#f8f418" text-anchor="end" >24.9 °C</text>
</g>
<rect x="159.0" y="816.6" width="2.2" height="75.9" fill="url(#lg15)" />
<line x1="161.2" y1="819.1" x2="162.6" y2="819.1" stroke="#666" stroke-width="0.4" />
<text x="163.0" y="820.5" font-size="4.0" font-weight="normal" fill="#333" text-anchor="start" >31.4</text>
<line x1="161.2" y1="828.0" x2="162.6" y2="828.0" stroke="#666" stroke-width="0.4" />
<text x="163.0" y="829.4" font-size="4.0" font-weight="normal" fill="#333" text-anchor="start" >30</text>
<line x1="161.2" y1="836.8" x2="162.6" y2="836.8" stroke="#666" stroke-width="0.4" />
<text x="163.0" y="838.2" font-size="4.0" font-weight="normal" fill="#333" text-anchor="start" >29</text>
<line x1="161.2" y1="845.7" x2="162.6" y2="845.7" stroke="#666" stroke-width="0.4" />
<text x="163.0" y="847.1" font-size="4.0" font-weight="normal" fill="#333" text-anchor="start" >28</text>
<line x1="161.2" y1="854.5" x2="162.6" y2="854.5" stroke="#666" stroke-width="0.4" />
<text x="163.0" y="855.9" font-size="4.0" font-weight="normal" fill="#333" text-anchor="start" >27</text>
<line x1="161.2" y1="863.4" x2="162.6" y2="863.4" stroke="#666" stroke-width="0.4" />
<text x="163.0" y="864.8" font-size="4.0" font-weight="normal" fill="#333" text-anchor="start" >26</text>
<line x1="161.2" y1="872.3" x2="162.6" y2="872.3" stroke="#666" stroke-width="0.4" />
<text x="163.0" y="873.7" font-size="4.0" font-weight="normal" fill="#333" text-anchor="start" >25</text>
<line x1="161.2" y1="881.1" x2="162.6" y2="881.1" stroke="#666" stroke-width="0.4" />
<text x="163.0" y="882.5" font-size="4.0" font-weight="normal" fill="#333" text-anchor="start" >24</text>
<line x1="161.2" y1="890.0" x2="162.6" y2="890.0" stroke="#666" stroke-width="0.4" />
<text x="163.0" y="891.4" font-size="4.0" font-weight="normal" fill="#333" text-anchor="start" >23.8</text>
<g clip-path="url(#cp63)">
<rect x="173.1" y="816.6" width="76.0" height="75.9" fill="#1020c0" />
<ellipse cx="212.6" cy="860.6" rx="29.9" ry="48.0" fill="url(#rg64)"/>
<ellipse cx="212.6" cy="875.0" rx="18.4" ry="24.0" fill="url(#rg65)"/>
<ellipse cx="212.6" cy="877.3" rx="11.5" ry="15.0" fill="url(#rg66)"/>
<circle cx="208.6" cy="881.6" r="3.3" fill="none" stroke="#f0f020" stroke-width="1.1" stroke-dasharray="2.6 1.3"/>
<path d="M211.0,884.2 L217.3,890.3 L246.3,890.3" fill="none" stroke="#e8e020" stroke-width="1.0"/>
<text x="247.3" y="887.4" font-size="9.0" font-weight="bold" fill="#f8f418" text-anchor="end" >70.1 °C</text>
</g>
<rect x="250.1" y="816.6" width="2.2" height="75.9" fill="url(#lg15)" />
<line x1="252.3" y1="819.1" x2="253.7" y2="819.1" stroke="#666" stroke-width="0.4" />
<text x="254.1" y="820.5" font-size="4.0" font-weight="normal" fill="#333" text-anchor="start" >70</text>
<line x1="252.3" y1="828.0" x2="253.7" y2="828.0" stroke="#666" stroke-width="0.4" />
<text x="254.1" y="829.4" font-size="4.0" font-weight="normal" fill="#333" text-anchor="start" >62</text>
<line x1="252.3" y1="836.8" x2="253.7" y2="836.8" stroke="#666" stroke-width="0.4" />
<text x="254.1" y="838.2" font-size="4.0" font-weight="normal" fill="#333" text-anchor="start" >55</text>
<line x1="252.3" y1="845.7" x2="253.7" y2="845.7" stroke="#666" stroke-width="0.4" />
<text x="254.1" y="847.1" font-size="4.0" font-weight="normal" fill="#333" text-anchor="start" >48</text>
<line x1="252.3" y1="854.5" x2="253.7" y2="854.5" stroke="#666" stroke-width="0.4" />
<text x="254.1" y="855.9" font-size="4.0" font-weight="normal" fill="#333" text-anchor="start" >40</text>
<line x1="252.3" y1="863.4" x2="253.7" y2="863.4" stroke="#666" stroke-width="0.4" />
<text x="254.1" y="864.8" font-size="4.0" font-weight="normal" fill="#333" text-anchor="start" >34</text>
<line x1="252.3" y1="872.3" x2="253.7" y2="872.3" stroke="#666" stroke-width="0.4" />
<text x="254.1" y="873.7" font-size="4.0" font-weight="normal" fill="#333" text-anchor="start" >28</text>
<line x1="252.3" y1="881.1" x2="253.7" y2="881.1" stroke="#666" stroke-width="0.4" />
<text x="254.1" y="882.5" font-size="4.0" font-weight="normal" fill="#333" text-anchor="start" >24</text>
<line x1="252.3" y1="890.0" x2="253.7" y2="890.0" stroke="#666" stroke-width="0.4" />
<text x="254.1" y="891.4" font-size="4.0" font-weight="normal" fill="#333" text-anchor="start" >21.7</text>
<g clip-path="url(#cp67)">
<rect x="263.3" y="816.6" width="75.8" height="75.9" fill="#1a3ed8" />
<ellipse cx="304.2" cy="856.8" rx="39.2" ry="51.8" fill="url(#rg68)"/>
<circle cx="298.8" cy="882.3" r="3.3" fill="none" stroke="#f0f020" stroke-width="1.1" stroke-dasharray="2.6 1.3"/>
<path d="M301.2,884.9 L307.5,891.0 L336.5,891.0" fill="none" stroke="#e8e020" stroke-width="1.0"/>
<text x="337.5" y="888.1" font-size="9.0" font-weight="bold" fill="#f8f418" text-anchor="end" >82.8 °C</text>
</g>
<rect x="340.1" y="816.6" width="2.2" height="75.9" fill="url(#lg15)" />
<line x1="342.3" y1="819.1" x2="343.7" y2="819.1" stroke="#666" stroke-width="0.4" />
<text x="344.1" y="820.5" font-size="4.0" font-weight="normal" fill="#333" text-anchor="start" >82</text>
<line x1="342.3" y1="828.0" x2="343.7" y2="828.0" stroke="#666" stroke-width="0.4" />
<text x="344.1" y="829.4" font-size="4.0" font-weight="normal" fill="#333" text-anchor="start" >75</text>
<line x1="342.3" y1="836.8" x2="343.7" y2="836.8" stroke="#666" stroke-width="0.4" />
<text x="344.1" y="838.2" font-size="4.0" font-weight="normal" fill="#333" text-anchor="start" >70</text>
<line x1="342.3" y1="845.7" x2="343.7" y2="845.7" stroke="#666" stroke-width="0.4" />
<text x="344.1" y="847.1" font-size="4.0" font-weight="normal" fill="#333" text-anchor="start" >62</text>
<line x1="342.3" y1="854.5" x2="343.7" y2="854.5" stroke="#666" stroke-width="0.4" />
<text x="344.1" y="855.9" font-size="4.0" font-weight="normal" fill="#333" text-anchor="start" >55</text>
<line x1="342.3" y1="863.4" x2="343.7" y2="863.4" stroke="#666" stroke-width="0.4" />
<text x="344.1" y="864.8" font-size="4.0" font-weight="normal" fill="#333" text-anchor="start" >48</text>
<line x1="342.3" y1="872.3" x2="343.7" y2="872.3" stroke="#666" stroke-width="0.4" />
<text x="344.1" y="873.7" font-size="4.0" font-weight="normal" fill="#333" text-anchor="start" >40</text>
<line x1="342.3" y1="881.1" x2="343.7" y2="881.1" stroke="#666" stroke-width="0.4" />
<text x="344.1" y="882.5" font-size="4.0" font-weight="normal" fill="#333" text-anchor="start" >30</text>
<line x1="342.3" y1="890.0" x2="343.7" y2="890.0" stroke="#666" stroke-width="0.4" />
<text x="344.1" y="891.4" font-size="4.0" font-weight="normal" fill="#333" text-anchor="start" >21.8</text>
<g clip-path="url(#cp69)">
<rect x="353.3" y="816.6" width="76.9" height="75.9" fill="#1a3ed8" />
<ellipse cx="393.7" cy="856.8" rx="40.3" ry="52.7" fill="url(#rg70)"/>
<ellipse cx="391.8" cy="839.4" rx="20.0" ry="20.0" fill="url(#rg71)"/>
<circle cx="388.8" cy="882.8" r="3.3" fill="none" stroke="#f0f020" stroke-width="1.1" stroke-dasharray="2.6 1.3"/>
<path d="M391.2,885.4 L397.5,891.5 L426.5,891.5" fill="none" stroke="#e8e020" stroke-width="1.0"/>
<text x="427.5" y="888.6" font-size="9.0" font-weight="bold" fill="#f8f418" text-anchor="end" >112.2 °C</text>
</g>
<rect x="431.2" y="816.6" width="2.2" height="75.9" fill="url(#lg15)" />
<line x1="433.4" y1="819.1" x2="434.8" y2="819.1" stroke="#666" stroke-width="0.4" />
<text x="435.2" y="820.5" font-size="4.0" font-weight="normal" fill="#333" text-anchor="start" >112</text>
<line x1="433.4" y1="828.0" x2="434.8" y2="828.0" stroke="#666" stroke-width="0.4" />
<text x="435.2" y="829.4" font-size="4.0" font-weight="normal" fill="#333" text-anchor="start" >100</text>
<line x1="433.4" y1="836.8" x2="434.8" y2="836.8" stroke="#666" stroke-width="0.4" />
<text x="435.2" y="838.2" font-size="4.0" font-weight="normal" fill="#333" text-anchor="start" >90</text>
<line x1="433.4" y1="845.7" x2="434.8" y2="845.7" stroke="#666" stroke-width="0.4" />
<text x="435.2" y="847.1" font-size="4.0" font-weight="normal" fill="#333" text-anchor="start" >80</text>
<line x1="433.4" y1="854.5" x2="434.8" y2="854.5" stroke="#666" stroke-width="0.4" />
<text x="435.2" y="855.9" font-size="4.0" font-weight="normal" fill="#333" text-anchor="start" >70</text>
<line x1="433.4" y1="863.4" x2="434.8" y2="863.4" stroke="#666" stroke-width="0.4" />
<text x="435.2" y="864.8" font-size="4.0" font-weight="normal" fill="#333" text-anchor="start" >55</text>
<line x1="433.4" y1="872.3" x2="434.8" y2="872.3" stroke="#666" stroke-width="0.4" />
<text x="435.2" y="873.7" font-size="4.0" font-weight="normal" fill="#333" text-anchor="start" >40</text>
<line x1="433.4" y1="881.1" x2="434.8" y2="881.1" stroke="#666" stroke-width="0.4" />
<text x="435.2" y="882.5" font-size="4.0" font-weight="normal" fill="#333" text-anchor="start" >30</text>
<line x1="433.4" y1="890.0" x2="434.8" y2="890.0" stroke="#666" stroke-width="0.4" />
<text x="435.2" y="891.4" font-size="4.0" font-weight="normal" fill="#333" text-anchor="start" >21.8</text>
<g clip-path="url(#cp72)">
<rect x="445.1" y="816.6" width="76.5" height="75.9" fill="#1a3ad8" />
<ellipse cx="483.4" cy="854.5" rx="36.0" ry="58.0" fill="url(#rg73)"/>
<ellipse cx="483.4" cy="869.7" rx="22.0" ry="36.0" fill="url(#rg74)"/>
<ellipse cx="483.4" cy="874.3" rx="11.0" ry="17.0" fill="url(#rg75)"/>
<ellipse cx="483.4" cy="878.8" rx="11.3" ry="14.2" fill="url(#rg76)"/>
<circle cx="480.6" cy="882.9" r="3.3" fill="none" stroke="#f0f020" stroke-width="1.1" stroke-dasharray="2.6 1.3"/>
<path d="M483.0,885.5 L489.3,891.6 L518.3,891.6" fill="none" stroke="#e8e020" stroke-width="1.0"/>
<text x="519.3" y="888.7" font-size="9.0" font-weight="bold" fill="#f8f418" text-anchor="end" >170.2 °C</text>
</g>
<rect x="522.6" y="816.6" width="2.2" height="75.9" fill="url(#lg15)" />
<line x1="524.8" y1="819.1" x2="526.2" y2="819.1" stroke="#666" stroke-width="0.4" />
<text x="526.6" y="820.5" font-size="4.0" font-weight="normal" fill="#333" text-anchor="start" >171.7</text>
<line x1="524.8" y1="828.0" x2="526.2" y2="828.0" stroke="#666" stroke-width="0.4" />
<text x="526.6" y="829.4" font-size="4.0" font-weight="normal" fill="#333" text-anchor="start" >160</text>
<line x1="524.8" y1="836.8" x2="526.2" y2="836.8" stroke="#666" stroke-width="0.4" />
<text x="526.6" y="838.2" font-size="4.0" font-weight="normal" fill="#333" text-anchor="start" >140</text>
<line x1="524.8" y1="845.7" x2="526.2" y2="845.7" stroke="#666" stroke-width="0.4" />
<text x="526.6" y="847.1" font-size="4.0" font-weight="normal" fill="#333" text-anchor="start" >120</text>
<line x1="524.8" y1="854.5" x2="526.2" y2="854.5" stroke="#666" stroke-width="0.4" />
<text x="526.6" y="855.9" font-size="4.0" font-weight="normal" fill="#333" text-anchor="start" >100</text>
<line x1="524.8" y1="863.4" x2="526.2" y2="863.4" stroke="#666" stroke-width="0.4" />
<text x="526.6" y="864.8" font-size="4.0" font-weight="normal" fill="#333" text-anchor="start" >80</text>
<line x1="524.8" y1="872.3" x2="526.2" y2="872.3" stroke="#666" stroke-width="0.4" />
<text x="526.6" y="873.7" font-size="4.0" font-weight="normal" fill="#333" text-anchor="start" >60</text>
<line x1="524.8" y1="881.1" x2="526.2" y2="881.1" stroke="#666" stroke-width="0.4" />
<text x="526.6" y="882.5" font-size="4.0" font-weight="normal" fill="#333" text-anchor="start" >40</text>
<line x1="524.8" y1="890.0" x2="526.2" y2="890.0" stroke="#666" stroke-width="0.4" />
<text x="526.6" y="891.4" font-size="4.0" font-weight="normal" fill="#333" text-anchor="start" >21.8</text>
<text x="49.5" y="619.5" font-size="10.9" font-weight="bold" fill="#000" text-anchor="middle" >Particle</text>
<text x="49.5" y="632.8" font-size="10.9" font-weight="bold" fill="#000" text-anchor="middle" >Board</text>
<text x="50.5" y="702.3" font-size="10.9" font-weight="bold" fill="#000" text-anchor="middle" >MDH/PB</text>
<text x="50.5" y="774.6" font-size="10.9" font-weight="bold" fill="#000" text-anchor="middle" >APP+MEL+</text>
<text x="50.5" y="788.0" font-size="10.9" font-weight="bold" fill="#000" text-anchor="middle" >DPE/PB</text>
<text x="50.0" y="857.8" font-size="10.9" font-weight="bold" fill="#000" text-anchor="middle" >ALHP/PB</text>
<text x="120.8" y="907.0" font-size="11.6" font-weight="bold" fill="#000" text-anchor="middle" >1 min</text>
<text x="210.7" y="907.0" font-size="11.6" font-weight="bold" fill="#000" text-anchor="middle" >3 min</text>
<text x="302.3" y="907.0" font-size="11.6" font-weight="bold" fill="#000" text-anchor="middle" >8 min</text>
<text x="392.5" y="907.0" font-size="11.6" font-weight="bold" fill="#000" text-anchor="middle" >12 min</text>
<text x="484.5" y="907.0" font-size="11.6" font-weight="bold" fill="#000" text-anchor="middle" >16 min</text>
<path d="M5.2,8.7 L323,8.7" stroke="#2a2ae8" stroke-width="1.6" stroke-dasharray="6 4" stroke-dashoffset="3.9" fill="none"/>
<path d="M331,8.7 L543.7,8.7" stroke="#2a2ae8" stroke-width="1.6" stroke-dasharray="6 4" stroke-dashoffset="4" fill="none"/>
<path d="M5.2,8.7 L5.2,910.8" stroke="#2a2ae8" stroke-width="1.6" stroke-dasharray="6 4" stroke-dashoffset="0" fill="none"/>
<path d="M5.2,910.8 L543.7,910.8" stroke="#2a2ae8" stroke-width="1.6" stroke-dasharray="6 4" stroke-dashoffset="7.2" fill="none"/>
<path d="M543.7,8.7 L543.7,910.8" stroke="#2a2ae8" stroke-width="1.6" stroke-dasharray="6 4" stroke-dashoffset="0" fill="none"/>
<path d="M323,8.7 L323,240" stroke="#2a2ae8" stroke-width="1.6" stroke-dasharray="6 4" stroke-dashoffset="0" fill="none"/>
<path d="M331,8.7 L331,237.5 L543.7,237.5" stroke="#2a2ae8" stroke-width="1.6" stroke-dasharray="6 4" stroke-dashoffset="0" fill="none"/>
<path d="M321.5,243.3 L543.7,243.3" stroke="#2a2ae8" stroke-width="1.6" stroke-dasharray="6 4" stroke-dashoffset="0" fill="none"/>
<path d="M5.2,456.4 L543.7,456.4" stroke="#2a2ae8" stroke-width="1.6" stroke-dasharray="6 4" stroke-dashoffset="2.5" fill="none"/>
<path d="M5.2,464.3 L543.7,464.3" stroke="#2a2ae8" stroke-width="1.6" stroke-dasharray="6 4" stroke-dashoffset="2.5" fill="none"/>
</svg>
</body></html>
